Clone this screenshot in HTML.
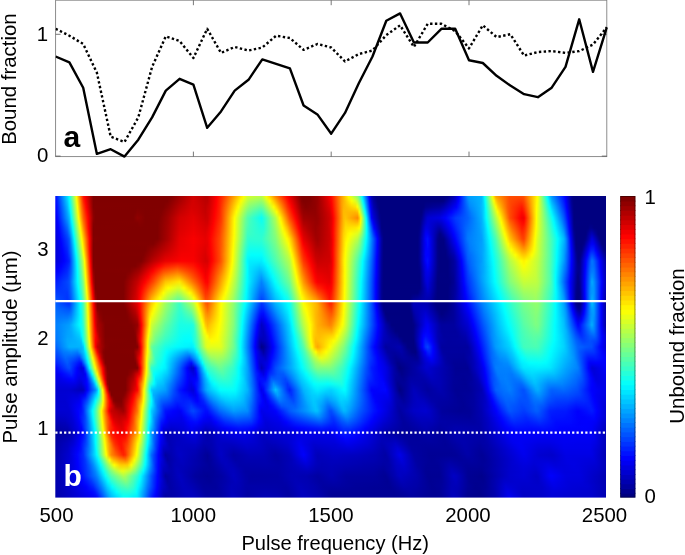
<!DOCTYPE html>
<html><head><meta charset="utf-8"><title>Figure</title>
<style>
html,body{margin:0;padding:0;background:#fff;}
svg{display:block;}
text{font-family:"Liberation Sans",sans-serif;font-size:20.4px;fill:#000;}
.b{font-weight:bold;font-size:30px;}
</style></head><body>
<svg width="685" height="555" viewBox="0 0 685 555">
<rect width="685" height="555" fill="#fff"/>
<defs>
<linearGradient id="g0" gradientUnits="userSpaceOnUse" x1="55.3" x2="606" y1="0" y2="0"><stop offset="0" stop-color="#0005ff"/><stop offset="0.02182" stop-color="#00dbff"/><stop offset="0.02511" stop-color="#00ffff"/><stop offset="0.03828" stop-color="#ffff00"/><stop offset="0.04727" stop-color="#ff4f00"/><stop offset="0.05091" stop-color="#ff1200"/><stop offset="0.05313" stop-color="#ff0000"/><stop offset="0.06909" stop-color="#800000"/><stop offset="0.2109" stop-color="#810000"/><stop offset="0.2509" stop-color="#d00000"/><stop offset="0.2727" stop-color="#b50000"/><stop offset="0.2764" stop-color="#b80000"/><stop offset="0.2938" stop-color="#ff0000"/><stop offset="0.3055" stop-color="#ff3600"/><stop offset="0.3382" stop-color="#ffe900"/><stop offset="0.342" stop-color="#ffff00"/><stop offset="0.3491" stop-color="#d6ff29"/><stop offset="0.36" stop-color="#c9ff36"/><stop offset="0.3745" stop-color="#bdff42"/><stop offset="0.3836" stop-color="#ffff00"/><stop offset="0.4" stop-color="#ff8000"/><stop offset="0.4208" stop-color="#ff0000"/><stop offset="0.4291" stop-color="#d10000"/><stop offset="0.4436" stop-color="#8a0000"/><stop offset="0.4473" stop-color="#800000"/><stop offset="0.4618" stop-color="#800000"/><stop offset="0.4764" stop-color="#990000"/><stop offset="0.4982" stop-color="#f20000"/><stop offset="0.5002" stop-color="#ff0000"/><stop offset="0.52" stop-color="#ff9e00"/><stop offset="0.5326" stop-color="#ffff00"/><stop offset="0.5491" stop-color="#86ff79"/><stop offset="0.5527" stop-color="#4bffb4"/><stop offset="0.5566" stop-color="#00ffff"/><stop offset="0.5699" stop-color="#0000ff"/><stop offset="0.5745" stop-color="#0000a7"/><stop offset="0.5782" stop-color="#000092"/><stop offset="0.5818" stop-color="#000085"/><stop offset="0.5891" stop-color="#000080"/><stop offset="0.7127" stop-color="#000080"/><stop offset="0.7236" stop-color="#0000ad"/><stop offset="0.7273" stop-color="#0000c8"/><stop offset="0.7332" stop-color="#0000ff"/><stop offset="0.7491" stop-color="#0096ff"/><stop offset="0.7527" stop-color="#00a0ff"/><stop offset="0.7745" stop-color="#00b2ff"/><stop offset="0.7795" stop-color="#00ffff"/><stop offset="0.7943" stop-color="#ffff00"/><stop offset="0.8" stop-color="#ff9e00"/><stop offset="0.8255" stop-color="#ff4c00"/><stop offset="0.8473" stop-color="#ff4c00"/><stop offset="0.8509" stop-color="#ff5300"/><stop offset="0.8727" stop-color="#ffea00"/><stop offset="0.8749" stop-color="#ffff00"/><stop offset="0.8764" stop-color="#f1ff0e"/><stop offset="0.8932" stop-color="#00ffff"/><stop offset="0.8982" stop-color="#00b8ff"/><stop offset="0.9018" stop-color="#0093ff"/><stop offset="0.9236" stop-color="#000dff"/><stop offset="0.9253" stop-color="#0000ff"/><stop offset="0.9382" stop-color="#000088"/><stop offset="0.9418" stop-color="#000080"/><stop offset="1" stop-color="#000080"/></linearGradient>
<linearGradient id="g1" gradientUnits="userSpaceOnUse" x1="55.3" x2="606" y1="0" y2="0"><stop offset="0" stop-color="#0006ff"/><stop offset="0.003636" stop-color="#001fff"/><stop offset="0.02182" stop-color="#00ccff"/><stop offset="0.02585" stop-color="#00ffff"/><stop offset="0.03273" stop-color="#81ff7e"/><stop offset="0.03922" stop-color="#ffff00"/><stop offset="0.04727" stop-color="#ff6500"/><stop offset="0.05091" stop-color="#ff2400"/><stop offset="0.05463" stop-color="#ff0000"/><stop offset="0.06909" stop-color="#800000"/><stop offset="0.2036" stop-color="#800000"/><stop offset="0.2473" stop-color="#cf0000"/><stop offset="0.2509" stop-color="#d40000"/><stop offset="0.2727" stop-color="#bc0000"/><stop offset="0.2764" stop-color="#bd0000"/><stop offset="0.2926" stop-color="#ff0000"/><stop offset="0.3018" stop-color="#ff2c00"/><stop offset="0.3371" stop-color="#ffff00"/><stop offset="0.3491" stop-color="#baff45"/><stop offset="0.3527" stop-color="#adff52"/><stop offset="0.3709" stop-color="#96ff69"/><stop offset="0.3745" stop-color="#99ff66"/><stop offset="0.3782" stop-color="#a9ff56"/><stop offset="0.3895" stop-color="#ffff00"/><stop offset="0.4073" stop-color="#ff7700"/><stop offset="0.4246" stop-color="#ff0000"/><stop offset="0.4473" stop-color="#860000"/><stop offset="0.4509" stop-color="#800000"/><stop offset="0.4618" stop-color="#830000"/><stop offset="0.4764" stop-color="#970000"/><stop offset="0.4945" stop-color="#db0000"/><stop offset="0.5018" stop-color="#ff0300"/><stop offset="0.52" stop-color="#ff9e00"/><stop offset="0.5309" stop-color="#ffda00"/><stop offset="0.5383" stop-color="#ffff00"/><stop offset="0.5455" stop-color="#dbff24"/><stop offset="0.5491" stop-color="#b3ff4c"/><stop offset="0.5527" stop-color="#7bff84"/><stop offset="0.5586" stop-color="#00ffff"/><stop offset="0.5709" stop-color="#0000fd"/><stop offset="0.5745" stop-color="#0000c2"/><stop offset="0.5782" stop-color="#00009e"/><stop offset="0.5855" stop-color="#000080"/><stop offset="0.7018" stop-color="#000080"/><stop offset="0.7055" stop-color="#000084"/><stop offset="0.7273" stop-color="#0000db"/><stop offset="0.732" stop-color="#0000ff"/><stop offset="0.7491" stop-color="#0083ff"/><stop offset="0.7527" stop-color="#0096ff"/><stop offset="0.7709" stop-color="#00afff"/><stop offset="0.7745" stop-color="#00baff"/><stop offset="0.7782" stop-color="#00ddff"/><stop offset="0.7804" stop-color="#00ffff"/><stop offset="0.7968" stop-color="#ffff00"/><stop offset="0.8" stop-color="#ffcd00"/><stop offset="0.8036" stop-color="#ffae00"/><stop offset="0.8218" stop-color="#ff5700"/><stop offset="0.8255" stop-color="#ff4a00"/><stop offset="0.8436" stop-color="#ff3700"/><stop offset="0.8473" stop-color="#ff3900"/><stop offset="0.8509" stop-color="#ff4300"/><stop offset="0.8748" stop-color="#ffff00"/><stop offset="0.8764" stop-color="#f3ff0c"/><stop offset="0.8951" stop-color="#00ffff"/><stop offset="0.9018" stop-color="#00adff"/><stop offset="0.9236" stop-color="#001aff"/><stop offset="0.9268" stop-color="#0000ff"/><stop offset="0.9382" stop-color="#00008d"/><stop offset="0.9418" stop-color="#000080"/><stop offset="1" stop-color="#000080"/></linearGradient>
<linearGradient id="g2" gradientUnits="userSpaceOnUse" x1="55.3" x2="606" y1="0" y2="0"><stop offset="0" stop-color="#0001ff"/><stop offset="0.003636" stop-color="#0014ff"/><stop offset="0.02182" stop-color="#00b7ff"/><stop offset="0.02681" stop-color="#00ffff"/><stop offset="0.02909" stop-color="#25ffda"/><stop offset="0.04033" stop-color="#ffff00"/><stop offset="0.04727" stop-color="#ff7900"/><stop offset="0.05091" stop-color="#ff4000"/><stop offset="0.05455" stop-color="#ff1200"/><stop offset="0.05638" stop-color="#ff0000"/><stop offset="0.06909" stop-color="#820000"/><stop offset="0.1964" stop-color="#800000"/><stop offset="0.2073" stop-color="#910000"/><stop offset="0.2255" stop-color="#b70000"/><stop offset="0.2473" stop-color="#d60000"/><stop offset="0.2582" stop-color="#d20000"/><stop offset="0.2727" stop-color="#c10000"/><stop offset="0.28" stop-color="#d10000"/><stop offset="0.2912" stop-color="#ff0000"/><stop offset="0.2982" stop-color="#ff1e00"/><stop offset="0.3323" stop-color="#ffff00"/><stop offset="0.3455" stop-color="#a9ff56"/><stop offset="0.3527" stop-color="#86ff79"/><stop offset="0.3709" stop-color="#64ff9b"/><stop offset="0.3745" stop-color="#68ff97"/><stop offset="0.3782" stop-color="#75ff8a"/><stop offset="0.3969" stop-color="#ffff00"/><stop offset="0.4218" stop-color="#ff2f00"/><stop offset="0.4291" stop-color="#ff0000"/><stop offset="0.4473" stop-color="#930000"/><stop offset="0.4545" stop-color="#850000"/><stop offset="0.4727" stop-color="#900000"/><stop offset="0.4836" stop-color="#ae0000"/><stop offset="0.4982" stop-color="#e00000"/><stop offset="0.5025" stop-color="#ff0000"/><stop offset="0.52" stop-color="#ff9c00"/><stop offset="0.5236" stop-color="#ffb400"/><stop offset="0.5455" stop-color="#ffe500"/><stop offset="0.5482" stop-color="#ffff00"/><stop offset="0.5491" stop-color="#f7ff08"/><stop offset="0.5527" stop-color="#b9ff46"/><stop offset="0.5608" stop-color="#00ffff"/><stop offset="0.5709" stop-color="#0017ff"/><stop offset="0.5723" stop-color="#0000ff"/><stop offset="0.5745" stop-color="#0000da"/><stop offset="0.5782" stop-color="#0000ae"/><stop offset="0.5855" stop-color="#000089"/><stop offset="0.5891" stop-color="#000080"/><stop offset="0.6691" stop-color="#000080"/><stop offset="0.6727" stop-color="#00008b"/><stop offset="0.6873" stop-color="#000096"/><stop offset="0.6982" stop-color="#00009c"/><stop offset="0.7055" stop-color="#0000ad"/><stop offset="0.7284" stop-color="#0000ff"/><stop offset="0.7491" stop-color="#0071ff"/><stop offset="0.7527" stop-color="#0088ff"/><stop offset="0.7709" stop-color="#00adff"/><stop offset="0.7745" stop-color="#00bdff"/><stop offset="0.7782" stop-color="#00d4ff"/><stop offset="0.7813" stop-color="#00ffff"/><stop offset="0.8001" stop-color="#ffff00"/><stop offset="0.8036" stop-color="#ffd400"/><stop offset="0.8218" stop-color="#ff5900"/><stop offset="0.8291" stop-color="#ff3e00"/><stop offset="0.8473" stop-color="#ff1900"/><stop offset="0.8509" stop-color="#ff2e00"/><stop offset="0.8545" stop-color="#ff4a00"/><stop offset="0.874" stop-color="#ffff00"/><stop offset="0.8764" stop-color="#edff12"/><stop offset="0.8836" stop-color="#9fff60"/><stop offset="0.8977" stop-color="#00ffff"/><stop offset="0.9018" stop-color="#00d1ff"/><stop offset="0.9164" stop-color="#0065ff"/><stop offset="0.9236" stop-color="#002eff"/><stop offset="0.9284" stop-color="#0000ff"/><stop offset="0.9382" stop-color="#000096"/><stop offset="0.9418" stop-color="#000080"/><stop offset="1" stop-color="#000080"/></linearGradient>
<linearGradient id="g3" gradientUnits="userSpaceOnUse" x1="55.3" x2="606" y1="0" y2="0"><stop offset="0" stop-color="#0000f6"/><stop offset="0.001499" stop-color="#0000ff"/><stop offset="0.007273" stop-color="#002bff"/><stop offset="0.02182" stop-color="#00a8ff"/><stop offset="0.02545" stop-color="#00d6ff"/><stop offset="0.02788" stop-color="#00ffff"/><stop offset="0.04126" stop-color="#ffff00"/><stop offset="0.04727" stop-color="#ff8b00"/><stop offset="0.05091" stop-color="#ff5200"/><stop offset="0.05455" stop-color="#ff2300"/><stop offset="0.05781" stop-color="#ff0000"/><stop offset="0.06909" stop-color="#880000"/><stop offset="0.07273" stop-color="#800000"/><stop offset="0.1455" stop-color="#800000"/><stop offset="0.1491" stop-color="#850000"/><stop offset="0.1636" stop-color="#800000"/><stop offset="0.1927" stop-color="#820000"/><stop offset="0.2073" stop-color="#9b0000"/><stop offset="0.2255" stop-color="#c30000"/><stop offset="0.2473" stop-color="#dc0000"/><stop offset="0.2582" stop-color="#d60000"/><stop offset="0.2727" stop-color="#c40000"/><stop offset="0.28" stop-color="#d60000"/><stop offset="0.29" stop-color="#ff0000"/><stop offset="0.2982" stop-color="#ff2100"/><stop offset="0.3289" stop-color="#ffff00"/><stop offset="0.3491" stop-color="#75ff8a"/><stop offset="0.36" stop-color="#55ffaa"/><stop offset="0.3709" stop-color="#3cffc3"/><stop offset="0.3745" stop-color="#3affc5"/><stop offset="0.3782" stop-color="#4cffb3"/><stop offset="0.3964" stop-color="#ccff33"/><stop offset="0.4022" stop-color="#ffff00"/><stop offset="0.4218" stop-color="#ff4b00"/><stop offset="0.4291" stop-color="#ff1600"/><stop offset="0.4327" stop-color="#fe0000"/><stop offset="0.4473" stop-color="#a00000"/><stop offset="0.4509" stop-color="#940000"/><stop offset="0.4582" stop-color="#900000"/><stop offset="0.4727" stop-color="#910000"/><stop offset="0.4873" stop-color="#b50000"/><stop offset="0.4982" stop-color="#d50000"/><stop offset="0.5035" stop-color="#ff0000"/><stop offset="0.5236" stop-color="#ffbb00"/><stop offset="0.5455" stop-color="#ffb700"/><stop offset="0.5491" stop-color="#ffc200"/><stop offset="0.5519" stop-color="#ffff00"/><stop offset="0.56" stop-color="#3fffc0"/><stop offset="0.5626" stop-color="#00ffff"/><stop offset="0.5709" stop-color="#0031ff"/><stop offset="0.5733" stop-color="#0000ff"/><stop offset="0.5745" stop-color="#0000e5"/><stop offset="0.5782" stop-color="#0000c1"/><stop offset="0.5891" stop-color="#000080"/><stop offset="0.6655" stop-color="#000080"/><stop offset="0.6727" stop-color="#0000a7"/><stop offset="0.68" stop-color="#0000b3"/><stop offset="0.6982" stop-color="#0000be"/><stop offset="0.7091" stop-color="#0000dd"/><stop offset="0.7189" stop-color="#0000ff"/><stop offset="0.7345" stop-color="#0030ff"/><stop offset="0.7491" stop-color="#0066ff"/><stop offset="0.7564" stop-color="#0084ff"/><stop offset="0.7709" stop-color="#00aaff"/><stop offset="0.7745" stop-color="#00b9ff"/><stop offset="0.7782" stop-color="#00d5ff"/><stop offset="0.782" stop-color="#00ffff"/><stop offset="0.8033" stop-color="#ffff00"/><stop offset="0.8218" stop-color="#ff6000"/><stop offset="0.8255" stop-color="#ff4a00"/><stop offset="0.8473" stop-color="#ff0500"/><stop offset="0.8509" stop-color="#ff1500"/><stop offset="0.8582" stop-color="#ff5c00"/><stop offset="0.8737" stop-color="#ffff00"/><stop offset="0.88" stop-color="#c9ff36"/><stop offset="0.9" stop-color="#00ffff"/><stop offset="0.9055" stop-color="#00cdff"/><stop offset="0.9236" stop-color="#0042ff"/><stop offset="0.9298" stop-color="#0000ff"/><stop offset="0.9382" stop-color="#00009e"/><stop offset="0.9418" stop-color="#000080"/><stop offset="1" stop-color="#000080"/></linearGradient>
<linearGradient id="g4" gradientUnits="userSpaceOnUse" x1="55.3" x2="606" y1="0" y2="0"><stop offset="0" stop-color="#0000e6"/><stop offset="0.003636" stop-color="#0003ff"/><stop offset="0.02182" stop-color="#0097ff"/><stop offset="0.02545" stop-color="#00b9ff"/><stop offset="0.02911" stop-color="#00ffff"/><stop offset="0.04241" stop-color="#ffff00"/><stop offset="0.04727" stop-color="#ffa200"/><stop offset="0.05091" stop-color="#ff6200"/><stop offset="0.0594" stop-color="#ff0000"/><stop offset="0.06909" stop-color="#8f0000"/><stop offset="0.07273" stop-color="#800000"/><stop offset="0.1418" stop-color="#800000"/><stop offset="0.1491" stop-color="#900000"/><stop offset="0.1564" stop-color="#890000"/><stop offset="0.1636" stop-color="#800000"/><stop offset="0.1891" stop-color="#820000"/><stop offset="0.2036" stop-color="#9d0000"/><stop offset="0.2255" stop-color="#d20000"/><stop offset="0.2509" stop-color="#e50000"/><stop offset="0.2727" stop-color="#cb0000"/><stop offset="0.2764" stop-color="#cd0000"/><stop offset="0.2886" stop-color="#ff0000"/><stop offset="0.2982" stop-color="#ff2700"/><stop offset="0.3018" stop-color="#ff3d00"/><stop offset="0.3257" stop-color="#ffff00"/><stop offset="0.3491" stop-color="#53ffac"/><stop offset="0.3564" stop-color="#3affc5"/><stop offset="0.3745" stop-color="#08fff7"/><stop offset="0.3818" stop-color="#34ffcb"/><stop offset="0.4" stop-color="#b1ff4e"/><stop offset="0.4077" stop-color="#ffff00"/><stop offset="0.4255" stop-color="#ff4c00"/><stop offset="0.4364" stop-color="#ff0000"/><stop offset="0.4473" stop-color="#b30000"/><stop offset="0.4509" stop-color="#9f0000"/><stop offset="0.4727" stop-color="#950000"/><stop offset="0.4764" stop-color="#970000"/><stop offset="0.4982" stop-color="#cd0000"/><stop offset="0.5018" stop-color="#e30000"/><stop offset="0.5047" stop-color="#ff0000"/><stop offset="0.5236" stop-color="#ffba00"/><stop offset="0.5273" stop-color="#ffc200"/><stop offset="0.5491" stop-color="#ff8800"/><stop offset="0.5527" stop-color="#ffca00"/><stop offset="0.5548" stop-color="#ffff00"/><stop offset="0.5645" stop-color="#00ffff"/><stop offset="0.5742" stop-color="#0000ff"/><stop offset="0.5745" stop-color="#0000f6"/><stop offset="0.5782" stop-color="#0000d3"/><stop offset="0.5891" stop-color="#00008a"/><stop offset="0.5927" stop-color="#000080"/><stop offset="0.6618" stop-color="#000080"/><stop offset="0.6655" stop-color="#00008c"/><stop offset="0.6727" stop-color="#0000c1"/><stop offset="0.6764" stop-color="#0000d3"/><stop offset="0.6982" stop-color="#0000e2"/><stop offset="0.7091" stop-color="#0002ff"/><stop offset="0.7273" stop-color="#003bff"/><stop offset="0.7491" stop-color="#0060ff"/><stop offset="0.7745" stop-color="#00b1ff"/><stop offset="0.7826" stop-color="#00ffff"/><stop offset="0.8077" stop-color="#ffff00"/><stop offset="0.8255" stop-color="#ff4d00"/><stop offset="0.8442" stop-color="#ff0000"/><stop offset="0.8473" stop-color="#f30000"/><stop offset="0.8509" stop-color="#f20000"/><stop offset="0.852" stop-color="#ff0000"/><stop offset="0.8738" stop-color="#ffff00"/><stop offset="0.8764" stop-color="#e4ff1b"/><stop offset="0.9033" stop-color="#00ffff"/><stop offset="0.9236" stop-color="#0059ff"/><stop offset="0.9309" stop-color="#0005ff"/><stop offset="0.9313" stop-color="#0000ff"/><stop offset="0.9418" stop-color="#000080"/><stop offset="1" stop-color="#000080"/></linearGradient>
<linearGradient id="g5" gradientUnits="userSpaceOnUse" x1="55.3" x2="606" y1="0" y2="0"><stop offset="0" stop-color="#0000e5"/><stop offset="0.004643" stop-color="#0000ff"/><stop offset="0.02182" stop-color="#0081ff"/><stop offset="0.02545" stop-color="#00a9ff"/><stop offset="0.03039" stop-color="#00ffff"/><stop offset="0.04376" stop-color="#ffff00"/><stop offset="0.05091" stop-color="#ff7800"/><stop offset="0.05985" stop-color="#ff0000"/><stop offset="0.06909" stop-color="#860000"/><stop offset="0.07273" stop-color="#800000"/><stop offset="0.1491" stop-color="#820000"/><stop offset="0.1527" stop-color="#860000"/><stop offset="0.1636" stop-color="#800000"/><stop offset="0.1855" stop-color="#800000"/><stop offset="0.2036" stop-color="#a00000"/><stop offset="0.2255" stop-color="#d60000"/><stop offset="0.2509" stop-color="#e90000"/><stop offset="0.2727" stop-color="#d40000"/><stop offset="0.2764" stop-color="#d40000"/><stop offset="0.2873" stop-color="#ff0200"/><stop offset="0.2982" stop-color="#ff3000"/><stop offset="0.3018" stop-color="#ff4300"/><stop offset="0.3253" stop-color="#ffff00"/><stop offset="0.3455" stop-color="#66ff99"/><stop offset="0.3527" stop-color="#42ffbd"/><stop offset="0.3745" stop-color="#16ffe9"/><stop offset="0.3782" stop-color="#1fffe0"/><stop offset="0.4" stop-color="#a5ff5a"/><stop offset="0.4102" stop-color="#ffff00"/><stop offset="0.4255" stop-color="#ff6f00"/><stop offset="0.4394" stop-color="#ff0000"/><stop offset="0.4473" stop-color="#c50000"/><stop offset="0.4509" stop-color="#af0000"/><stop offset="0.4727" stop-color="#990000"/><stop offset="0.4764" stop-color="#990000"/><stop offset="0.4945" stop-color="#c40000"/><stop offset="0.5018" stop-color="#e50000"/><stop offset="0.5044" stop-color="#ff0000"/><stop offset="0.52" stop-color="#ff9d00"/><stop offset="0.5236" stop-color="#ffbd00"/><stop offset="0.5273" stop-color="#ffd300"/><stop offset="0.5455" stop-color="#ffbf00"/><stop offset="0.5491" stop-color="#ffc200"/><stop offset="0.5527" stop-color="#ffe300"/><stop offset="0.554" stop-color="#ffff00"/><stop offset="0.5651" stop-color="#00ffff"/><stop offset="0.5745" stop-color="#0026ff"/><stop offset="0.577" stop-color="#0000ff"/><stop offset="0.5782" stop-color="#0000ec"/><stop offset="0.5891" stop-color="#000094"/><stop offset="0.5927" stop-color="#000080"/><stop offset="0.6618" stop-color="#000080"/><stop offset="0.6691" stop-color="#0000b6"/><stop offset="0.6727" stop-color="#0000cc"/><stop offset="0.6764" stop-color="#0000d9"/><stop offset="0.6945" stop-color="#0000c2"/><stop offset="0.7018" stop-color="#0000ce"/><stop offset="0.7141" stop-color="#0000ff"/><stop offset="0.7273" stop-color="#0032ff"/><stop offset="0.7491" stop-color="#0067ff"/><stop offset="0.7709" stop-color="#00a0ff"/><stop offset="0.7745" stop-color="#00afff"/><stop offset="0.7782" stop-color="#00c8ff"/><stop offset="0.7841" stop-color="#00ffff"/><stop offset="0.8036" stop-color="#bcff43"/><stop offset="0.8103" stop-color="#ffff00"/><stop offset="0.8255" stop-color="#ff6c00"/><stop offset="0.8364" stop-color="#ff3700"/><stop offset="0.8436" stop-color="#ff1600"/><stop offset="0.8473" stop-color="#ff0b00"/><stop offset="0.8509" stop-color="#ff0900"/><stop offset="0.8582" stop-color="#ff5400"/><stop offset="0.8736" stop-color="#ffff00"/><stop offset="0.8764" stop-color="#e3ff1c"/><stop offset="0.9055" stop-color="#00feff"/><stop offset="0.92" stop-color="#008fff"/><stop offset="0.9273" stop-color="#0044ff"/><stop offset="0.9324" stop-color="#0000ff"/><stop offset="0.9418" stop-color="#000082"/><stop offset="1" stop-color="#000080"/></linearGradient>
<linearGradient id="g6" gradientUnits="userSpaceOnUse" x1="55.3" x2="606" y1="0" y2="0"><stop offset="0" stop-color="#0000e2"/><stop offset="0.003636" stop-color="#0000ef"/><stop offset="0.006063" stop-color="#0000ff"/><stop offset="0.02182" stop-color="#0068ff"/><stop offset="0.02545" stop-color="#0096ff"/><stop offset="0.02909" stop-color="#00ceff"/><stop offset="0.03167" stop-color="#00ffff"/><stop offset="0.04511" stop-color="#ffff00"/><stop offset="0.05091" stop-color="#ff9200"/><stop offset="0.05455" stop-color="#ff5600"/><stop offset="0.06046" stop-color="#ff0000"/><stop offset="0.06909" stop-color="#810000"/><stop offset="0.1855" stop-color="#800000"/><stop offset="0.2036" stop-color="#a30000"/><stop offset="0.2255" stop-color="#da0000"/><stop offset="0.2509" stop-color="#ed0000"/><stop offset="0.2727" stop-color="#da0000"/><stop offset="0.2764" stop-color="#df0000"/><stop offset="0.2851" stop-color="#ff0000"/><stop offset="0.2982" stop-color="#ff3700"/><stop offset="0.3055" stop-color="#ff6600"/><stop offset="0.325" stop-color="#ffff00"/><stop offset="0.3455" stop-color="#60ff9f"/><stop offset="0.3491" stop-color="#4bffb4"/><stop offset="0.3527" stop-color="#3effc1"/><stop offset="0.3709" stop-color="#23ffdc"/><stop offset="0.3782" stop-color="#24ffdb"/><stop offset="0.3964" stop-color="#82ff7d"/><stop offset="0.4036" stop-color="#b2ff4d"/><stop offset="0.413" stop-color="#ffff00"/><stop offset="0.4218" stop-color="#ffb700"/><stop offset="0.4291" stop-color="#ff6f00"/><stop offset="0.4422" stop-color="#ff0000"/><stop offset="0.4473" stop-color="#d40000"/><stop offset="0.4509" stop-color="#c20000"/><stop offset="0.4582" stop-color="#b00000"/><stop offset="0.4727" stop-color="#9a0000"/><stop offset="0.4836" stop-color="#ac0000"/><stop offset="0.4945" stop-color="#c40000"/><stop offset="0.4982" stop-color="#d10000"/><stop offset="0.5018" stop-color="#e90000"/><stop offset="0.5041" stop-color="#ff0000"/><stop offset="0.52" stop-color="#ffa300"/><stop offset="0.5236" stop-color="#ffc400"/><stop offset="0.5273" stop-color="#ffde00"/><stop offset="0.5455" stop-color="#ffea00"/><stop offset="0.5491" stop-color="#fff300"/><stop offset="0.5516" stop-color="#ffff00"/><stop offset="0.5527" stop-color="#faff05"/><stop offset="0.5655" stop-color="#00ffff"/><stop offset="0.5745" stop-color="#004dff"/><stop offset="0.5782" stop-color="#000aff"/><stop offset="0.5793" stop-color="#0000ff"/><stop offset="0.5927" stop-color="#000080"/><stop offset="0.6582" stop-color="#000080"/><stop offset="0.6618" stop-color="#000085"/><stop offset="0.6691" stop-color="#0000c4"/><stop offset="0.6727" stop-color="#0000df"/><stop offset="0.6764" stop-color="#0000e0"/><stop offset="0.6873" stop-color="#0000c2"/><stop offset="0.6945" stop-color="#0000ab"/><stop offset="0.6982" stop-color="#0000a6"/><stop offset="0.7091" stop-color="#0000d3"/><stop offset="0.7185" stop-color="#0000ff"/><stop offset="0.7309" stop-color="#0034ff"/><stop offset="0.7455" stop-color="#0065ff"/><stop offset="0.7709" stop-color="#009dff"/><stop offset="0.7782" stop-color="#00c0ff"/><stop offset="0.7855" stop-color="#00ffff"/><stop offset="0.8" stop-color="#80ff7f"/><stop offset="0.813" stop-color="#ffff00"/><stop offset="0.8218" stop-color="#ffa800"/><stop offset="0.8291" stop-color="#ff7200"/><stop offset="0.8473" stop-color="#ff1a00"/><stop offset="0.8509" stop-color="#ff2300"/><stop offset="0.8545" stop-color="#ff3b00"/><stop offset="0.8731" stop-color="#ffff00"/><stop offset="0.88" stop-color="#c6ff39"/><stop offset="0.9074" stop-color="#00ffff"/><stop offset="0.92" stop-color="#00a5ff"/><stop offset="0.9236" stop-color="#0083ff"/><stop offset="0.9273" stop-color="#0057ff"/><stop offset="0.9335" stop-color="#0000ff"/><stop offset="0.9418" stop-color="#000088"/><stop offset="0.9455" stop-color="#000080"/><stop offset="0.9673" stop-color="#000080"/><stop offset="0.9709" stop-color="#00008b"/><stop offset="0.9745" stop-color="#00008b"/><stop offset="0.9782" stop-color="#000081"/><stop offset="1" stop-color="#000080"/></linearGradient>
<linearGradient id="g7" gradientUnits="userSpaceOnUse" x1="55.3" x2="606" y1="0" y2="0"><stop offset="0" stop-color="#0000db"/><stop offset="0.007273" stop-color="#0000fc"/><stop offset="0.02182" stop-color="#004fff"/><stop offset="0.02545" stop-color="#0076ff"/><stop offset="0.02909" stop-color="#00b2ff"/><stop offset="0.03321" stop-color="#00ffff"/><stop offset="0.04672" stop-color="#ffff00"/><stop offset="0.05455" stop-color="#ff7000"/><stop offset="0.06136" stop-color="#ff0000"/><stop offset="0.06909" stop-color="#800000"/><stop offset="0.1855" stop-color="#800000"/><stop offset="0.2036" stop-color="#a60000"/><stop offset="0.2255" stop-color="#e00000"/><stop offset="0.2509" stop-color="#f30000"/><stop offset="0.2727" stop-color="#e10000"/><stop offset="0.28" stop-color="#f30000"/><stop offset="0.2836" stop-color="#ff0300"/><stop offset="0.2982" stop-color="#ff3e00"/><stop offset="0.3091" stop-color="#ff8900"/><stop offset="0.3247" stop-color="#ffff00"/><stop offset="0.3491" stop-color="#3effc1"/><stop offset="0.3636" stop-color="#2fffd0"/><stop offset="0.3745" stop-color="#29ffd6"/><stop offset="0.3782" stop-color="#30ffcf"/><stop offset="0.4" stop-color="#8bff74"/><stop offset="0.4169" stop-color="#ffff00"/><stop offset="0.4218" stop-color="#ffdc00"/><stop offset="0.4291" stop-color="#ff9800"/><stop offset="0.4452" stop-color="#ff0000"/><stop offset="0.4473" stop-color="#eb0000"/><stop offset="0.4509" stop-color="#d50000"/><stop offset="0.4582" stop-color="#c00000"/><stop offset="0.4727" stop-color="#9e0000"/><stop offset="0.48" stop-color="#a60000"/><stop offset="0.4982" stop-color="#cd0000"/><stop offset="0.504" stop-color="#ff0000"/><stop offset="0.5236" stop-color="#ffd100"/><stop offset="0.5309" stop-color="#fff400"/><stop offset="0.5356" stop-color="#ffff00"/><stop offset="0.5491" stop-color="#dcff23"/><stop offset="0.5527" stop-color="#bcff43"/><stop offset="0.5564" stop-color="#8dff72"/><stop offset="0.5654" stop-color="#00ffff"/><stop offset="0.5782" stop-color="#0036ff"/><stop offset="0.5826" stop-color="#0000ff"/><stop offset="0.5927" stop-color="#00008e"/><stop offset="0.5964" stop-color="#000080"/><stop offset="0.6582" stop-color="#000080"/><stop offset="0.6618" stop-color="#00008d"/><stop offset="0.6727" stop-color="#0000f5"/><stop offset="0.6764" stop-color="#0000f4"/><stop offset="0.6873" stop-color="#0000bd"/><stop offset="0.6982" stop-color="#000082"/><stop offset="0.7018" stop-color="#00008e"/><stop offset="0.7228" stop-color="#0000ff"/><stop offset="0.7491" stop-color="#0077ff"/><stop offset="0.7709" stop-color="#009aff"/><stop offset="0.7745" stop-color="#00a4ff"/><stop offset="0.7818" stop-color="#00d4ff"/><stop offset="0.7874" stop-color="#00ffff"/><stop offset="0.8" stop-color="#64ff9b"/><stop offset="0.8162" stop-color="#ffff00"/><stop offset="0.8255" stop-color="#ffab00"/><stop offset="0.8327" stop-color="#ff7f00"/><stop offset="0.8473" stop-color="#ff3200"/><stop offset="0.8509" stop-color="#ff3800"/><stop offset="0.8545" stop-color="#ff5000"/><stop offset="0.8721" stop-color="#ffff00"/><stop offset="0.88" stop-color="#c3ff3c"/><stop offset="0.9101" stop-color="#00ffff"/><stop offset="0.9236" stop-color="#00a5ff"/><stop offset="0.9348" stop-color="#0000ff"/><stop offset="0.9418" stop-color="#000093"/><stop offset="0.9455" stop-color="#000080"/><stop offset="0.9636" stop-color="#000080"/><stop offset="0.9709" stop-color="#0000ac"/><stop offset="0.9745" stop-color="#0000ba"/><stop offset="0.9855" stop-color="#000080"/><stop offset="1" stop-color="#000080"/></linearGradient>
<linearGradient id="g8" gradientUnits="userSpaceOnUse" x1="55.3" x2="606" y1="0" y2="0"><stop offset="0" stop-color="#0000d1"/><stop offset="0.009348" stop-color="#0000ff"/><stop offset="0.02182" stop-color="#003dff"/><stop offset="0.02545" stop-color="#0056ff"/><stop offset="0.03449" stop-color="#00ffff"/><stop offset="0.04808" stop-color="#ffff00"/><stop offset="0.0622" stop-color="#ff0000"/><stop offset="0.06909" stop-color="#830000"/><stop offset="0.08364" stop-color="#800000"/><stop offset="0.1855" stop-color="#800000"/><stop offset="0.2036" stop-color="#a80000"/><stop offset="0.2255" stop-color="#e60000"/><stop offset="0.2509" stop-color="#f90000"/><stop offset="0.2727" stop-color="#e70000"/><stop offset="0.2764" stop-color="#eb0000"/><stop offset="0.2813" stop-color="#ff0000"/><stop offset="0.2982" stop-color="#ff4500"/><stop offset="0.3055" stop-color="#ff7400"/><stop offset="0.3243" stop-color="#ffff00"/><stop offset="0.3491" stop-color="#35ffca"/><stop offset="0.3527" stop-color="#2effd1"/><stop offset="0.3745" stop-color="#2effd1"/><stop offset="0.4" stop-color="#80ff7f"/><stop offset="0.4208" stop-color="#ffff00"/><stop offset="0.4255" stop-color="#ffe000"/><stop offset="0.4475" stop-color="#ff0000"/><stop offset="0.4509" stop-color="#e30000"/><stop offset="0.4727" stop-color="#a40000"/><stop offset="0.4764" stop-color="#a10000"/><stop offset="0.4982" stop-color="#cd0000"/><stop offset="0.5018" stop-color="#e50000"/><stop offset="0.5042" stop-color="#ff0000"/><stop offset="0.5236" stop-color="#ffd600"/><stop offset="0.5273" stop-color="#ffef00"/><stop offset="0.5313" stop-color="#ffff00"/><stop offset="0.5491" stop-color="#b7ff48"/><stop offset="0.5527" stop-color="#92ff6d"/><stop offset="0.5646" stop-color="#00ffff"/><stop offset="0.585" stop-color="#0000ff"/><stop offset="0.5927" stop-color="#00009e"/><stop offset="0.5964" stop-color="#000080"/><stop offset="0.6582" stop-color="#000080"/><stop offset="0.6618" stop-color="#000092"/><stop offset="0.6727" stop-color="#0002ff"/><stop offset="0.6764" stop-color="#000fff"/><stop offset="0.6784" stop-color="#0000ff"/><stop offset="0.6945" stop-color="#000089"/><stop offset="0.6982" stop-color="#000080"/><stop offset="0.7055" stop-color="#000083"/><stop offset="0.726" stop-color="#0000ff"/><stop offset="0.7491" stop-color="#007bff"/><stop offset="0.7709" stop-color="#0099ff"/><stop offset="0.7745" stop-color="#009eff"/><stop offset="0.7891" stop-color="#01fffe"/><stop offset="0.8" stop-color="#4dffb2"/><stop offset="0.819" stop-color="#ffff00"/><stop offset="0.8255" stop-color="#ffc400"/><stop offset="0.8473" stop-color="#ff4700"/><stop offset="0.8509" stop-color="#ff4100"/><stop offset="0.8712" stop-color="#ffff00"/><stop offset="0.8764" stop-color="#d4ff2b"/><stop offset="0.9091" stop-color="#15ffea"/><stop offset="0.9127" stop-color="#00fdff"/><stop offset="0.9236" stop-color="#00baff"/><stop offset="0.9273" stop-color="#008dff"/><stop offset="0.9359" stop-color="#0000ff"/><stop offset="0.9418" stop-color="#00009f"/><stop offset="0.9455" stop-color="#000080"/><stop offset="0.96" stop-color="#000080"/><stop offset="0.9636" stop-color="#000089"/><stop offset="0.9745" stop-color="#0000e1"/><stop offset="0.9782" stop-color="#0000cd"/><stop offset="0.9891" stop-color="#000080"/><stop offset="1" stop-color="#000080"/></linearGradient>
<linearGradient id="g9" gradientUnits="userSpaceOnUse" x1="55.3" x2="606" y1="0" y2="0"><stop offset="0" stop-color="#0000d4"/><stop offset="0.007273" stop-color="#0000ef"/><stop offset="0.01091" stop-color="#0000ff"/><stop offset="0.02182" stop-color="#0034ff"/><stop offset="0.02545" stop-color="#004fff"/><stop offset="0.02909" stop-color="#0089ff"/><stop offset="0.03557" stop-color="#00ffff"/><stop offset="0.04727" stop-color="#d8ff27"/><stop offset="0.04922" stop-color="#ffff00"/><stop offset="0.06227" stop-color="#ff0000"/><stop offset="0.06909" stop-color="#800000"/><stop offset="0.1782" stop-color="#820000"/><stop offset="0.2109" stop-color="#c70000"/><stop offset="0.2255" stop-color="#e80000"/><stop offset="0.2509" stop-color="#f80000"/><stop offset="0.2727" stop-color="#e50000"/><stop offset="0.2764" stop-color="#e70000"/><stop offset="0.2819" stop-color="#ff0000"/><stop offset="0.2982" stop-color="#ff4700"/><stop offset="0.3018" stop-color="#ff5b00"/><stop offset="0.3236" stop-color="#feff01"/><stop offset="0.3455" stop-color="#45ffba"/><stop offset="0.3491" stop-color="#2effd1"/><stop offset="0.3527" stop-color="#20ffdf"/><stop offset="0.3745" stop-color="#23ffdc"/><stop offset="0.3855" stop-color="#43ffbc"/><stop offset="0.4" stop-color="#75ff8a"/><stop offset="0.4218" stop-color="#efff10"/><stop offset="0.424" stop-color="#ffff00"/><stop offset="0.4291" stop-color="#ffd100"/><stop offset="0.4473" stop-color="#ff1700"/><stop offset="0.4498" stop-color="#ff0000"/><stop offset="0.4509" stop-color="#f60000"/><stop offset="0.4727" stop-color="#af0000"/><stop offset="0.4764" stop-color="#a80000"/><stop offset="0.4945" stop-color="#c60000"/><stop offset="0.4982" stop-color="#d30000"/><stop offset="0.5018" stop-color="#e60000"/><stop offset="0.504" stop-color="#ff0000"/><stop offset="0.5236" stop-color="#ffd900"/><stop offset="0.5273" stop-color="#fff800"/><stop offset="0.5287" stop-color="#ffff00"/><stop offset="0.5491" stop-color="#9bff64"/><stop offset="0.5527" stop-color="#7eff81"/><stop offset="0.5636" stop-color="#00ffff"/><stop offset="0.5818" stop-color="#0025ff"/><stop offset="0.5848" stop-color="#0000ff"/><stop offset="0.5927" stop-color="#00009d"/><stop offset="0.5964" stop-color="#000080"/><stop offset="0.6582" stop-color="#000080"/><stop offset="0.6618" stop-color="#000092"/><stop offset="0.6691" stop-color="#0000dc"/><stop offset="0.6737" stop-color="#0000ff"/><stop offset="0.6764" stop-color="#000fff"/><stop offset="0.6785" stop-color="#0000ff"/><stop offset="0.6945" stop-color="#000089"/><stop offset="0.6982" stop-color="#000080"/><stop offset="0.7055" stop-color="#000080"/><stop offset="0.7127" stop-color="#0000a1"/><stop offset="0.7236" stop-color="#0000de"/><stop offset="0.729" stop-color="#0000ff"/><stop offset="0.7455" stop-color="#0060ff"/><stop offset="0.7527" stop-color="#007eff"/><stop offset="0.7745" stop-color="#00a1ff"/><stop offset="0.7782" stop-color="#00b1ff"/><stop offset="0.7903" stop-color="#00ffff"/><stop offset="0.8" stop-color="#40ffbf"/><stop offset="0.8225" stop-color="#ffff00"/><stop offset="0.8255" stop-color="#ffe700"/><stop offset="0.8473" stop-color="#ff7400"/><stop offset="0.8509" stop-color="#ff6700"/><stop offset="0.8655" stop-color="#ffd600"/><stop offset="0.8706" stop-color="#ffff00"/><stop offset="0.8764" stop-color="#d0ff2f"/><stop offset="0.9018" stop-color="#40ffbf"/><stop offset="0.9118" stop-color="#00ffff"/><stop offset="0.9236" stop-color="#00b0ff"/><stop offset="0.9273" stop-color="#008dff"/><stop offset="0.9365" stop-color="#0000ff"/><stop offset="0.9418" stop-color="#0000ae"/><stop offset="0.9455" stop-color="#000080"/><stop offset="0.9564" stop-color="#000080"/><stop offset="0.96" stop-color="#000087"/><stop offset="0.9709" stop-color="#0000e6"/><stop offset="0.9745" stop-color="#0000f6"/><stop offset="0.9782" stop-color="#0000ee"/><stop offset="0.9927" stop-color="#000080"/><stop offset="1" stop-color="#000080"/></linearGradient>
<linearGradient id="g10" gradientUnits="userSpaceOnUse" x1="55.3" x2="606" y1="0" y2="0"><stop offset="0" stop-color="#0000d5"/><stop offset="0.003636" stop-color="#0000dc"/><stop offset="0.01261" stop-color="#0000ff"/><stop offset="0.02182" stop-color="#0024ff"/><stop offset="0.02545" stop-color="#0047ff"/><stop offset="0.02909" stop-color="#0077ff"/><stop offset="0.03685" stop-color="#00ffff"/><stop offset="0.04727" stop-color="#b7ff48"/><stop offset="0.05061" stop-color="#ffff00"/><stop offset="0.06257" stop-color="#ff0000"/><stop offset="0.06545" stop-color="#c20000"/><stop offset="0.06909" stop-color="#800000"/><stop offset="0.1636" stop-color="#800000"/><stop offset="0.1855" stop-color="#a50000"/><stop offset="0.2255" stop-color="#ed0000"/><stop offset="0.2509" stop-color="#f60000"/><stop offset="0.2727" stop-color="#de0000"/><stop offset="0.28" stop-color="#f30000"/><stop offset="0.2827" stop-color="#ff0000"/><stop offset="0.2982" stop-color="#ff4700"/><stop offset="0.3055" stop-color="#ff7800"/><stop offset="0.3228" stop-color="#ffff00"/><stop offset="0.3455" stop-color="#36ffc9"/><stop offset="0.3491" stop-color="#1effe1"/><stop offset="0.3527" stop-color="#0ffff0"/><stop offset="0.3709" stop-color="#0ffff0"/><stop offset="0.3782" stop-color="#1affe5"/><stop offset="0.4036" stop-color="#75ff8a"/><stop offset="0.4218" stop-color="#d2ff2d"/><stop offset="0.4271" stop-color="#ffff00"/><stop offset="0.4473" stop-color="#ff2c00"/><stop offset="0.454" stop-color="#ff0000"/><stop offset="0.4727" stop-color="#ba0000"/><stop offset="0.48" stop-color="#b70000"/><stop offset="0.4945" stop-color="#c80000"/><stop offset="0.4982" stop-color="#d20000"/><stop offset="0.5018" stop-color="#eb0000"/><stop offset="0.5037" stop-color="#ff0000"/><stop offset="0.5236" stop-color="#ffde00"/><stop offset="0.5273" stop-color="#feff01"/><stop offset="0.5491" stop-color="#7eff81"/><stop offset="0.5527" stop-color="#65ff9a"/><stop offset="0.5621" stop-color="#00ffff"/><stop offset="0.5745" stop-color="#0076ff"/><stop offset="0.5845" stop-color="#0000ff"/><stop offset="0.5927" stop-color="#00009b"/><stop offset="0.5964" stop-color="#000080"/><stop offset="0.6582" stop-color="#000080"/><stop offset="0.6618" stop-color="#000092"/><stop offset="0.6727" stop-color="#0000fe"/><stop offset="0.6764" stop-color="#0003ff"/><stop offset="0.68" stop-color="#0000f4"/><stop offset="0.6945" stop-color="#000089"/><stop offset="0.6982" stop-color="#000080"/><stop offset="0.7091" stop-color="#000083"/><stop offset="0.7236" stop-color="#0000c4"/><stop offset="0.7324" stop-color="#0000ff"/><stop offset="0.7455" stop-color="#0056ff"/><stop offset="0.7527" stop-color="#0077ff"/><stop offset="0.7745" stop-color="#00a2ff"/><stop offset="0.7782" stop-color="#00aeff"/><stop offset="0.7919" stop-color="#00ffff"/><stop offset="0.8036" stop-color="#4affb5"/><stop offset="0.8218" stop-color="#d7ff28"/><stop offset="0.8282" stop-color="#ffff00"/><stop offset="0.8473" stop-color="#ffa500"/><stop offset="0.8509" stop-color="#ffa000"/><stop offset="0.8545" stop-color="#ffa800"/><stop offset="0.8691" stop-color="#feff01"/><stop offset="0.88" stop-color="#b8ff47"/><stop offset="0.8982" stop-color="#56ffa9"/><stop offset="0.9111" stop-color="#00ffff"/><stop offset="0.9236" stop-color="#00a7ff"/><stop offset="0.9273" stop-color="#0087ff"/><stop offset="0.937" stop-color="#0000ff"/><stop offset="0.9455" stop-color="#000089"/><stop offset="0.9491" stop-color="#000080"/><stop offset="0.9564" stop-color="#000084"/><stop offset="0.9692" stop-color="#0000ff"/><stop offset="0.9709" stop-color="#0011ff"/><stop offset="0.9745" stop-color="#001dff"/><stop offset="0.9782" stop-color="#0018ff"/><stop offset="0.9811" stop-color="#0000ff"/><stop offset="0.9964" stop-color="#000082"/><stop offset="1" stop-color="#000080"/></linearGradient>
<linearGradient id="g11" gradientUnits="userSpaceOnUse" x1="55.3" x2="606" y1="0" y2="0"><stop offset="0" stop-color="#0000d4"/><stop offset="0.01091" stop-color="#0000f4"/><stop offset="0.01455" stop-color="#0001ff"/><stop offset="0.02182" stop-color="#001aff"/><stop offset="0.02545" stop-color="#0039ff"/><stop offset="0.02909" stop-color="#006aff"/><stop offset="0.0379" stop-color="#00ffff"/><stop offset="0.04727" stop-color="#9fff60"/><stop offset="0.05179" stop-color="#ffff00"/><stop offset="0.06297" stop-color="#ff0000"/><stop offset="0.06545" stop-color="#c60000"/><stop offset="0.06909" stop-color="#800000"/><stop offset="0.16" stop-color="#810000"/><stop offset="0.2" stop-color="#d20000"/><stop offset="0.2291" stop-color="#f50000"/><stop offset="0.2509" stop-color="#f60000"/><stop offset="0.2727" stop-color="#d90000"/><stop offset="0.28" stop-color="#ef0000"/><stop offset="0.2836" stop-color="#ff0100"/><stop offset="0.2982" stop-color="#ff4500"/><stop offset="0.3127" stop-color="#ffb300"/><stop offset="0.3223" stop-color="#ffff00"/><stop offset="0.3491" stop-color="#0bfff4"/><stop offset="0.3564" stop-color="#01fffe"/><stop offset="0.3745" stop-color="#03fffc"/><stop offset="0.4" stop-color="#5bffa4"/><stop offset="0.4218" stop-color="#bcff43"/><stop offset="0.4255" stop-color="#d7ff28"/><stop offset="0.4295" stop-color="#ffff00"/><stop offset="0.4473" stop-color="#ff3f00"/><stop offset="0.4509" stop-color="#ff2300"/><stop offset="0.4581" stop-color="#ff0000"/><stop offset="0.4727" stop-color="#c40000"/><stop offset="0.48" stop-color="#bf0000"/><stop offset="0.4982" stop-color="#ce0000"/><stop offset="0.5037" stop-color="#ff0000"/><stop offset="0.5236" stop-color="#ffe500"/><stop offset="0.5267" stop-color="#ffff00"/><stop offset="0.5382" stop-color="#b0ff4f"/><stop offset="0.5491" stop-color="#69ff96"/><stop offset="0.5564" stop-color="#2affd5"/><stop offset="0.5605" stop-color="#00ffff"/><stop offset="0.5745" stop-color="#006fff"/><stop offset="0.584" stop-color="#0000ff"/><stop offset="0.5927" stop-color="#000099"/><stop offset="0.5964" stop-color="#000080"/><stop offset="0.6582" stop-color="#000080"/><stop offset="0.6618" stop-color="#000092"/><stop offset="0.6727" stop-color="#0002ff"/><stop offset="0.6772" stop-color="#0000ff"/><stop offset="0.68" stop-color="#0000f4"/><stop offset="0.6945" stop-color="#000089"/><stop offset="0.6982" stop-color="#000080"/><stop offset="0.7091" stop-color="#000080"/><stop offset="0.7236" stop-color="#0000ae"/><stop offset="0.7349" stop-color="#0000ff"/><stop offset="0.7491" stop-color="#0063ff"/><stop offset="0.7636" stop-color="#0087ff"/><stop offset="0.7745" stop-color="#00a0ff"/><stop offset="0.7818" stop-color="#00c1ff"/><stop offset="0.7932" stop-color="#00ffff"/><stop offset="0.8036" stop-color="#3dffc2"/><stop offset="0.8255" stop-color="#d1ff2e"/><stop offset="0.8355" stop-color="#ffff00"/><stop offset="0.8473" stop-color="#ffcd00"/><stop offset="0.8509" stop-color="#ffc900"/><stop offset="0.8545" stop-color="#ffce00"/><stop offset="0.8655" stop-color="#ffff00"/><stop offset="0.8764" stop-color="#c9ff36"/><stop offset="0.8982" stop-color="#57ffa8"/><stop offset="0.9107" stop-color="#00ffff"/><stop offset="0.9236" stop-color="#00a4ff"/><stop offset="0.9309" stop-color="#0054ff"/><stop offset="0.9374" stop-color="#0000ff"/><stop offset="0.9455" stop-color="#000096"/><stop offset="0.9491" stop-color="#000080"/><stop offset="0.9527" stop-color="#000080"/><stop offset="0.9564" stop-color="#00009a"/><stop offset="0.9662" stop-color="#0000ff"/><stop offset="0.9709" stop-color="#0031ff"/><stop offset="0.9745" stop-color="#0047ff"/><stop offset="0.9782" stop-color="#0037ff"/><stop offset="0.985" stop-color="#0000ff"/><stop offset="0.9964" stop-color="#00009e"/><stop offset="1" stop-color="#000089"/></linearGradient>
<linearGradient id="g12" gradientUnits="userSpaceOnUse" x1="55.3" x2="606" y1="0" y2="0"><stop offset="0" stop-color="#0000d3"/><stop offset="0.01574" stop-color="#0000ff"/><stop offset="0.02182" stop-color="#0012ff"/><stop offset="0.02545" stop-color="#0021ff"/><stop offset="0.03911" stop-color="#00ffff"/><stop offset="0.04727" stop-color="#85ff7a"/><stop offset="0.05091" stop-color="#c8ff37"/><stop offset="0.05317" stop-color="#ffff00"/><stop offset="0.06358" stop-color="#ff0000"/><stop offset="0.06909" stop-color="#800000"/><stop offset="0.1564" stop-color="#800000"/><stop offset="0.1782" stop-color="#bc0000"/><stop offset="0.2" stop-color="#e90000"/><stop offset="0.2291" stop-color="#fd0000"/><stop offset="0.2509" stop-color="#fa0000"/><stop offset="0.2727" stop-color="#d60000"/><stop offset="0.2764" stop-color="#d90000"/><stop offset="0.2841" stop-color="#ff0000"/><stop offset="0.2982" stop-color="#ff4500"/><stop offset="0.3018" stop-color="#ff5d00"/><stop offset="0.3218" stop-color="#ffff00"/><stop offset="0.3309" stop-color="#abff54"/><stop offset="0.3485" stop-color="#00ffff"/><stop offset="0.3491" stop-color="#00f9ff"/><stop offset="0.3527" stop-color="#00efff"/><stop offset="0.3745" stop-color="#00eeff"/><stop offset="0.3796" stop-color="#00ffff"/><stop offset="0.4109" stop-color="#78ff87"/><stop offset="0.4255" stop-color="#b6ff49"/><stop offset="0.4321" stop-color="#ffff00"/><stop offset="0.4473" stop-color="#ff5800"/><stop offset="0.4509" stop-color="#ff3600"/><stop offset="0.4627" stop-color="#ff0000"/><stop offset="0.4727" stop-color="#d20000"/><stop offset="0.4764" stop-color="#c80000"/><stop offset="0.4982" stop-color="#d10000"/><stop offset="0.5018" stop-color="#e70000"/><stop offset="0.5039" stop-color="#ff0000"/><stop offset="0.5236" stop-color="#ffea00"/><stop offset="0.526" stop-color="#ffff00"/><stop offset="0.5491" stop-color="#53ffac"/><stop offset="0.5581" stop-color="#00ffff"/><stop offset="0.5745" stop-color="#0065ff"/><stop offset="0.5835" stop-color="#0000ff"/><stop offset="0.5927" stop-color="#000095"/><stop offset="0.5964" stop-color="#000080"/><stop offset="0.6582" stop-color="#000080"/><stop offset="0.6618" stop-color="#000091"/><stop offset="0.6727" stop-color="#0001ff"/><stop offset="0.6764" stop-color="#000fff"/><stop offset="0.6784" stop-color="#0000ff"/><stop offset="0.6945" stop-color="#000089"/><stop offset="0.6982" stop-color="#000080"/><stop offset="0.7127" stop-color="#000080"/><stop offset="0.7236" stop-color="#00009b"/><stop offset="0.7273" stop-color="#0000af"/><stop offset="0.7376" stop-color="#0000ff"/><stop offset="0.7491" stop-color="#0059ff"/><stop offset="0.7564" stop-color="#0070ff"/><stop offset="0.7745" stop-color="#009dff"/><stop offset="0.7949" stop-color="#00ffff"/><stop offset="0.8036" stop-color="#2fffd0"/><stop offset="0.8255" stop-color="#b3ff4c"/><stop offset="0.8462" stop-color="#ffff00"/><stop offset="0.8509" stop-color="#fff300"/><stop offset="0.8551" stop-color="#ffff00"/><stop offset="0.8764" stop-color="#c0ff3f"/><stop offset="0.8982" stop-color="#55ffaa"/><stop offset="0.9055" stop-color="#24ffdb"/><stop offset="0.9103" stop-color="#00ffff"/><stop offset="0.9236" stop-color="#009dff"/><stop offset="0.9273" stop-color="#0078ff"/><stop offset="0.9375" stop-color="#0000ff"/><stop offset="0.9455" stop-color="#0000a1"/><stop offset="0.9491" stop-color="#000080"/><stop offset="0.9527" stop-color="#000089"/><stop offset="0.9636" stop-color="#0003ff"/><stop offset="0.9745" stop-color="#007aff"/><stop offset="0.9782" stop-color="#0064ff"/><stop offset="0.9893" stop-color="#0000ff"/><stop offset="1" stop-color="#00009f"/></linearGradient>
<linearGradient id="g13" gradientUnits="userSpaceOnUse" x1="55.3" x2="606" y1="0" y2="0"><stop offset="0" stop-color="#0000e5"/><stop offset="0.01091" stop-color="#0000ff"/><stop offset="0.02182" stop-color="#001fff"/><stop offset="0.02545" stop-color="#0031ff"/><stop offset="0.02909" stop-color="#005fff"/><stop offset="0.03969" stop-color="#00ffff"/><stop offset="0.04727" stop-color="#77ff88"/><stop offset="0.05091" stop-color="#bbff44"/><stop offset="0.05376" stop-color="#ffff00"/><stop offset="0.06412" stop-color="#ff0000"/><stop offset="0.06909" stop-color="#840000"/><stop offset="0.07636" stop-color="#800000"/><stop offset="0.1455" stop-color="#800000"/><stop offset="0.1527" stop-color="#8d0000"/><stop offset="0.1884" stop-color="#ff0000"/><stop offset="0.2" stop-color="#ff1e00"/><stop offset="0.2218" stop-color="#ff3400"/><stop offset="0.2509" stop-color="#ff1300"/><stop offset="0.259" stop-color="#ff0000"/><stop offset="0.2691" stop-color="#e60000"/><stop offset="0.2764" stop-color="#e40000"/><stop offset="0.2814" stop-color="#ff0000"/><stop offset="0.3018" stop-color="#ff6d00"/><stop offset="0.3206" stop-color="#ffff00"/><stop offset="0.3309" stop-color="#a6ff59"/><stop offset="0.3488" stop-color="#00ffff"/><stop offset="0.3527" stop-color="#00e8ff"/><stop offset="0.3709" stop-color="#00d4ff"/><stop offset="0.3782" stop-color="#00e2ff"/><stop offset="0.3855" stop-color="#01fffe"/><stop offset="0.4218" stop-color="#95ff6a"/><stop offset="0.4255" stop-color="#a9ff56"/><stop offset="0.4339" stop-color="#ffff00"/><stop offset="0.4509" stop-color="#ff4d00"/><stop offset="0.4659" stop-color="#ff0000"/><stop offset="0.4764" stop-color="#d30000"/><stop offset="0.4945" stop-color="#d40000"/><stop offset="0.4982" stop-color="#dc0000"/><stop offset="0.5018" stop-color="#ea0000"/><stop offset="0.5036" stop-color="#ff0000"/><stop offset="0.5236" stop-color="#ffe800"/><stop offset="0.5259" stop-color="#ffff00"/><stop offset="0.5382" stop-color="#9eff61"/><stop offset="0.5527" stop-color="#2cffd3"/><stop offset="0.5575" stop-color="#00ffff"/><stop offset="0.5745" stop-color="#005fff"/><stop offset="0.5833" stop-color="#0000ff"/><stop offset="0.5927" stop-color="#000095"/><stop offset="0.5964" stop-color="#000080"/><stop offset="0.6582" stop-color="#000080"/><stop offset="0.6618" stop-color="#00008a"/><stop offset="0.6691" stop-color="#0000d0"/><stop offset="0.6755" stop-color="#0000ff"/><stop offset="0.6764" stop-color="#0006ff"/><stop offset="0.6772" stop-color="#0000ff"/><stop offset="0.6945" stop-color="#000088"/><stop offset="0.6982" stop-color="#000080"/><stop offset="0.7127" stop-color="#000080"/><stop offset="0.7236" stop-color="#00009b"/><stop offset="0.7273" stop-color="#0000ab"/><stop offset="0.7385" stop-color="#0000ff"/><stop offset="0.7491" stop-color="#004dff"/><stop offset="0.7527" stop-color="#0060ff"/><stop offset="0.7782" stop-color="#00acff"/><stop offset="0.7964" stop-color="#03fffc"/><stop offset="0.8145" stop-color="#68ff97"/><stop offset="0.8255" stop-color="#a5ff5a"/><stop offset="0.8473" stop-color="#f1ff0e"/><stop offset="0.8509" stop-color="#fbff04"/><stop offset="0.8727" stop-color="#caff35"/><stop offset="0.88" stop-color="#adff52"/><stop offset="0.8982" stop-color="#53ffac"/><stop offset="0.9055" stop-color="#20ffdf"/><stop offset="0.9095" stop-color="#00ffff"/><stop offset="0.9273" stop-color="#0070ff"/><stop offset="0.9371" stop-color="#0000ff"/><stop offset="0.9455" stop-color="#0000a1"/><stop offset="0.9491" stop-color="#00008a"/><stop offset="0.9527" stop-color="#00008d"/><stop offset="0.9627" stop-color="#0000ff"/><stop offset="0.9709" stop-color="#005fff"/><stop offset="0.9745" stop-color="#0074ff"/><stop offset="0.9782" stop-color="#006dff"/><stop offset="0.99" stop-color="#0000ff"/><stop offset="0.9964" stop-color="#0000c5"/><stop offset="1" stop-color="#0000ac"/></linearGradient>
<linearGradient id="g14" gradientUnits="userSpaceOnUse" x1="55.3" x2="606" y1="0" y2="0"><stop offset="0" stop-color="#0000f6"/><stop offset="0.005132" stop-color="#0000ff"/><stop offset="0.02182" stop-color="#0029ff"/><stop offset="0.02545" stop-color="#0041ff"/><stop offset="0.02909" stop-color="#0064ff"/><stop offset="0.04016" stop-color="#00ffff"/><stop offset="0.04727" stop-color="#64ff9b"/><stop offset="0.05091" stop-color="#afff50"/><stop offset="0.0544" stop-color="#ffff00"/><stop offset="0.06466" stop-color="#ff0000"/><stop offset="0.06909" stop-color="#910000"/><stop offset="0.07273" stop-color="#800000"/><stop offset="0.1345" stop-color="#820000"/><stop offset="0.1527" stop-color="#a30000"/><stop offset="0.1771" stop-color="#ff0000"/><stop offset="0.1964" stop-color="#ff4a00"/><stop offset="0.2109" stop-color="#ff6100"/><stop offset="0.2218" stop-color="#ff6e00"/><stop offset="0.2509" stop-color="#ff2d00"/><stop offset="0.2655" stop-color="#ff0000"/><stop offset="0.2727" stop-color="#eb0000"/><stop offset="0.2764" stop-color="#f30000"/><stop offset="0.279" stop-color="#ff0000"/><stop offset="0.3018" stop-color="#ff8000"/><stop offset="0.3192" stop-color="#ffff00"/><stop offset="0.3309" stop-color="#9fff60"/><stop offset="0.3489" stop-color="#00ffff"/><stop offset="0.3527" stop-color="#00e4ff"/><stop offset="0.3709" stop-color="#00bcff"/><stop offset="0.3745" stop-color="#00c0ff"/><stop offset="0.3818" stop-color="#00daff"/><stop offset="0.39" stop-color="#00ffff"/><stop offset="0.4218" stop-color="#83ff7c"/><stop offset="0.4255" stop-color="#9bff64"/><stop offset="0.4291" stop-color="#b9ff46"/><stop offset="0.4358" stop-color="#ffff00"/><stop offset="0.4473" stop-color="#ff8700"/><stop offset="0.4509" stop-color="#ff6700"/><stop offset="0.4582" stop-color="#ff3a00"/><stop offset="0.4691" stop-color="#fd0000"/><stop offset="0.4727" stop-color="#eb0000"/><stop offset="0.4764" stop-color="#e10000"/><stop offset="0.4945" stop-color="#da0000"/><stop offset="0.4982" stop-color="#df0000"/><stop offset="0.5018" stop-color="#f30000"/><stop offset="0.503" stop-color="#ff0000"/><stop offset="0.5259" stop-color="#ffff00"/><stop offset="0.5455" stop-color="#60ff9f"/><stop offset="0.5568" stop-color="#00ffff"/><stop offset="0.5745" stop-color="#005aff"/><stop offset="0.583" stop-color="#0000ff"/><stop offset="0.5927" stop-color="#000094"/><stop offset="0.5964" stop-color="#000080"/><stop offset="0.6582" stop-color="#000080"/><stop offset="0.6618" stop-color="#000084"/><stop offset="0.6727" stop-color="#0000e5"/><stop offset="0.6764" stop-color="#0000ee"/><stop offset="0.68" stop-color="#0000e3"/><stop offset="0.6945" stop-color="#000086"/><stop offset="0.6982" stop-color="#000080"/><stop offset="0.7127" stop-color="#000080"/><stop offset="0.7236" stop-color="#000099"/><stop offset="0.7273" stop-color="#0000a9"/><stop offset="0.7394" stop-color="#0000ff"/><stop offset="0.7491" stop-color="#0043ff"/><stop offset="0.7527" stop-color="#0058ff"/><stop offset="0.7782" stop-color="#00abff"/><stop offset="0.7967" stop-color="#00ffff"/><stop offset="0.8255" stop-color="#98ff67"/><stop offset="0.8473" stop-color="#e2ff1d"/><stop offset="0.8509" stop-color="#e8ff17"/><stop offset="0.8582" stop-color="#e2ff1d"/><stop offset="0.8727" stop-color="#c8ff37"/><stop offset="0.8873" stop-color="#89ff76"/><stop offset="0.8982" stop-color="#53ffac"/><stop offset="0.9091" stop-color="#00fdff"/><stop offset="0.9273" stop-color="#0065ff"/><stop offset="0.9366" stop-color="#0000ff"/><stop offset="0.9455" stop-color="#00009f"/><stop offset="0.9491" stop-color="#00008d"/><stop offset="0.9527" stop-color="#00008f"/><stop offset="0.9621" stop-color="#0000ff"/><stop offset="0.9709" stop-color="#006aff"/><stop offset="0.9745" stop-color="#007bff"/><stop offset="0.9782" stop-color="#0078ff"/><stop offset="0.9907" stop-color="#0000ff"/><stop offset="0.9964" stop-color="#0000c9"/><stop offset="1" stop-color="#0000b4"/></linearGradient>
<linearGradient id="g15" gradientUnits="userSpaceOnUse" x1="55.3" x2="606" y1="0" y2="0"><stop offset="0" stop-color="#000aff"/><stop offset="0.02182" stop-color="#0038ff"/><stop offset="0.02545" stop-color="#004dff"/><stop offset="0.02909" stop-color="#006fff"/><stop offset="0.04053" stop-color="#00ffff"/><stop offset="0.04727" stop-color="#55ffaa"/><stop offset="0.05091" stop-color="#9aff65"/><stop offset="0.05518" stop-color="#ffff00"/><stop offset="0.06545" stop-color="#fc0000"/><stop offset="0.06909" stop-color="#a10000"/><stop offset="0.07273" stop-color="#800000"/><stop offset="0.1273" stop-color="#800000"/><stop offset="0.1491" stop-color="#b20000"/><stop offset="0.1687" stop-color="#ff0000"/><stop offset="0.1964" stop-color="#ff8300"/><stop offset="0.2" stop-color="#ff9100"/><stop offset="0.2218" stop-color="#ffb100"/><stop offset="0.2255" stop-color="#ffae00"/><stop offset="0.2618" stop-color="#ff2400"/><stop offset="0.2706" stop-color="#ff0000"/><stop offset="0.2727" stop-color="#f60000"/><stop offset="0.2765" stop-color="#ff0000"/><stop offset="0.2873" stop-color="#ff3e00"/><stop offset="0.3091" stop-color="#ffc800"/><stop offset="0.3171" stop-color="#ffff00"/><stop offset="0.3273" stop-color="#b4ff4b"/><stop offset="0.3485" stop-color="#00ffff"/><stop offset="0.3527" stop-color="#00e5ff"/><stop offset="0.3709" stop-color="#00a4ff"/><stop offset="0.3745" stop-color="#009eff"/><stop offset="0.3951" stop-color="#00ffff"/><stop offset="0.4218" stop-color="#6fff90"/><stop offset="0.4255" stop-color="#86ff79"/><stop offset="0.4327" stop-color="#c9ff36"/><stop offset="0.4381" stop-color="#ffff00"/><stop offset="0.4473" stop-color="#ffa200"/><stop offset="0.4545" stop-color="#ff6800"/><stop offset="0.4718" stop-color="#ff0000"/><stop offset="0.4764" stop-color="#ef0000"/><stop offset="0.4982" stop-color="#e00000"/><stop offset="0.5023" stop-color="#ff0000"/><stop offset="0.5091" stop-color="#ff4700"/><stop offset="0.5236" stop-color="#ffea00"/><stop offset="0.5259" stop-color="#ffff00"/><stop offset="0.5559" stop-color="#00ffff"/><stop offset="0.5745" stop-color="#0055ff"/><stop offset="0.5826" stop-color="#0000ff"/><stop offset="0.5927" stop-color="#000092"/><stop offset="0.5964" stop-color="#000080"/><stop offset="0.6618" stop-color="#000080"/><stop offset="0.6727" stop-color="#0000dc"/><stop offset="0.6764" stop-color="#0000e0"/><stop offset="0.68" stop-color="#0000d7"/><stop offset="0.6945" stop-color="#000083"/><stop offset="0.7127" stop-color="#000080"/><stop offset="0.7236" stop-color="#000093"/><stop offset="0.7345" stop-color="#0000d6"/><stop offset="0.7405" stop-color="#0000ff"/><stop offset="0.7491" stop-color="#003aff"/><stop offset="0.76" stop-color="#0068ff"/><stop offset="0.7855" stop-color="#00caff"/><stop offset="0.7978" stop-color="#00ffff"/><stop offset="0.8255" stop-color="#8aff75"/><stop offset="0.8473" stop-color="#cfff30"/><stop offset="0.8545" stop-color="#d6ff29"/><stop offset="0.8727" stop-color="#c4ff3b"/><stop offset="0.8836" stop-color="#98ff67"/><stop offset="0.8982" stop-color="#55ffaa"/><stop offset="0.9084" stop-color="#00ffff"/><stop offset="0.9309" stop-color="#0032ff"/><stop offset="0.9358" stop-color="#0000ff"/><stop offset="0.9455" stop-color="#00009c"/><stop offset="0.9491" stop-color="#000080"/><stop offset="0.9527" stop-color="#000097"/><stop offset="0.9564" stop-color="#0000bd"/><stop offset="0.9616" stop-color="#0000ff"/><stop offset="0.9709" stop-color="#0075ff"/><stop offset="0.9745" stop-color="#0093ff"/><stop offset="0.9782" stop-color="#0081ff"/><stop offset="0.9855" stop-color="#003dff"/><stop offset="0.9917" stop-color="#0000ff"/><stop offset="0.9964" stop-color="#0000d0"/><stop offset="1" stop-color="#0000b7"/></linearGradient>
<linearGradient id="g16" gradientUnits="userSpaceOnUse" x1="55.3" x2="606" y1="0" y2="0"><stop offset="0" stop-color="#0019ff"/><stop offset="0.02182" stop-color="#0046ff"/><stop offset="0.02545" stop-color="#0052ff"/><stop offset="0.04063" stop-color="#00ffff"/><stop offset="0.04727" stop-color="#4cffb3"/><stop offset="0.05091" stop-color="#83ff7c"/><stop offset="0.05582" stop-color="#ffff00"/><stop offset="0.06591" stop-color="#ff0000"/><stop offset="0.06909" stop-color="#ae0000"/><stop offset="0.07273" stop-color="#800000"/><stop offset="0.1236" stop-color="#800000"/><stop offset="0.1382" stop-color="#a50000"/><stop offset="0.1491" stop-color="#c40000"/><stop offset="0.1627" stop-color="#ff0000"/><stop offset="0.1782" stop-color="#ff4900"/><stop offset="0.2" stop-color="#ffc500"/><stop offset="0.2255" stop-color="#ffeb00"/><stop offset="0.2727" stop-color="#ff0600"/><stop offset="0.2764" stop-color="#ff0400"/><stop offset="0.3149" stop-color="#ffff00"/><stop offset="0.3273" stop-color="#aaff55"/><stop offset="0.3481" stop-color="#00ffff"/><stop offset="0.3564" stop-color="#00d3ff"/><stop offset="0.3745" stop-color="#0082ff"/><stop offset="0.3855" stop-color="#00b8ff"/><stop offset="0.3989" stop-color="#00ffff"/><stop offset="0.4255" stop-color="#70ff8f"/><stop offset="0.44" stop-color="#ffff00"/><stop offset="0.4509" stop-color="#ff9800"/><stop offset="0.4727" stop-color="#ff0900"/><stop offset="0.4749" stop-color="#ff0000"/><stop offset="0.4764" stop-color="#f90000"/><stop offset="0.4982" stop-color="#e70000"/><stop offset="0.5023" stop-color="#ff0000"/><stop offset="0.5258" stop-color="#ffff00"/><stop offset="0.5551" stop-color="#00ffff"/><stop offset="0.5745" stop-color="#0051ff"/><stop offset="0.5822" stop-color="#0000ff"/><stop offset="0.5927" stop-color="#000090"/><stop offset="0.5964" stop-color="#000080"/><stop offset="0.6618" stop-color="#000080"/><stop offset="0.6691" stop-color="#0000b6"/><stop offset="0.6727" stop-color="#0000d3"/><stop offset="0.6764" stop-color="#0000de"/><stop offset="0.6945" stop-color="#000080"/><stop offset="0.7164" stop-color="#000082"/><stop offset="0.7236" stop-color="#000091"/><stop offset="0.7309" stop-color="#0000bb"/><stop offset="0.7418" stop-color="#0003ff"/><stop offset="0.7491" stop-color="#0032ff"/><stop offset="0.7987" stop-color="#00ffff"/><stop offset="0.8255" stop-color="#81ff7e"/><stop offset="0.8509" stop-color="#c7ff38"/><stop offset="0.8727" stop-color="#beff41"/><stop offset="0.8764" stop-color="#b7ff48"/><stop offset="0.8982" stop-color="#55ffaa"/><stop offset="0.9018" stop-color="#3bffc4"/><stop offset="0.9082" stop-color="#00ffff"/><stop offset="0.9349" stop-color="#0000ff"/><stop offset="0.9455" stop-color="#000098"/><stop offset="0.9491" stop-color="#000080"/><stop offset="0.9527" stop-color="#00008f"/><stop offset="0.9613" stop-color="#0000ff"/><stop offset="0.9745" stop-color="#00acff"/><stop offset="0.9782" stop-color="#0091ff"/><stop offset="0.9927" stop-color="#0000fc"/><stop offset="1" stop-color="#0000b3"/></linearGradient>
<linearGradient id="g17" gradientUnits="userSpaceOnUse" x1="55.3" x2="606" y1="0" y2="0"><stop offset="0" stop-color="#002bff"/><stop offset="0.02182" stop-color="#0040ff"/><stop offset="0.02545" stop-color="#004fff"/><stop offset="0.02909" stop-color="#0070ff"/><stop offset="0.04196" stop-color="#00ffff"/><stop offset="0.04727" stop-color="#40ffbf"/><stop offset="0.05091" stop-color="#75ff8a"/><stop offset="0.05669" stop-color="#ffff00"/><stop offset="0.06695" stop-color="#ff0000"/><stop offset="0.06909" stop-color="#ca0000"/><stop offset="0.07273" stop-color="#800000"/><stop offset="0.1236" stop-color="#800000"/><stop offset="0.1455" stop-color="#c20000"/><stop offset="0.1564" stop-color="#f90000"/><stop offset="0.1573" stop-color="#ff0000"/><stop offset="0.1745" stop-color="#ff6100"/><stop offset="0.2" stop-color="#ffef00"/><stop offset="0.2053" stop-color="#ffff00"/><stop offset="0.2218" stop-color="#dbff24"/><stop offset="0.2255" stop-color="#dbff24"/><stop offset="0.2337" stop-color="#ffff00"/><stop offset="0.2473" stop-color="#ffbb00"/><stop offset="0.2691" stop-color="#ff3100"/><stop offset="0.2727" stop-color="#ff2200"/><stop offset="0.2764" stop-color="#ff1b00"/><stop offset="0.3055" stop-color="#ffd600"/><stop offset="0.3121" stop-color="#ffff00"/><stop offset="0.3273" stop-color="#9eff61"/><stop offset="0.3475" stop-color="#00ffff"/><stop offset="0.3527" stop-color="#00d9ff"/><stop offset="0.3709" stop-color="#007cff"/><stop offset="0.3745" stop-color="#0075ff"/><stop offset="0.3782" stop-color="#007aff"/><stop offset="0.4" stop-color="#00ecff"/><stop offset="0.4046" stop-color="#00ffff"/><stop offset="0.4218" stop-color="#44ffbb"/><stop offset="0.4255" stop-color="#58ffa7"/><stop offset="0.4364" stop-color="#bfff40"/><stop offset="0.4429" stop-color="#ffff00"/><stop offset="0.4509" stop-color="#ffb900"/><stop offset="0.4764" stop-color="#ff2400"/><stop offset="0.4923" stop-color="#ff0000"/><stop offset="0.4945" stop-color="#fa0000"/><stop offset="0.4997" stop-color="#ff0000"/><stop offset="0.5018" stop-color="#ff0600"/><stop offset="0.5255" stop-color="#ffff00"/><stop offset="0.5547" stop-color="#00ffff"/><stop offset="0.5745" stop-color="#004fff"/><stop offset="0.5822" stop-color="#0000ff"/><stop offset="0.5927" stop-color="#00008f"/><stop offset="0.5964" stop-color="#000080"/><stop offset="0.6618" stop-color="#000081"/><stop offset="0.6764" stop-color="#0000d2"/><stop offset="0.6945" stop-color="#000080"/><stop offset="0.7127" stop-color="#000080"/><stop offset="0.7236" stop-color="#000096"/><stop offset="0.7273" stop-color="#0000a2"/><stop offset="0.7428" stop-color="#0000ff"/><stop offset="0.7527" stop-color="#0039ff"/><stop offset="0.7891" stop-color="#00cbff"/><stop offset="0.8021" stop-color="#00ffff"/><stop offset="0.8255" stop-color="#69ff96"/><stop offset="0.8509" stop-color="#b1ff4e"/><stop offset="0.8727" stop-color="#b1ff4e"/><stop offset="0.8764" stop-color="#acff53"/><stop offset="0.9018" stop-color="#39ffc6"/><stop offset="0.9086" stop-color="#00ffff"/><stop offset="0.92" stop-color="#009fff"/><stop offset="0.9352" stop-color="#0000ff"/><stop offset="0.9455" stop-color="#000090"/><stop offset="0.9491" stop-color="#000081"/><stop offset="0.9527" stop-color="#00008a"/><stop offset="0.9613" stop-color="#0000ff"/><stop offset="0.9709" stop-color="#0083ff"/><stop offset="0.9745" stop-color="#009aff"/><stop offset="0.9782" stop-color="#0094ff"/><stop offset="0.9919" stop-color="#0000ff"/><stop offset="0.9964" stop-color="#0000d0"/><stop offset="1" stop-color="#0000b5"/></linearGradient>
<linearGradient id="g18" gradientUnits="userSpaceOnUse" x1="55.3" x2="606" y1="0" y2="0"><stop offset="0" stop-color="#003bff"/><stop offset="0.02182" stop-color="#0038ff"/><stop offset="0.02545" stop-color="#004bff"/><stop offset="0.02909" stop-color="#0068ff"/><stop offset="0.04309" stop-color="#00ffff"/><stop offset="0.04727" stop-color="#2dffd2"/><stop offset="0.05091" stop-color="#6dff92"/><stop offset="0.05455" stop-color="#b9ff46"/><stop offset="0.05739" stop-color="#ffff00"/><stop offset="0.06781" stop-color="#ff0000"/><stop offset="0.07273" stop-color="#8c0000"/><stop offset="0.07636" stop-color="#800000"/><stop offset="0.1236" stop-color="#800000"/><stop offset="0.1455" stop-color="#c80000"/><stop offset="0.1527" stop-color="#f00000"/><stop offset="0.1549" stop-color="#ff0000"/><stop offset="0.1709" stop-color="#ff6f00"/><stop offset="0.1964" stop-color="#ffff00"/><stop offset="0.2036" stop-color="#dcff23"/><stop offset="0.2218" stop-color="#a8ff57"/><stop offset="0.2255" stop-color="#acff53"/><stop offset="0.2291" stop-color="#b7ff48"/><stop offset="0.2439" stop-color="#ffff00"/><stop offset="0.2473" stop-color="#ffee00"/><stop offset="0.2691" stop-color="#ff4900"/><stop offset="0.2727" stop-color="#ff3200"/><stop offset="0.2764" stop-color="#ff3600"/><stop offset="0.28" stop-color="#ff4600"/><stop offset="0.2982" stop-color="#ffc000"/><stop offset="0.3093" stop-color="#ffff00"/><stop offset="0.3236" stop-color="#acff53"/><stop offset="0.3468" stop-color="#00ffff"/><stop offset="0.3527" stop-color="#00d3ff"/><stop offset="0.3709" stop-color="#006bff"/><stop offset="0.3745" stop-color="#0064ff"/><stop offset="0.3782" stop-color="#0067ff"/><stop offset="0.4" stop-color="#00d8ff"/><stop offset="0.4109" stop-color="#03fffc"/><stop offset="0.4218" stop-color="#2bffd4"/><stop offset="0.4291" stop-color="#60ff9f"/><stop offset="0.4453" stop-color="#ffff00"/><stop offset="0.4473" stop-color="#ffec00"/><stop offset="0.4582" stop-color="#ffae00"/><stop offset="0.4727" stop-color="#ff6600"/><stop offset="0.4764" stop-color="#ff4f00"/><stop offset="0.4909" stop-color="#ff1900"/><stop offset="0.4945" stop-color="#ff0c00"/><stop offset="0.4982" stop-color="#ff0600"/><stop offset="0.5018" stop-color="#ff1600"/><stop offset="0.5091" stop-color="#ff5b00"/><stop offset="0.5253" stop-color="#ffff00"/><stop offset="0.5543" stop-color="#00ffff"/><stop offset="0.5745" stop-color="#004fff"/><stop offset="0.5822" stop-color="#0000ff"/><stop offset="0.5927" stop-color="#00008f"/><stop offset="0.5964" stop-color="#000080"/><stop offset="0.6582" stop-color="#000080"/><stop offset="0.6727" stop-color="#0000b7"/><stop offset="0.6764" stop-color="#0000c0"/><stop offset="0.68" stop-color="#0000b9"/><stop offset="0.6909" stop-color="#00008b"/><stop offset="0.6945" stop-color="#000080"/><stop offset="0.7127" stop-color="#000080"/><stop offset="0.7236" stop-color="#000098"/><stop offset="0.7273" stop-color="#0000a4"/><stop offset="0.744" stop-color="#0000ff"/><stop offset="0.7527" stop-color="#0030ff"/><stop offset="0.7782" stop-color="#0099ff"/><stop offset="0.8052" stop-color="#00ffff"/><stop offset="0.8291" stop-color="#62ff9d"/><stop offset="0.8509" stop-color="#9dff62"/><stop offset="0.8727" stop-color="#a8ff57"/><stop offset="0.88" stop-color="#93ff6c"/><stop offset="0.9018" stop-color="#32ffcd"/><stop offset="0.9091" stop-color="#00fdff"/><stop offset="0.92" stop-color="#00aaff"/><stop offset="0.9236" stop-color="#008aff"/><stop offset="0.9355" stop-color="#0000ff"/><stop offset="0.9455" stop-color="#00008c"/><stop offset="0.9491" stop-color="#000080"/><stop offset="0.9527" stop-color="#000085"/><stop offset="0.9614" stop-color="#0000ff"/><stop offset="0.9709" stop-color="#0086ff"/><stop offset="0.9745" stop-color="#009aff"/><stop offset="0.9782" stop-color="#0096ff"/><stop offset="0.9916" stop-color="#0000ff"/><stop offset="0.9964" stop-color="#0000c9"/><stop offset="1" stop-color="#0000b1"/></linearGradient>
<linearGradient id="g19" gradientUnits="userSpaceOnUse" x1="55.3" x2="606" y1="0" y2="0"><stop offset="0" stop-color="#004cff"/><stop offset="0.02182" stop-color="#0035ff"/><stop offset="0.02545" stop-color="#0042ff"/><stop offset="0.02909" stop-color="#0060ff"/><stop offset="0.04422" stop-color="#00ffff"/><stop offset="0.04727" stop-color="#20ffdf"/><stop offset="0.05091" stop-color="#5effa1"/><stop offset="0.05455" stop-color="#aaff55"/><stop offset="0.05818" stop-color="#fffc00"/><stop offset="0.06866" stop-color="#ff0000"/><stop offset="0.07273" stop-color="#9d0000"/><stop offset="0.07636" stop-color="#800000"/><stop offset="0.1236" stop-color="#800000"/><stop offset="0.1455" stop-color="#ce0000"/><stop offset="0.1491" stop-color="#dd0000"/><stop offset="0.1535" stop-color="#ff0000"/><stop offset="0.1745" stop-color="#ffa700"/><stop offset="0.1901" stop-color="#ffff00"/><stop offset="0.2036" stop-color="#b8ff47"/><stop offset="0.2218" stop-color="#79ff86"/><stop offset="0.2255" stop-color="#79ff86"/><stop offset="0.2291" stop-color="#85ff7a"/><stop offset="0.2473" stop-color="#deff21"/><stop offset="0.2516" stop-color="#ffff00"/><stop offset="0.2727" stop-color="#ff4500"/><stop offset="0.2764" stop-color="#ff4900"/><stop offset="0.28" stop-color="#ff5900"/><stop offset="0.2982" stop-color="#ffd600"/><stop offset="0.3059" stop-color="#ffff00"/><stop offset="0.3236" stop-color="#a0ff5f"/><stop offset="0.346" stop-color="#00ffff"/><stop offset="0.36" stop-color="#009fff"/><stop offset="0.3709" stop-color="#005bff"/><stop offset="0.3745" stop-color="#004dff"/><stop offset="0.3782" stop-color="#0057ff"/><stop offset="0.4" stop-color="#00c6ff"/><stop offset="0.416" stop-color="#00ffff"/><stop offset="0.4218" stop-color="#14ffeb"/><stop offset="0.4255" stop-color="#2affd5"/><stop offset="0.4327" stop-color="#6cff93"/><stop offset="0.448" stop-color="#ffff00"/><stop offset="0.4545" stop-color="#ffda00"/><stop offset="0.4727" stop-color="#ff8f00"/><stop offset="0.4836" stop-color="#ff5300"/><stop offset="0.4982" stop-color="#ff0f00"/><stop offset="0.5018" stop-color="#ff2300"/><stop offset="0.5055" stop-color="#ff4000"/><stop offset="0.525" stop-color="#ffff00"/><stop offset="0.5538" stop-color="#00ffff"/><stop offset="0.5745" stop-color="#004fff"/><stop offset="0.5822" stop-color="#0000ff"/><stop offset="0.5927" stop-color="#00008f"/><stop offset="0.5964" stop-color="#000080"/><stop offset="0.6436" stop-color="#000080"/><stop offset="0.6509" stop-color="#00008f"/><stop offset="0.6582" stop-color="#000098"/><stop offset="0.6727" stop-color="#0000b3"/><stop offset="0.68" stop-color="#0000af"/><stop offset="0.6909" stop-color="#000086"/><stop offset="0.6945" stop-color="#000080"/><stop offset="0.7127" stop-color="#000080"/><stop offset="0.7236" stop-color="#000099"/><stop offset="0.7345" stop-color="#0000c9"/><stop offset="0.7455" stop-color="#0001ff"/><stop offset="0.7673" stop-color="#0066ff"/><stop offset="0.7818" stop-color="#009eff"/><stop offset="0.8084" stop-color="#00ffff"/><stop offset="0.8291" stop-color="#4fffb0"/><stop offset="0.8509" stop-color="#8bff74"/><stop offset="0.8727" stop-color="#9fff60"/><stop offset="0.88" stop-color="#8aff75"/><stop offset="0.8982" stop-color="#3effc1"/><stop offset="0.9091" stop-color="#00fcff"/><stop offset="0.9236" stop-color="#009aff"/><stop offset="0.936" stop-color="#0000ff"/><stop offset="0.9455" stop-color="#000089"/><stop offset="0.9491" stop-color="#000080"/><stop offset="0.9527" stop-color="#000086"/><stop offset="0.9564" stop-color="#0000b3"/><stop offset="0.9616" stop-color="#0000ff"/><stop offset="0.9709" stop-color="#0088ff"/><stop offset="0.9745" stop-color="#00a9ff"/><stop offset="0.9782" stop-color="#0095ff"/><stop offset="0.9855" stop-color="#0045ff"/><stop offset="0.9914" stop-color="#0000ff"/><stop offset="0.9964" stop-color="#0000c4"/><stop offset="1" stop-color="#0000a7"/></linearGradient>
<linearGradient id="g20" gradientUnits="userSpaceOnUse" x1="55.3" x2="606" y1="0" y2="0"><stop offset="0" stop-color="#0061ff"/><stop offset="0.02182" stop-color="#0036ff"/><stop offset="0.02545" stop-color="#0034ff"/><stop offset="0.0455" stop-color="#00ffff"/><stop offset="0.04727" stop-color="#12ffed"/><stop offset="0.05091" stop-color="#43ffbc"/><stop offset="0.05886" stop-color="#ffff00"/><stop offset="0.06965" stop-color="#ff0000"/><stop offset="0.07273" stop-color="#b70000"/><stop offset="0.07636" stop-color="#800000"/><stop offset="0.1236" stop-color="#800000"/><stop offset="0.1309" stop-color="#970000"/><stop offset="0.1491" stop-color="#e10000"/><stop offset="0.1527" stop-color="#ff0000"/><stop offset="0.1745" stop-color="#ffce00"/><stop offset="0.1828" stop-color="#ffff00"/><stop offset="0.2" stop-color="#9dff62"/><stop offset="0.2218" stop-color="#45ffba"/><stop offset="0.2255" stop-color="#3affc5"/><stop offset="0.2473" stop-color="#a3ff5c"/><stop offset="0.2509" stop-color="#baff45"/><stop offset="0.2577" stop-color="#ffff00"/><stop offset="0.2727" stop-color="#ff6600"/><stop offset="0.2764" stop-color="#ff5700"/><stop offset="0.3012" stop-color="#ffff00"/><stop offset="0.3236" stop-color="#90ff6f"/><stop offset="0.3447" stop-color="#00ffff"/><stop offset="0.3745" stop-color="#0030ff"/><stop offset="0.3782" stop-color="#003dff"/><stop offset="0.4" stop-color="#00b1ff"/><stop offset="0.4233" stop-color="#00ffff"/><stop offset="0.4255" stop-color="#09fff6"/><stop offset="0.4473" stop-color="#deff21"/><stop offset="0.4509" stop-color="#fcff03"/><stop offset="0.4727" stop-color="#ffba00"/><stop offset="0.4764" stop-color="#ffab00"/><stop offset="0.4982" stop-color="#ff2700"/><stop offset="0.5018" stop-color="#ff2c00"/><stop offset="0.5244" stop-color="#ffff00"/><stop offset="0.5531" stop-color="#00ffff"/><stop offset="0.5745" stop-color="#0050ff"/><stop offset="0.5823" stop-color="#0000ff"/><stop offset="0.5927" stop-color="#000091"/><stop offset="0.5964" stop-color="#000080"/><stop offset="0.64" stop-color="#000080"/><stop offset="0.6436" stop-color="#000085"/><stop offset="0.6473" stop-color="#0000a4"/><stop offset="0.6509" stop-color="#0000bc"/><stop offset="0.6727" stop-color="#0000b4"/><stop offset="0.6764" stop-color="#0000af"/><stop offset="0.6909" stop-color="#000080"/><stop offset="0.7127" stop-color="#000080"/><stop offset="0.7236" stop-color="#00009b"/><stop offset="0.7468" stop-color="#0000ff"/><stop offset="0.7745" stop-color="#007dff"/><stop offset="0.8109" stop-color="#00f9ff"/><stop offset="0.8126" stop-color="#00ffff"/><stop offset="0.8291" stop-color="#39ffc6"/><stop offset="0.8509" stop-color="#76ff89"/><stop offset="0.8727" stop-color="#91ff6e"/><stop offset="0.8764" stop-color="#8eff71"/><stop offset="0.9018" stop-color="#23ffdc"/><stop offset="0.9081" stop-color="#00ffff"/><stop offset="0.9236" stop-color="#00a6ff"/><stop offset="0.9273" stop-color="#0080ff"/><stop offset="0.9369" stop-color="#0000ff"/><stop offset="0.9455" stop-color="#00008c"/><stop offset="0.9491" stop-color="#000080"/><stop offset="0.9527" stop-color="#000080"/><stop offset="0.9564" stop-color="#0000ae"/><stop offset="0.9618" stop-color="#0000ff"/><stop offset="0.9745" stop-color="#00beff"/><stop offset="0.9782" stop-color="#00a0ff"/><stop offset="0.9913" stop-color="#0000ff"/><stop offset="1" stop-color="#000095"/></linearGradient>
<linearGradient id="g21" gradientUnits="userSpaceOnUse" x1="55.3" x2="606" y1="0" y2="0"><stop offset="0" stop-color="#006aff"/><stop offset="0.02545" stop-color="#0050ff"/><stop offset="0.02909" stop-color="#0068ff"/><stop offset="0.04564" stop-color="#00ffff"/><stop offset="0.05091" stop-color="#41ffbe"/><stop offset="0.05922" stop-color="#ffff00"/><stop offset="0.07025" stop-color="#ff0000"/><stop offset="0.07273" stop-color="#cb0000"/><stop offset="0.07636" stop-color="#880000"/><stop offset="0.08364" stop-color="#800000"/><stop offset="0.1273" stop-color="#800000"/><stop offset="0.1455" stop-color="#bf0000"/><stop offset="0.1491" stop-color="#d80000"/><stop offset="0.1534" stop-color="#ff0000"/><stop offset="0.1709" stop-color="#ffc400"/><stop offset="0.1782" stop-color="#fff900"/><stop offset="0.1792" stop-color="#ffff00"/><stop offset="0.2" stop-color="#92ff6d"/><stop offset="0.2255" stop-color="#33ffcc"/><stop offset="0.2291" stop-color="#3bffc4"/><stop offset="0.2436" stop-color="#70ff8f"/><stop offset="0.2473" stop-color="#82ff7d"/><stop offset="0.2509" stop-color="#9aff65"/><stop offset="0.2605" stop-color="#ffff00"/><stop offset="0.2691" stop-color="#ffa300"/><stop offset="0.2727" stop-color="#ff8300"/><stop offset="0.2764" stop-color="#ff6a00"/><stop offset="0.3008" stop-color="#ffff00"/><stop offset="0.3236" stop-color="#8bff74"/><stop offset="0.3345" stop-color="#3effc1"/><stop offset="0.3429" stop-color="#00ffff"/><stop offset="0.3709" stop-color="#002fff"/><stop offset="0.3745" stop-color="#0021ff"/><stop offset="0.3782" stop-color="#0024ff"/><stop offset="0.4" stop-color="#0099ff"/><stop offset="0.4255" stop-color="#00ffff"/><stop offset="0.4364" stop-color="#65ff9a"/><stop offset="0.4509" stop-color="#edff12"/><stop offset="0.455" stop-color="#ffff00"/><stop offset="0.4727" stop-color="#ffba00"/><stop offset="0.4764" stop-color="#ffb000"/><stop offset="0.4945" stop-color="#ff5300"/><stop offset="0.4982" stop-color="#ff4500"/><stop offset="0.5018" stop-color="#ff3f00"/><stop offset="0.5239" stop-color="#ffff00"/><stop offset="0.5491" stop-color="#1cffe3"/><stop offset="0.5527" stop-color="#00fdff"/><stop offset="0.5782" stop-color="#0032ff"/><stop offset="0.5834" stop-color="#0000ff"/><stop offset="0.5964" stop-color="#000083"/><stop offset="0.6436" stop-color="#000080"/><stop offset="0.6473" stop-color="#000095"/><stop offset="0.6509" stop-color="#0000b1"/><stop offset="0.6691" stop-color="#0000c4"/><stop offset="0.6764" stop-color="#0000bf"/><stop offset="0.6945" stop-color="#000082"/><stop offset="0.7091" stop-color="#000080"/><stop offset="0.7236" stop-color="#00009a"/><stop offset="0.7345" stop-color="#0000c1"/><stop offset="0.7498" stop-color="#0000ff"/><stop offset="0.7782" stop-color="#007fff"/><stop offset="0.8151" stop-color="#00ffff"/><stop offset="0.8327" stop-color="#3bffc4"/><stop offset="0.8509" stop-color="#6fff90"/><stop offset="0.8727" stop-color="#8aff75"/><stop offset="0.8764" stop-color="#89ff76"/><stop offset="0.9018" stop-color="#21ffde"/><stop offset="0.9082" stop-color="#00ffff"/><stop offset="0.9236" stop-color="#00acff"/><stop offset="0.9273" stop-color="#0090ff"/><stop offset="0.9392" stop-color="#0000ff"/><stop offset="0.9455" stop-color="#0000b4"/><stop offset="0.9491" stop-color="#000094"/><stop offset="0.9527" stop-color="#000093"/><stop offset="0.9609" stop-color="#0000ff"/><stop offset="0.9709" stop-color="#0084ff"/><stop offset="0.9745" stop-color="#00a3ff"/><stop offset="0.9782" stop-color="#009dff"/><stop offset="0.9913" stop-color="#0000ff"/><stop offset="0.9964" stop-color="#0000c4"/><stop offset="1" stop-color="#0000a3"/></linearGradient>
<linearGradient id="g22" gradientUnits="userSpaceOnUse" x1="55.3" x2="606" y1="0" y2="0"><stop offset="0" stop-color="#0071ff"/><stop offset="0.02182" stop-color="#0069ff"/><stop offset="0.02545" stop-color="#006eff"/><stop offset="0.02909" stop-color="#007cff"/><stop offset="0.04613" stop-color="#00ffff"/><stop offset="0.04727" stop-color="#09fff6"/><stop offset="0.05091" stop-color="#43ffbc"/><stop offset="0.05455" stop-color="#8bff74"/><stop offset="0.05955" stop-color="#ffff00"/><stop offset="0.07071" stop-color="#ff0000"/><stop offset="0.07273" stop-color="#d30000"/><stop offset="0.07636" stop-color="#a10000"/><stop offset="0.08" stop-color="#8a0000"/><stop offset="0.08727" stop-color="#800000"/><stop offset="0.1273" stop-color="#800000"/><stop offset="0.1309" stop-color="#840000"/><stop offset="0.1455" stop-color="#ae0000"/><stop offset="0.1491" stop-color="#c70000"/><stop offset="0.1542" stop-color="#ff0000"/><stop offset="0.1709" stop-color="#ffd700"/><stop offset="0.1757" stop-color="#ffff00"/><stop offset="0.1855" stop-color="#cbff34"/><stop offset="0.2036" stop-color="#76ff89"/><stop offset="0.2218" stop-color="#36ffc9"/><stop offset="0.2255" stop-color="#2effd1"/><stop offset="0.2291" stop-color="#2dffd2"/><stop offset="0.2473" stop-color="#5dffa2"/><stop offset="0.2545" stop-color="#9fff60"/><stop offset="0.2631" stop-color="#ffff00"/><stop offset="0.2727" stop-color="#ff9800"/><stop offset="0.2764" stop-color="#ff8a00"/><stop offset="0.28" stop-color="#ff9200"/><stop offset="0.3005" stop-color="#ffff00"/><stop offset="0.3236" stop-color="#89ff76"/><stop offset="0.3382" stop-color="#1affe5"/><stop offset="0.3418" stop-color="#00fcff"/><stop offset="0.3709" stop-color="#0016ff"/><stop offset="0.3745" stop-color="#000aff"/><stop offset="0.3782" stop-color="#000aff"/><stop offset="0.4036" stop-color="#0094ff"/><stop offset="0.4218" stop-color="#00e1ff"/><stop offset="0.4266" stop-color="#00ffff"/><stop offset="0.4327" stop-color="#34ffcb"/><stop offset="0.4473" stop-color="#bdff42"/><stop offset="0.4509" stop-color="#daff25"/><stop offset="0.4576" stop-color="#ffff00"/><stop offset="0.4727" stop-color="#ffba00"/><stop offset="0.4836" stop-color="#ff9400"/><stop offset="0.4945" stop-color="#ff6700"/><stop offset="0.4982" stop-color="#ff5b00"/><stop offset="0.5018" stop-color="#ff5a00"/><stop offset="0.5055" stop-color="#ff7000"/><stop offset="0.5236" stop-color="#fdff02"/><stop offset="0.5491" stop-color="#15ffea"/><stop offset="0.5517" stop-color="#00ffff"/><stop offset="0.5782" stop-color="#0037ff"/><stop offset="0.5845" stop-color="#0000ff"/><stop offset="0.5964" stop-color="#000098"/><stop offset="0.6" stop-color="#000080"/><stop offset="0.6436" stop-color="#000080"/><stop offset="0.6473" stop-color="#000088"/><stop offset="0.6509" stop-color="#0000a1"/><stop offset="0.6545" stop-color="#0000b0"/><stop offset="0.6727" stop-color="#0000d5"/><stop offset="0.6836" stop-color="#0000b6"/><stop offset="0.6982" stop-color="#000086"/><stop offset="0.7018" stop-color="#000080"/><stop offset="0.7236" stop-color="#00009a"/><stop offset="0.7382" stop-color="#0000c7"/><stop offset="0.7491" stop-color="#0000ed"/><stop offset="0.7529" stop-color="#0000ff"/><stop offset="0.7782" stop-color="#0074ff"/><stop offset="0.8176" stop-color="#00ffff"/><stop offset="0.8473" stop-color="#5fffa0"/><stop offset="0.8655" stop-color="#7dff82"/><stop offset="0.8727" stop-color="#86ff79"/><stop offset="0.8764" stop-color="#81ff7e"/><stop offset="0.9018" stop-color="#1effe1"/><stop offset="0.9082" stop-color="#00ffff"/><stop offset="0.9236" stop-color="#00b3ff"/><stop offset="0.9273" stop-color="#009bff"/><stop offset="0.9418" stop-color="#0000ff"/><stop offset="0.9455" stop-color="#0000d8"/><stop offset="0.9491" stop-color="#0000bf"/><stop offset="0.9527" stop-color="#0000b4"/><stop offset="0.9593" stop-color="#0000ff"/><stop offset="0.9709" stop-color="#0084ff"/><stop offset="0.9745" stop-color="#0098ff"/><stop offset="0.9782" stop-color="#009aff"/><stop offset="0.9914" stop-color="#0000ff"/><stop offset="0.9964" stop-color="#0000c5"/><stop offset="1" stop-color="#0000a9"/></linearGradient>
<linearGradient id="g23" gradientUnits="userSpaceOnUse" x1="55.3" x2="606" y1="0" y2="0"><stop offset="0" stop-color="#0079ff"/><stop offset="0.02182" stop-color="#0085ff"/><stop offset="0.02909" stop-color="#0097ff"/><stop offset="0.04594" stop-color="#00ffff"/><stop offset="0.04727" stop-color="#08fff7"/><stop offset="0.05091" stop-color="#3dffc2"/><stop offset="0.05455" stop-color="#85ff7a"/><stop offset="0.05993" stop-color="#ffff00"/><stop offset="0.07114" stop-color="#ff0000"/><stop offset="0.07273" stop-color="#db0000"/><stop offset="0.07636" stop-color="#af0000"/><stop offset="0.08" stop-color="#960000"/><stop offset="0.08727" stop-color="#820000"/><stop offset="0.1309" stop-color="#800000"/><stop offset="0.1382" stop-color="#8b0000"/><stop offset="0.1455" stop-color="#9b0000"/><stop offset="0.1491" stop-color="#a80000"/><stop offset="0.1553" stop-color="#ff0000"/><stop offset="0.1709" stop-color="#ffe900"/><stop offset="0.1727" stop-color="#ffff00"/><stop offset="0.1745" stop-color="#e8ff17"/><stop offset="0.1964" stop-color="#82ff7d"/><stop offset="0.2145" stop-color="#43ffbc"/><stop offset="0.2255" stop-color="#25ffda"/><stop offset="0.2291" stop-color="#21ffde"/><stop offset="0.2473" stop-color="#37ffc8"/><stop offset="0.2509" stop-color="#50ffaf"/><stop offset="0.2618" stop-color="#ccff33"/><stop offset="0.2662" stop-color="#ffff00"/><stop offset="0.2727" stop-color="#ffb200"/><stop offset="0.2764" stop-color="#ffa700"/><stop offset="0.28" stop-color="#ffab00"/><stop offset="0.2998" stop-color="#ffff00"/><stop offset="0.3236" stop-color="#89ff76"/><stop offset="0.3401" stop-color="#00ffff"/><stop offset="0.3702" stop-color="#0000ff"/><stop offset="0.3745" stop-color="#0000e4"/><stop offset="0.3782" stop-color="#0000ed"/><stop offset="0.3819" stop-color="#0000ff"/><stop offset="0.4073" stop-color="#008aff"/><stop offset="0.4218" stop-color="#00d0ff"/><stop offset="0.4287" stop-color="#00ffff"/><stop offset="0.4473" stop-color="#aaff55"/><stop offset="0.4545" stop-color="#dfff20"/><stop offset="0.4604" stop-color="#ffff00"/><stop offset="0.4727" stop-color="#ffbc00"/><stop offset="0.4982" stop-color="#ff7000"/><stop offset="0.5018" stop-color="#ff7900"/><stop offset="0.5055" stop-color="#ff8900"/><stop offset="0.5225" stop-color="#ffff00"/><stop offset="0.5506" stop-color="#00ffff"/><stop offset="0.5857" stop-color="#0000ff"/><stop offset="0.6" stop-color="#000096"/><stop offset="0.6036" stop-color="#000083"/><stop offset="0.6327" stop-color="#000080"/><stop offset="0.6473" stop-color="#000080"/><stop offset="0.6545" stop-color="#0000a4"/><stop offset="0.6727" stop-color="#0000e6"/><stop offset="0.6764" stop-color="#0000e1"/><stop offset="0.6982" stop-color="#000095"/><stop offset="0.7055" stop-color="#000090"/><stop offset="0.7236" stop-color="#00009b"/><stop offset="0.7491" stop-color="#0000dc"/><stop offset="0.7564" stop-color="#0000ff"/><stop offset="0.7782" stop-color="#0066ff"/><stop offset="0.8036" stop-color="#00c6ff"/><stop offset="0.8206" stop-color="#00ffff"/><stop offset="0.8509" stop-color="#5fffa0"/><stop offset="0.8727" stop-color="#81ff7e"/><stop offset="0.88" stop-color="#70ff8f"/><stop offset="0.9078" stop-color="#00ffff"/><stop offset="0.9236" stop-color="#00bdff"/><stop offset="0.9309" stop-color="#0085ff"/><stop offset="0.9455" stop-color="#0000ff"/><stop offset="0.9491" stop-color="#0000e3"/><stop offset="0.9527" stop-color="#0000eb"/><stop offset="0.9558" stop-color="#0000ff"/><stop offset="0.9709" stop-color="#008aff"/><stop offset="0.9745" stop-color="#009fff"/><stop offset="0.9782" stop-color="#008eff"/><stop offset="0.9818" stop-color="#006cff"/><stop offset="0.9913" stop-color="#0000ff"/><stop offset="0.9964" stop-color="#0000c6"/><stop offset="1" stop-color="#0000a8"/></linearGradient>
<linearGradient id="g24" gradientUnits="userSpaceOnUse" x1="55.3" x2="606" y1="0" y2="0"><stop offset="0" stop-color="#007fff"/><stop offset="0.02545" stop-color="#009fff"/><stop offset="0.04488" stop-color="#00ffff"/><stop offset="0.04727" stop-color="#0cfff3"/><stop offset="0.05091" stop-color="#2fffd0"/><stop offset="0.06021" stop-color="#ffff00"/><stop offset="0.07157" stop-color="#ff0000"/><stop offset="0.07273" stop-color="#e50000"/><stop offset="0.07636" stop-color="#ae0000"/><stop offset="0.09091" stop-color="#800000"/><stop offset="0.1382" stop-color="#810000"/><stop offset="0.1491" stop-color="#930000"/><stop offset="0.1527" stop-color="#c30000"/><stop offset="0.1564" stop-color="#ff0000"/><stop offset="0.1717" stop-color="#ffff00"/><stop offset="0.1745" stop-color="#cfff30"/><stop offset="0.1818" stop-color="#acff53"/><stop offset="0.2" stop-color="#62ff9d"/><stop offset="0.2255" stop-color="#1affe5"/><stop offset="0.2473" stop-color="#1bffe4"/><stop offset="0.2509" stop-color="#27ffd8"/><stop offset="0.2686" stop-color="#ffff00"/><stop offset="0.2727" stop-color="#ffcd00"/><stop offset="0.2764" stop-color="#ffb600"/><stop offset="0.2985" stop-color="#ffff00"/><stop offset="0.3236" stop-color="#86ff79"/><stop offset="0.3309" stop-color="#4bffb4"/><stop offset="0.3392" stop-color="#00ffff"/><stop offset="0.3677" stop-color="#0000ff"/><stop offset="0.3745" stop-color="#0000c2"/><stop offset="0.3818" stop-color="#0000e5"/><stop offset="0.3864" stop-color="#0000ff"/><stop offset="0.4145" stop-color="#009bff"/><stop offset="0.4255" stop-color="#00d6ff"/><stop offset="0.43" stop-color="#00ffff"/><stop offset="0.4509" stop-color="#b9ff46"/><stop offset="0.4624" stop-color="#ffff00"/><stop offset="0.4727" stop-color="#ffc000"/><stop offset="0.4764" stop-color="#ffb000"/><stop offset="0.4982" stop-color="#ff8200"/><stop offset="0.5018" stop-color="#ff8a00"/><stop offset="0.5209" stop-color="#ffff00"/><stop offset="0.5236" stop-color="#eeff11"/><stop offset="0.5345" stop-color="#8cff73"/><stop offset="0.5496" stop-color="#00ffff"/><stop offset="0.5818" stop-color="#0020ff"/><stop offset="0.5867" stop-color="#0000ff"/><stop offset="0.6" stop-color="#0000a8"/><stop offset="0.6109" stop-color="#000080"/><stop offset="0.6473" stop-color="#000080"/><stop offset="0.6509" stop-color="#000084"/><stop offset="0.6727" stop-color="#0000ee"/><stop offset="0.6764" stop-color="#0000f4"/><stop offset="0.6982" stop-color="#0000a4"/><stop offset="0.7018" stop-color="#00009e"/><stop offset="0.7236" stop-color="#00009e"/><stop offset="0.7491" stop-color="#0000d0"/><stop offset="0.7592" stop-color="#0000ff"/><stop offset="0.7782" stop-color="#005aff"/><stop offset="0.8036" stop-color="#00bfff"/><stop offset="0.8233" stop-color="#00ffff"/><stop offset="0.8509" stop-color="#58ffa7"/><stop offset="0.8727" stop-color="#7cff83"/><stop offset="0.8764" stop-color="#7aff85"/><stop offset="0.907" stop-color="#00ffff"/><stop offset="0.9236" stop-color="#00c2ff"/><stop offset="0.9309" stop-color="#008eff"/><stop offset="0.9491" stop-color="#0000ff"/><stop offset="0.9527" stop-color="#000eff"/><stop offset="0.9745" stop-color="#00afff"/><stop offset="0.9782" stop-color="#008fff"/><stop offset="0.9912" stop-color="#0000ff"/><stop offset="1" stop-color="#00009f"/></linearGradient>
<linearGradient id="g25" gradientUnits="userSpaceOnUse" x1="55.3" x2="606" y1="0" y2="0"><stop offset="0" stop-color="#007cff"/><stop offset="0.02182" stop-color="#009fff"/><stop offset="0.02909" stop-color="#00abff"/><stop offset="0.04364" stop-color="#00dfff"/><stop offset="0.04727" stop-color="#01fffe"/><stop offset="0.05091" stop-color="#27ffd8"/><stop offset="0.05455" stop-color="#6dff92"/><stop offset="0.0608" stop-color="#ffff00"/><stop offset="0.06909" stop-color="#ff3e00"/><stop offset="0.07252" stop-color="#ff0000"/><stop offset="0.07636" stop-color="#bc0000"/><stop offset="0.08" stop-color="#a50000"/><stop offset="0.09091" stop-color="#800000"/><stop offset="0.1418" stop-color="#810000"/><stop offset="0.1455" stop-color="#8d0000"/><stop offset="0.1491" stop-color="#a60000"/><stop offset="0.1527" stop-color="#c70000"/><stop offset="0.1558" stop-color="#ff0000"/><stop offset="0.1673" stop-color="#ffce00"/><stop offset="0.1703" stop-color="#ffff00"/><stop offset="0.1745" stop-color="#c6ff39"/><stop offset="0.1782" stop-color="#a2ff5d"/><stop offset="0.2" stop-color="#52ffad"/><stop offset="0.2255" stop-color="#14ffeb"/><stop offset="0.2436" stop-color="#0ffff0"/><stop offset="0.2509" stop-color="#20ffdf"/><stop offset="0.2545" stop-color="#40ffbf"/><stop offset="0.2691" stop-color="#e8ff17"/><stop offset="0.2716" stop-color="#ffff00"/><stop offset="0.2764" stop-color="#ffd400"/><stop offset="0.28" stop-color="#ffd500"/><stop offset="0.2965" stop-color="#ffff00"/><stop offset="0.3055" stop-color="#daff25"/><stop offset="0.32" stop-color="#92ff6d"/><stop offset="0.3273" stop-color="#65ff9a"/><stop offset="0.3384" stop-color="#00ffff"/><stop offset="0.3659" stop-color="#0000ff"/><stop offset="0.3709" stop-color="#0000d7"/><stop offset="0.3745" stop-color="#0000c5"/><stop offset="0.3782" stop-color="#0000c0"/><stop offset="0.3891" stop-color="#0000ff"/><stop offset="0.4255" stop-color="#00cdff"/><stop offset="0.4321" stop-color="#00ffff"/><stop offset="0.4473" stop-color="#80ff7f"/><stop offset="0.4545" stop-color="#c0ff3f"/><stop offset="0.463" stop-color="#ffff00"/><stop offset="0.4691" stop-color="#ffd200"/><stop offset="0.4764" stop-color="#ffb800"/><stop offset="0.5018" stop-color="#ffad00"/><stop offset="0.5164" stop-color="#feff01"/><stop offset="0.5273" stop-color="#b9ff46"/><stop offset="0.5483" stop-color="#00ffff"/><stop offset="0.5527" stop-color="#00d9ff"/><stop offset="0.5782" stop-color="#002eff"/><stop offset="0.5857" stop-color="#0000ff"/><stop offset="0.5964" stop-color="#0000c1"/><stop offset="0.6036" stop-color="#0000a3"/><stop offset="0.6182" stop-color="#000080"/><stop offset="0.6473" stop-color="#000080"/><stop offset="0.6509" stop-color="#000086"/><stop offset="0.6691" stop-color="#0000f2"/><stop offset="0.6767" stop-color="#0000ff"/><stop offset="0.6909" stop-color="#0000c2"/><stop offset="0.6945" stop-color="#0000b2"/><stop offset="0.7018" stop-color="#00009f"/><stop offset="0.7273" stop-color="#00009e"/><stop offset="0.7455" stop-color="#0000bb"/><stop offset="0.7527" stop-color="#0000d1"/><stop offset="0.7622" stop-color="#0000ff"/><stop offset="0.7855" stop-color="#006fff"/><stop offset="0.8" stop-color="#00aaff"/><stop offset="0.8269" stop-color="#00ffff"/><stop offset="0.8473" stop-color="#46ffb9"/><stop offset="0.8618" stop-color="#5fffa0"/><stop offset="0.8727" stop-color="#6aff95"/><stop offset="0.8764" stop-color="#6cff93"/><stop offset="0.907" stop-color="#00ffff"/><stop offset="0.9236" stop-color="#00c6ff"/><stop offset="0.9273" stop-color="#00b7ff"/><stop offset="0.9455" stop-color="#003bff"/><stop offset="0.9491" stop-color="#0026ff"/><stop offset="0.9527" stop-color="#0018ff"/><stop offset="0.9709" stop-color="#0074ff"/><stop offset="0.9745" stop-color="#0083ff"/><stop offset="0.9782" stop-color="#0083ff"/><stop offset="0.9921" stop-color="#0000ff"/><stop offset="1" stop-color="#0000bc"/></linearGradient>
<linearGradient id="g26" gradientUnits="userSpaceOnUse" x1="55.3" x2="606" y1="0" y2="0"><stop offset="0" stop-color="#0078ff"/><stop offset="0.02182" stop-color="#00a3ff"/><stop offset="0.02909" stop-color="#00a8ff"/><stop offset="0.04364" stop-color="#00caff"/><stop offset="0.04727" stop-color="#00eeff"/><stop offset="0.0484" stop-color="#00ffff"/><stop offset="0.05455" stop-color="#5effa1"/><stop offset="0.06132" stop-color="#ffff00"/><stop offset="0.06909" stop-color="#ff4400"/><stop offset="0.07331" stop-color="#ff0000"/><stop offset="0.08" stop-color="#a80000"/><stop offset="0.09091" stop-color="#800000"/><stop offset="0.1418" stop-color="#800000"/><stop offset="0.1455" stop-color="#850000"/><stop offset="0.1527" stop-color="#d90000"/><stop offset="0.1553" stop-color="#ff0000"/><stop offset="0.1564" stop-color="#ff1000"/><stop offset="0.169" stop-color="#ffff00"/><stop offset="0.1709" stop-color="#ddff22"/><stop offset="0.1782" stop-color="#96ff69"/><stop offset="0.1818" stop-color="#7fff80"/><stop offset="0.2" stop-color="#44ffbb"/><stop offset="0.2255" stop-color="#0ffff0"/><stop offset="0.2327" stop-color="#08fff7"/><stop offset="0.2436" stop-color="#05fffa"/><stop offset="0.2473" stop-color="#0ffff0"/><stop offset="0.2545" stop-color="#33ffcc"/><stop offset="0.2691" stop-color="#d2ff2d"/><stop offset="0.2756" stop-color="#ffff00"/><stop offset="0.28" stop-color="#ffe600"/><stop offset="0.2949" stop-color="#ffff00"/><stop offset="0.3091" stop-color="#c3ff3c"/><stop offset="0.32" stop-color="#8eff71"/><stop offset="0.3309" stop-color="#3effc1"/><stop offset="0.3377" stop-color="#00ffff"/><stop offset="0.3646" stop-color="#0000ff"/><stop offset="0.3709" stop-color="#0000c8"/><stop offset="0.3782" stop-color="#0000be"/><stop offset="0.3818" stop-color="#0000c7"/><stop offset="0.3912" stop-color="#0000ff"/><stop offset="0.4291" stop-color="#00dbff"/><stop offset="0.434" stop-color="#00ffff"/><stop offset="0.4436" stop-color="#49ffb6"/><stop offset="0.4582" stop-color="#d1ff2e"/><stop offset="0.4635" stop-color="#ffff00"/><stop offset="0.4691" stop-color="#ffcf00"/><stop offset="0.4727" stop-color="#ffc300"/><stop offset="0.48" stop-color="#ffbc00"/><stop offset="0.5018" stop-color="#ffd500"/><stop offset="0.5055" stop-color="#ffdd00"/><stop offset="0.5117" stop-color="#ffff00"/><stop offset="0.5236" stop-color="#b9ff46"/><stop offset="0.5309" stop-color="#86ff79"/><stop offset="0.547" stop-color="#00ffff"/><stop offset="0.56" stop-color="#009bff"/><stop offset="0.5745" stop-color="#003bff"/><stop offset="0.5846" stop-color="#0000ff"/><stop offset="0.5964" stop-color="#0000bf"/><stop offset="0.6073" stop-color="#0000a4"/><stop offset="0.6218" stop-color="#00008b"/><stop offset="0.6255" stop-color="#000080"/><stop offset="0.6473" stop-color="#000080"/><stop offset="0.6509" stop-color="#000087"/><stop offset="0.6582" stop-color="#0000b5"/><stop offset="0.6685" stop-color="#0000ff"/><stop offset="0.6727" stop-color="#000aff"/><stop offset="0.6802" stop-color="#0000ff"/><stop offset="0.6945" stop-color="#0000b3"/><stop offset="0.7055" stop-color="#00009e"/><stop offset="0.7309" stop-color="#00009f"/><stop offset="0.7455" stop-color="#0000af"/><stop offset="0.7564" stop-color="#0000d7"/><stop offset="0.7646" stop-color="#0000ff"/><stop offset="0.7927" stop-color="#0089ff"/><stop offset="0.8036" stop-color="#00afff"/><stop offset="0.8218" stop-color="#00e1ff"/><stop offset="0.8295" stop-color="#00ffff"/><stop offset="0.8436" stop-color="#37ffc8"/><stop offset="0.8545" stop-color="#4effb1"/><stop offset="0.8691" stop-color="#5dffa2"/><stop offset="0.88" stop-color="#58ffa7"/><stop offset="0.9067" stop-color="#00ffff"/><stop offset="0.92" stop-color="#00d9ff"/><stop offset="0.9309" stop-color="#00aaff"/><stop offset="0.9455" stop-color="#0052ff"/><stop offset="0.9527" stop-color="#0033ff"/><stop offset="0.9564" stop-color="#002fff"/><stop offset="0.9709" stop-color="#005dff"/><stop offset="0.9782" stop-color="#0066ff"/><stop offset="0.9818" stop-color="#0058ff"/><stop offset="0.9929" stop-color="#0000ff"/><stop offset="1" stop-color="#0000d2"/></linearGradient>
<linearGradient id="g27" gradientUnits="userSpaceOnUse" x1="55.3" x2="606" y1="0" y2="0"><stop offset="0" stop-color="#0071ff"/><stop offset="0.02182" stop-color="#00a9ff"/><stop offset="0.03636" stop-color="#00b1ff"/><stop offset="0.04364" stop-color="#00bbff"/><stop offset="0.04727" stop-color="#00c6ff"/><stop offset="0.0501" stop-color="#00ffff"/><stop offset="0.05818" stop-color="#a2ff5d"/><stop offset="0.06195" stop-color="#ffff00"/><stop offset="0.06909" stop-color="#ff4e00"/><stop offset="0.07277" stop-color="#ff0000"/><stop offset="0.08364" stop-color="#9e0000"/><stop offset="0.09091" stop-color="#820000"/><stop offset="0.1455" stop-color="#800000"/><stop offset="0.1491" stop-color="#a30000"/><stop offset="0.1547" stop-color="#ff0000"/><stop offset="0.16" stop-color="#ff5c00"/><stop offset="0.168" stop-color="#ffff00"/><stop offset="0.1709" stop-color="#c4ff3b"/><stop offset="0.1745" stop-color="#9fff60"/><stop offset="0.1818" stop-color="#6fff90"/><stop offset="0.1891" stop-color="#52ffad"/><stop offset="0.2" stop-color="#33ffcc"/><stop offset="0.2255" stop-color="#08fff7"/><stop offset="0.2364" stop-color="#00feff"/><stop offset="0.2475" stop-color="#00ffff"/><stop offset="0.2582" stop-color="#4cffb3"/><stop offset="0.2691" stop-color="#beff41"/><stop offset="0.2727" stop-color="#deff21"/><stop offset="0.2836" stop-color="#fffd00"/><stop offset="0.2945" stop-color="#f7ff08"/><stop offset="0.2982" stop-color="#efff10"/><stop offset="0.32" stop-color="#89ff76"/><stop offset="0.3236" stop-color="#72ff8d"/><stop offset="0.337" stop-color="#00ffff"/><stop offset="0.36" stop-color="#0022ff"/><stop offset="0.3636" stop-color="#0000fd"/><stop offset="0.3709" stop-color="#0000b6"/><stop offset="0.3745" stop-color="#0000b1"/><stop offset="0.3818" stop-color="#0000c0"/><stop offset="0.3855" stop-color="#0000d0"/><stop offset="0.3933" stop-color="#0000ff"/><stop offset="0.4358" stop-color="#00ffff"/><stop offset="0.4473" stop-color="#50ffaf"/><stop offset="0.4644" stop-color="#ffff00"/><stop offset="0.4691" stop-color="#ffd200"/><stop offset="0.4727" stop-color="#ffb800"/><stop offset="0.4873" stop-color="#ffcf00"/><stop offset="0.5055" stop-color="#fdff02"/><stop offset="0.5091" stop-color="#f1ff0e"/><stop offset="0.5236" stop-color="#a2ff5d"/><stop offset="0.5382" stop-color="#38ffc7"/><stop offset="0.5455" stop-color="#00fdff"/><stop offset="0.5636" stop-color="#0076ff"/><stop offset="0.5745" stop-color="#002eff"/><stop offset="0.5831" stop-color="#0000ff"/><stop offset="0.5964" stop-color="#0000b8"/><stop offset="0.6109" stop-color="#0000a7"/><stop offset="0.6218" stop-color="#0000a2"/><stop offset="0.6327" stop-color="#000080"/><stop offset="0.6509" stop-color="#000080"/><stop offset="0.6655" stop-color="#0000f2"/><stop offset="0.6671" stop-color="#0000ff"/><stop offset="0.6691" stop-color="#0010ff"/><stop offset="0.6727" stop-color="#0024ff"/><stop offset="0.6823" stop-color="#0000ff"/><stop offset="0.6945" stop-color="#0000b8"/><stop offset="0.6982" stop-color="#0000a8"/><stop offset="0.7127" stop-color="#00009e"/><stop offset="0.7418" stop-color="#0000a3"/><stop offset="0.7455" stop-color="#0000a5"/><stop offset="0.7527" stop-color="#0000be"/><stop offset="0.7673" stop-color="#0001ff"/><stop offset="0.7964" stop-color="#0094ff"/><stop offset="0.8218" stop-color="#00d5ff"/><stop offset="0.8327" stop-color="#03fffc"/><stop offset="0.8473" stop-color="#3effc1"/><stop offset="0.8691" stop-color="#53ffac"/><stop offset="0.8727" stop-color="#54ffab"/><stop offset="0.8836" stop-color="#41ffbe"/><stop offset="0.9059" stop-color="#00ffff"/><stop offset="0.9236" stop-color="#00d0ff"/><stop offset="0.9382" stop-color="#008cff"/><stop offset="0.9455" stop-color="#0065ff"/><stop offset="0.9564" stop-color="#0044ff"/><stop offset="0.96" stop-color="#0041ff"/><stop offset="0.9709" stop-color="#0050ff"/><stop offset="0.9818" stop-color="#0041ff"/><stop offset="0.9855" stop-color="#0031ff"/><stop offset="0.993" stop-color="#0000ff"/><stop offset="0.9964" stop-color="#0000e9"/><stop offset="1" stop-color="#0000dc"/></linearGradient>
<linearGradient id="g28" gradientUnits="userSpaceOnUse" x1="55.3" x2="606" y1="0" y2="0"><stop offset="0" stop-color="#0060ff"/><stop offset="0.02545" stop-color="#00b1ff"/><stop offset="0.04727" stop-color="#00b3ff"/><stop offset="0.05091" stop-color="#00c8ff"/><stop offset="0.05307" stop-color="#00ffff"/><stop offset="0.06299" stop-color="#ffff00"/><stop offset="0.07303" stop-color="#ff0000"/><stop offset="0.07636" stop-color="#c20000"/><stop offset="0.09091" stop-color="#850000"/><stop offset="0.09818" stop-color="#800000"/><stop offset="0.1491" stop-color="#810000"/><stop offset="0.1527" stop-color="#bb0000"/><stop offset="0.1559" stop-color="#ff0000"/><stop offset="0.1677" stop-color="#ffff00"/><stop offset="0.1745" stop-color="#6dff92"/><stop offset="0.1782" stop-color="#57ffa8"/><stop offset="0.2" stop-color="#19ffe6"/><stop offset="0.2218" stop-color="#00fcff"/><stop offset="0.2473" stop-color="#00efff"/><stop offset="0.2509" stop-color="#00f6ff"/><stop offset="0.2518" stop-color="#00ffff"/><stop offset="0.2727" stop-color="#cdff32"/><stop offset="0.2764" stop-color="#e4ff1b"/><stop offset="0.2982" stop-color="#e4ff1b"/><stop offset="0.3018" stop-color="#dcff23"/><stop offset="0.3236" stop-color="#71ff8e"/><stop offset="0.3273" stop-color="#56ffa9"/><stop offset="0.3364" stop-color="#00ffff"/><stop offset="0.3527" stop-color="#0064ff"/><stop offset="0.3626" stop-color="#0000ff"/><stop offset="0.3745" stop-color="#000087"/><stop offset="0.3782" stop-color="#000093"/><stop offset="0.3958" stop-color="#0000ff"/><stop offset="0.4376" stop-color="#00ffff"/><stop offset="0.4509" stop-color="#55ffaa"/><stop offset="0.4664" stop-color="#ffff00"/><stop offset="0.4727" stop-color="#ffba00"/><stop offset="0.4764" stop-color="#ffa500"/><stop offset="0.4985" stop-color="#ffff00"/><stop offset="0.5236" stop-color="#85ff7a"/><stop offset="0.5423" stop-color="#00ffff"/><stop offset="0.5745" stop-color="#001dff"/><stop offset="0.5803" stop-color="#0000ff"/><stop offset="0.6" stop-color="#00009f"/><stop offset="0.6255" stop-color="#0000b1"/><stop offset="0.64" stop-color="#000082"/><stop offset="0.6509" stop-color="#000080"/><stop offset="0.6545" stop-color="#00008b"/><stop offset="0.667" stop-color="#0000ff"/><stop offset="0.6727" stop-color="#0035ff"/><stop offset="0.6764" stop-color="#0043ff"/><stop offset="0.6861" stop-color="#0000ff"/><stop offset="0.6982" stop-color="#0000ac"/><stop offset="0.7018" stop-color="#00009e"/><stop offset="0.7491" stop-color="#00009e"/><stop offset="0.7564" stop-color="#0000bd"/><stop offset="0.7699" stop-color="#0000ff"/><stop offset="0.8" stop-color="#009dff"/><stop offset="0.8255" stop-color="#00d2ff"/><stop offset="0.8354" stop-color="#00ffff"/><stop offset="0.8509" stop-color="#42ffbd"/><stop offset="0.8727" stop-color="#4bffb4"/><stop offset="0.8764" stop-color="#48ffb7"/><stop offset="0.9023" stop-color="#00ffff"/><stop offset="0.9236" stop-color="#00d4ff"/><stop offset="0.9418" stop-color="#0086ff"/><stop offset="0.9491" stop-color="#0065ff"/><stop offset="0.9636" stop-color="#0055ff"/><stop offset="0.9745" stop-color="#004cff"/><stop offset="0.9907" stop-color="#0000ff"/><stop offset="1" stop-color="#0000d2"/></linearGradient>
<linearGradient id="g29" gradientUnits="userSpaceOnUse" x1="55.3" x2="606" y1="0" y2="0"><stop offset="0" stop-color="#0050ff"/><stop offset="0.003636" stop-color="#0054ff"/><stop offset="0.01455" stop-color="#0078ff"/><stop offset="0.02909" stop-color="#0087ff"/><stop offset="0.04" stop-color="#007cff"/><stop offset="0.05091" stop-color="#00beff"/><stop offset="0.05455" stop-color="#00ecff"/><stop offset="0.0553" stop-color="#00ffff"/><stop offset="0.06545" stop-color="#fffc00"/><stop offset="0.07604" stop-color="#ff0000"/><stop offset="0.08" stop-color="#bd0000"/><stop offset="0.08727" stop-color="#870000"/><stop offset="0.09091" stop-color="#800000"/><stop offset="0.1418" stop-color="#820000"/><stop offset="0.1527" stop-color="#cb0000"/><stop offset="0.1554" stop-color="#ff0000"/><stop offset="0.1636" stop-color="#ffb600"/><stop offset="0.1677" stop-color="#ffff00"/><stop offset="0.1782" stop-color="#4dffb2"/><stop offset="0.1964" stop-color="#15ffea"/><stop offset="0.2025" stop-color="#00ffff"/><stop offset="0.2364" stop-color="#00aeff"/><stop offset="0.24" stop-color="#00a9ff"/><stop offset="0.2509" stop-color="#00cdff"/><stop offset="0.2545" stop-color="#00e3ff"/><stop offset="0.2571" stop-color="#00ffff"/><stop offset="0.2655" stop-color="#5affa5"/><stop offset="0.2764" stop-color="#b2ff4d"/><stop offset="0.28" stop-color="#c2ff3d"/><stop offset="0.2945" stop-color="#c5ff3a"/><stop offset="0.3018" stop-color="#c1ff3e"/><stop offset="0.3091" stop-color="#a7ff58"/><stop offset="0.3273" stop-color="#4fffb0"/><stop offset="0.3369" stop-color="#00ffff"/><stop offset="0.3564" stop-color="#0049ff"/><stop offset="0.3637" stop-color="#0000ff"/><stop offset="0.3782" stop-color="#0000a1"/><stop offset="0.3944" stop-color="#0000ff"/><stop offset="0.4404" stop-color="#00ffff"/><stop offset="0.4509" stop-color="#3dffc2"/><stop offset="0.4545" stop-color="#57ffa8"/><stop offset="0.4691" stop-color="#ddff22"/><stop offset="0.4732" stop-color="#ffff00"/><stop offset="0.4764" stop-color="#ffe400"/><stop offset="0.48" stop-color="#ffda00"/><stop offset="0.4916" stop-color="#ffff00"/><stop offset="0.5127" stop-color="#a7ff58"/><stop offset="0.5273" stop-color="#5effa1"/><stop offset="0.5411" stop-color="#00ffff"/><stop offset="0.5673" stop-color="#0052ff"/><stop offset="0.5782" stop-color="#0013ff"/><stop offset="0.5828" stop-color="#0000ff"/><stop offset="0.6036" stop-color="#0000a2"/><stop offset="0.6145" stop-color="#00009e"/><stop offset="0.6291" stop-color="#0000a9"/><stop offset="0.6473" stop-color="#000082"/><stop offset="0.6545" stop-color="#000080"/><stop offset="0.672" stop-color="#0000ff"/><stop offset="0.6764" stop-color="#001eff"/><stop offset="0.68" stop-color="#0021ff"/><stop offset="0.686" stop-color="#0000ff"/><stop offset="0.7018" stop-color="#0000a7"/><stop offset="0.7055" stop-color="#00009e"/><stop offset="0.7418" stop-color="#00009d"/><stop offset="0.7527" stop-color="#0000a6"/><stop offset="0.7673" stop-color="#0000e7"/><stop offset="0.7719" stop-color="#0000ff"/><stop offset="0.7891" stop-color="#005dff"/><stop offset="0.8036" stop-color="#0097ff"/><stop offset="0.8182" stop-color="#00b1ff"/><stop offset="0.8291" stop-color="#00ceff"/><stop offset="0.8403" stop-color="#00ffff"/><stop offset="0.8545" stop-color="#2effd1"/><stop offset="0.8764" stop-color="#35ffca"/><stop offset="0.8836" stop-color="#29ffd6"/><stop offset="0.8995" stop-color="#00ffff"/><stop offset="0.9273" stop-color="#00c4ff"/><stop offset="0.9418" stop-color="#008cff"/><stop offset="0.9527" stop-color="#0054ff"/><stop offset="0.9636" stop-color="#003aff"/><stop offset="0.9782" stop-color="#0034ff"/><stop offset="0.9936" stop-color="#0000ff"/><stop offset="1" stop-color="#0000e7"/></linearGradient>
<linearGradient id="g30" gradientUnits="userSpaceOnUse" x1="55.3" x2="606" y1="0" y2="0"><stop offset="0" stop-color="#0037ff"/><stop offset="0.007273" stop-color="#0044ff"/><stop offset="0.01818" stop-color="#0067ff"/><stop offset="0.03273" stop-color="#0056ff"/><stop offset="0.04364" stop-color="#003bff"/><stop offset="0.05455" stop-color="#00c8ff"/><stop offset="0.05784" stop-color="#00ffff"/><stop offset="0.06812" stop-color="#ffff00"/><stop offset="0.07975" stop-color="#ff0000"/><stop offset="0.08364" stop-color="#bb0000"/><stop offset="0.08727" stop-color="#910000"/><stop offset="0.09091" stop-color="#800000"/><stop offset="0.1418" stop-color="#800000"/><stop offset="0.1455" stop-color="#920000"/><stop offset="0.1538" stop-color="#ff0000"/><stop offset="0.1564" stop-color="#ff2200"/><stop offset="0.16" stop-color="#ff6e00"/><stop offset="0.1663" stop-color="#ffff00"/><stop offset="0.1673" stop-color="#eaff15"/><stop offset="0.1709" stop-color="#b3ff4c"/><stop offset="0.1818" stop-color="#36ffc9"/><stop offset="0.1927" stop-color="#19ffe6"/><stop offset="0.1987" stop-color="#00ffff"/><stop offset="0.2109" stop-color="#00cdff"/><stop offset="0.2436" stop-color="#0050ff"/><stop offset="0.2545" stop-color="#00a3ff"/><stop offset="0.2582" stop-color="#00c4ff"/><stop offset="0.2629" stop-color="#00ffff"/><stop offset="0.2691" stop-color="#4affb5"/><stop offset="0.28" stop-color="#8bff74"/><stop offset="0.2836" stop-color="#99ff66"/><stop offset="0.2945" stop-color="#a4ff5b"/><stop offset="0.3055" stop-color="#97ff68"/><stop offset="0.3164" stop-color="#73ff8c"/><stop offset="0.3309" stop-color="#29ffd6"/><stop offset="0.3368" stop-color="#00ffff"/><stop offset="0.3455" stop-color="#00baff"/><stop offset="0.365" stop-color="#0000ff"/><stop offset="0.3673" stop-color="#0000e8"/><stop offset="0.3709" stop-color="#0000d9"/><stop offset="0.3818" stop-color="#0000c6"/><stop offset="0.3915" stop-color="#0000ff"/><stop offset="0.4327" stop-color="#00c8ff"/><stop offset="0.4436" stop-color="#00ffff"/><stop offset="0.4582" stop-color="#53ffac"/><stop offset="0.4691" stop-color="#a6ff59"/><stop offset="0.48" stop-color="#e0ff1f"/><stop offset="0.4836" stop-color="#e8ff17"/><stop offset="0.4945" stop-color="#d1ff2e"/><stop offset="0.5164" stop-color="#7eff81"/><stop offset="0.5345" stop-color="#1dffe2"/><stop offset="0.539" stop-color="#00ffff"/><stop offset="0.5673" stop-color="#004eff"/><stop offset="0.5853" stop-color="#0000ff"/><stop offset="0.5964" stop-color="#0000d6"/><stop offset="0.6073" stop-color="#0000a6"/><stop offset="0.6182" stop-color="#000093"/><stop offset="0.6327" stop-color="#0000a0"/><stop offset="0.6545" stop-color="#000091"/><stop offset="0.6582" stop-color="#000095"/><stop offset="0.6691" stop-color="#0000d1"/><stop offset="0.68" stop-color="#0000fb"/><stop offset="0.6836" stop-color="#0000fd"/><stop offset="0.7055" stop-color="#0000a7"/><stop offset="0.7127" stop-color="#00009c"/><stop offset="0.7418" stop-color="#000099"/><stop offset="0.7564" stop-color="#0000af"/><stop offset="0.7673" stop-color="#0000d9"/><stop offset="0.7745" stop-color="#0001ff"/><stop offset="0.7927" stop-color="#0067ff"/><stop offset="0.8073" stop-color="#008eff"/><stop offset="0.8182" stop-color="#0099ff"/><stop offset="0.8327" stop-color="#00c6ff"/><stop offset="0.8436" stop-color="#00f5ff"/><stop offset="0.848" stop-color="#00ffff"/><stop offset="0.8582" stop-color="#16ffe9"/><stop offset="0.88" stop-color="#1affe5"/><stop offset="0.8945" stop-color="#05fffa"/><stop offset="0.8982" stop-color="#00faff"/><stop offset="0.9236" stop-color="#00c0ff"/><stop offset="0.9345" stop-color="#00a9ff"/><stop offset="0.9418" stop-color="#0093ff"/><stop offset="0.9527" stop-color="#0059ff"/><stop offset="0.96" stop-color="#0034ff"/><stop offset="0.9673" stop-color="#0017ff"/><stop offset="0.9745" stop-color="#0015ff"/><stop offset="0.9818" stop-color="#0018ff"/><stop offset="0.9966" stop-color="#0000ff"/><stop offset="1" stop-color="#0000f7"/></linearGradient>
<linearGradient id="g31" gradientUnits="userSpaceOnUse" x1="55.3" x2="606" y1="0" y2="0"><stop offset="0" stop-color="#001dff"/><stop offset="0.01455" stop-color="#0044ff"/><stop offset="0.02182" stop-color="#005aff"/><stop offset="0.04" stop-color="#001cff"/><stop offset="0.04364" stop-color="#000eff"/><stop offset="0.04727" stop-color="#000fff"/><stop offset="0.05818" stop-color="#00dbff"/><stop offset="0.05988" stop-color="#00ffff"/><stop offset="0.06182" stop-color="#2affd5"/><stop offset="0.07041" stop-color="#ffff00"/><stop offset="0.07273" stop-color="#ffc900"/><stop offset="0.08282" stop-color="#ff0000"/><stop offset="0.08727" stop-color="#b10000"/><stop offset="0.09091" stop-color="#800000"/><stop offset="0.1455" stop-color="#800000"/><stop offset="0.1491" stop-color="#a90000"/><stop offset="0.1538" stop-color="#ff0000"/><stop offset="0.16" stop-color="#ff7300"/><stop offset="0.166" stop-color="#ffff00"/><stop offset="0.1709" stop-color="#8dff72"/><stop offset="0.1745" stop-color="#68ff97"/><stop offset="0.1855" stop-color="#1effe1"/><stop offset="0.1974" stop-color="#00ffff"/><stop offset="0.2255" stop-color="#0076ff"/><stop offset="0.2436" stop-color="#0013ff"/><stop offset="0.2473" stop-color="#000bff"/><stop offset="0.2618" stop-color="#00b2ff"/><stop offset="0.2674" stop-color="#00ffff"/><stop offset="0.2691" stop-color="#18ffe7"/><stop offset="0.2727" stop-color="#3fffc0"/><stop offset="0.2836" stop-color="#6eff91"/><stop offset="0.2945" stop-color="#86ff79"/><stop offset="0.2982" stop-color="#87ff78"/><stop offset="0.3127" stop-color="#69ff96"/><stop offset="0.32" stop-color="#53ffac"/><stop offset="0.3345" stop-color="#06fff9"/><stop offset="0.3355" stop-color="#00ffff"/><stop offset="0.3455" stop-color="#00beff"/><stop offset="0.3659" stop-color="#0000ff"/><stop offset="0.3709" stop-color="#0000cf"/><stop offset="0.3745" stop-color="#0000cf"/><stop offset="0.3855" stop-color="#0000e6"/><stop offset="0.3896" stop-color="#0000ff"/><stop offset="0.3964" stop-color="#002aff"/><stop offset="0.4255" stop-color="#00a0ff"/><stop offset="0.4461" stop-color="#00ffff"/><stop offset="0.4618" stop-color="#53ffac"/><stop offset="0.4727" stop-color="#95ff6a"/><stop offset="0.4836" stop-color="#b3ff4c"/><stop offset="0.4873" stop-color="#b5ff4a"/><stop offset="0.4982" stop-color="#a6ff59"/><stop offset="0.52" stop-color="#59ffa6"/><stop offset="0.5365" stop-color="#00ffff"/><stop offset="0.5709" stop-color="#0035ff"/><stop offset="0.5869" stop-color="#0000ff"/><stop offset="0.5964" stop-color="#0000e5"/><stop offset="0.6109" stop-color="#0000a8"/><stop offset="0.6218" stop-color="#00008a"/><stop offset="0.64" stop-color="#000099"/><stop offset="0.6582" stop-color="#0000a2"/><stop offset="0.6618" stop-color="#0000aa"/><stop offset="0.6727" stop-color="#0000d1"/><stop offset="0.6836" stop-color="#0000e1"/><stop offset="0.6873" stop-color="#0000de"/><stop offset="0.7091" stop-color="#0000a4"/><stop offset="0.7236" stop-color="#000096"/><stop offset="0.7455" stop-color="#000096"/><stop offset="0.76" stop-color="#0000b7"/><stop offset="0.7709" stop-color="#0000df"/><stop offset="0.7767" stop-color="#0000ff"/><stop offset="0.7964" stop-color="#0074ff"/><stop offset="0.8145" stop-color="#0089ff"/><stop offset="0.8218" stop-color="#008eff"/><stop offset="0.8473" stop-color="#00eeff"/><stop offset="0.8618" stop-color="#02fffd"/><stop offset="0.88" stop-color="#04fffb"/><stop offset="0.8909" stop-color="#00fdff"/><stop offset="0.9018" stop-color="#00e9ff"/><stop offset="0.9273" stop-color="#00b0ff"/><stop offset="0.9455" stop-color="#008aff"/><stop offset="0.9527" stop-color="#0060ff"/><stop offset="0.9636" stop-color="#001eff"/><stop offset="0.9692" stop-color="#0000ff"/><stop offset="0.9709" stop-color="#0000f6"/><stop offset="0.9818" stop-color="#0000fd"/><stop offset="1" stop-color="#0000fc"/></linearGradient>
<linearGradient id="g32" gradientUnits="userSpaceOnUse" x1="55.3" x2="606" y1="0" y2="0"><stop offset="0" stop-color="#0000fc"/><stop offset="0.02182" stop-color="#0044ff"/><stop offset="0.02545" stop-color="#004aff"/><stop offset="0.04" stop-color="#0000fe"/><stop offset="0.04727" stop-color="#0000d8"/><stop offset="0.05091" stop-color="#0000e6"/><stop offset="0.05192" stop-color="#0000ff"/><stop offset="0.06233" stop-color="#00ffff"/><stop offset="0.07259" stop-color="#ffff00"/><stop offset="0.07636" stop-color="#ffac00"/><stop offset="0.08587" stop-color="#ff0000"/><stop offset="0.09091" stop-color="#a50000"/><stop offset="0.09455" stop-color="#800000"/><stop offset="0.1491" stop-color="#800000"/><stop offset="0.1527" stop-color="#c50000"/><stop offset="0.1552" stop-color="#ff0000"/><stop offset="0.1659" stop-color="#ffff00"/><stop offset="0.1745" stop-color="#2fffd0"/><stop offset="0.1818" stop-color="#19ffe6"/><stop offset="0.1929" stop-color="#00ffff"/><stop offset="0.2" stop-color="#00f0ff"/><stop offset="0.2255" stop-color="#005fff"/><stop offset="0.2393" stop-color="#0000ff"/><stop offset="0.2473" stop-color="#0000c9"/><stop offset="0.2509" stop-color="#0000c8"/><stop offset="0.2546" stop-color="#0000ff"/><stop offset="0.2717" stop-color="#00ffff"/><stop offset="0.2727" stop-color="#10ffef"/><stop offset="0.2764" stop-color="#33ffcc"/><stop offset="0.2982" stop-color="#69ff96"/><stop offset="0.3018" stop-color="#68ff97"/><stop offset="0.3236" stop-color="#33ffcc"/><stop offset="0.3332" stop-color="#00ffff"/><stop offset="0.3491" stop-color="#00a4ff"/><stop offset="0.3668" stop-color="#0000ff"/><stop offset="0.3745" stop-color="#0000b6"/><stop offset="0.3876" stop-color="#0000ff"/><stop offset="0.4" stop-color="#004bff"/><stop offset="0.4291" stop-color="#00afff"/><stop offset="0.4485" stop-color="#00ffff"/><stop offset="0.4727" stop-color="#76ff89"/><stop offset="0.4764" stop-color="#81ff7e"/><stop offset="0.4982" stop-color="#82ff7d"/><stop offset="0.5055" stop-color="#70ff8f"/><stop offset="0.5236" stop-color="#34ffcb"/><stop offset="0.5333" stop-color="#00ffff"/><stop offset="0.5636" stop-color="#0056ff"/><stop offset="0.5745" stop-color="#001cff"/><stop offset="0.5875" stop-color="#0000ff"/><stop offset="0.6" stop-color="#0000e5"/><stop offset="0.6218" stop-color="#00008c"/><stop offset="0.6255" stop-color="#000081"/><stop offset="0.6545" stop-color="#0000a7"/><stop offset="0.6727" stop-color="#0000cd"/><stop offset="0.6764" stop-color="#0000cf"/><stop offset="0.7273" stop-color="#000094"/><stop offset="0.7491" stop-color="#000094"/><stop offset="0.7745" stop-color="#0000e4"/><stop offset="0.779" stop-color="#0000ff"/><stop offset="0.8" stop-color="#007fff"/><stop offset="0.8255" stop-color="#0083ff"/><stop offset="0.8473" stop-color="#00dcff"/><stop offset="0.8509" stop-color="#00e7ff"/><stop offset="0.8764" stop-color="#00f0ff"/><stop offset="0.8982" stop-color="#00e7ff"/><stop offset="0.9273" stop-color="#00a5ff"/><stop offset="0.9491" stop-color="#0081ff"/><stop offset="0.9684" stop-color="#0000ff"/><stop offset="0.9745" stop-color="#0000d5"/><stop offset="1" stop-color="#0000fa"/></linearGradient>
<linearGradient id="g33" gradientUnits="userSpaceOnUse" x1="55.3" x2="606" y1="0" y2="0"><stop offset="0" stop-color="#0000ef"/><stop offset="0.003636" stop-color="#0000ef"/><stop offset="0.01091" stop-color="#0002ff"/><stop offset="0.02909" stop-color="#0026ff"/><stop offset="0.03806" stop-color="#0000ff"/><stop offset="0.04" stop-color="#0000f7"/><stop offset="0.05091" stop-color="#0000e6"/><stop offset="0.05455" stop-color="#0000f5"/><stop offset="0.055" stop-color="#0000ff"/><stop offset="0.06545" stop-color="#00dcff"/><stop offset="0.06675" stop-color="#00ffff"/><stop offset="0.07619" stop-color="#ffff00"/><stop offset="0.08" stop-color="#ff9f00"/><stop offset="0.08727" stop-color="#ff0000"/><stop offset="0.09091" stop-color="#b80000"/><stop offset="0.09455" stop-color="#8b0000"/><stop offset="0.09818" stop-color="#800000"/><stop offset="0.1309" stop-color="#800000"/><stop offset="0.1382" stop-color="#920000"/><stop offset="0.1418" stop-color="#a30000"/><stop offset="0.1527" stop-color="#ed0000"/><stop offset="0.1536" stop-color="#ff0000"/><stop offset="0.1564" stop-color="#ff3500"/><stop offset="0.1636" stop-color="#ffe100"/><stop offset="0.1651" stop-color="#ffff00"/><stop offset="0.1709" stop-color="#91ff6e"/><stop offset="0.1782" stop-color="#0dfff2"/><stop offset="0.1818" stop-color="#00feff"/><stop offset="0.1927" stop-color="#00e7ff"/><stop offset="0.2036" stop-color="#00c7ff"/><stop offset="0.2218" stop-color="#0066ff"/><stop offset="0.2327" stop-color="#002cff"/><stop offset="0.2405" stop-color="#0000ff"/><stop offset="0.2509" stop-color="#0000e2"/><stop offset="0.2545" stop-color="#0000e8"/><stop offset="0.2563" stop-color="#0000ff"/><stop offset="0.2655" stop-color="#007bff"/><stop offset="0.2765" stop-color="#00ffff"/><stop offset="0.28" stop-color="#1dffe2"/><stop offset="0.2945" stop-color="#40ffbf"/><stop offset="0.3018" stop-color="#4dffb2"/><stop offset="0.3055" stop-color="#4dffb2"/><stop offset="0.32" stop-color="#2effd1"/><stop offset="0.3273" stop-color="#1bffe4"/><stop offset="0.3332" stop-color="#00ffff"/><stop offset="0.3455" stop-color="#00baff"/><stop offset="0.3527" stop-color="#008cff"/><stop offset="0.3636" stop-color="#002bff"/><stop offset="0.3709" stop-color="#0004ff"/><stop offset="0.3718" stop-color="#0000ff"/><stop offset="0.3782" stop-color="#0000e2"/><stop offset="0.3831" stop-color="#0000ff"/><stop offset="0.3891" stop-color="#0029ff"/><stop offset="0.4036" stop-color="#0054ff"/><stop offset="0.4145" stop-color="#005aff"/><stop offset="0.4327" stop-color="#00a4ff"/><stop offset="0.4436" stop-color="#00d3ff"/><stop offset="0.4554" stop-color="#00ffff"/><stop offset="0.4691" stop-color="#36ffc9"/><stop offset="0.4764" stop-color="#4effb1"/><stop offset="0.48" stop-color="#55ffaa"/><stop offset="0.4945" stop-color="#54ffab"/><stop offset="0.5055" stop-color="#56ffa9"/><stop offset="0.5164" stop-color="#3fffc0"/><stop offset="0.5273" stop-color="#15ffea"/><stop offset="0.5315" stop-color="#00ffff"/><stop offset="0.5636" stop-color="#004eff"/><stop offset="0.5782" stop-color="#0015ff"/><stop offset="0.5908" stop-color="#0000ff"/><stop offset="0.6036" stop-color="#0000da"/><stop offset="0.6145" stop-color="#0000aa"/><stop offset="0.6291" stop-color="#000089"/><stop offset="0.6436" stop-color="#00009c"/><stop offset="0.6618" stop-color="#0000ab"/><stop offset="0.68" stop-color="#0000c6"/><stop offset="0.7018" stop-color="#0000b0"/><stop offset="0.7273" stop-color="#000095"/><stop offset="0.7527" stop-color="#000098"/><stop offset="0.7636" stop-color="#0000b4"/><stop offset="0.7782" stop-color="#0000ef"/><stop offset="0.7808" stop-color="#0000ff"/><stop offset="0.7927" stop-color="#0047ff"/><stop offset="0.8036" stop-color="#007cff"/><stop offset="0.8182" stop-color="#007eff"/><stop offset="0.8291" stop-color="#0079ff"/><stop offset="0.84" stop-color="#0095ff"/><stop offset="0.8545" stop-color="#00cdff"/><stop offset="0.8655" stop-color="#00dbff"/><stop offset="0.8945" stop-color="#00c6ff"/><stop offset="0.9055" stop-color="#00c1ff"/><stop offset="0.9527" stop-color="#0068ff"/><stop offset="0.9714" stop-color="#0000ff"/><stop offset="0.9782" stop-color="#0000db"/><stop offset="1" stop-color="#0000f0"/></linearGradient>
<linearGradient id="g34" gradientUnits="userSpaceOnUse" x1="55.3" x2="606" y1="0" y2="0"><stop offset="0" stop-color="#0000e6"/><stop offset="0.007273" stop-color="#0000e7"/><stop offset="0.02444" stop-color="#0000ff"/><stop offset="0.03273" stop-color="#0005ff"/><stop offset="0.03636" stop-color="#0000f8"/><stop offset="0.04364" stop-color="#0000e2"/><stop offset="0.05455" stop-color="#0000f6"/><stop offset="0.05576" stop-color="#0000ff"/><stop offset="0.05818" stop-color="#0013ff"/><stop offset="0.06545" stop-color="#008eff"/><stop offset="0.06909" stop-color="#00d8ff"/><stop offset="0.07043" stop-color="#00ffff"/><stop offset="0.07925" stop-color="#ffff00"/><stop offset="0.08364" stop-color="#ff8700"/><stop offset="0.08893" stop-color="#ff0000"/><stop offset="0.09091" stop-color="#cd0000"/><stop offset="0.09455" stop-color="#8a0000"/><stop offset="0.09818" stop-color="#800000"/><stop offset="0.1273" stop-color="#800000"/><stop offset="0.1418" stop-color="#b40000"/><stop offset="0.1455" stop-color="#d40000"/><stop offset="0.1491" stop-color="#ff0000"/><stop offset="0.1564" stop-color="#ff5500"/><stop offset="0.1639" stop-color="#ffff00"/><stop offset="0.1673" stop-color="#b0ff4f"/><stop offset="0.1709" stop-color="#78ff87"/><stop offset="0.1802" stop-color="#00ffff"/><stop offset="0.1818" stop-color="#00eaff"/><stop offset="0.1927" stop-color="#00d6ff"/><stop offset="0.2073" stop-color="#00a1ff"/><stop offset="0.2182" stop-color="#0065ff"/><stop offset="0.2404" stop-color="#0000ff"/><stop offset="0.2436" stop-color="#0000f2"/><stop offset="0.2551" stop-color="#0000ff"/><stop offset="0.2582" stop-color="#0010ff"/><stop offset="0.2691" stop-color="#0091ff"/><stop offset="0.28" stop-color="#00f6ff"/><stop offset="0.2815" stop-color="#00ffff"/><stop offset="0.2836" stop-color="#0dfff2"/><stop offset="0.2945" stop-color="#2affd5"/><stop offset="0.3055" stop-color="#37ffc8"/><stop offset="0.3164" stop-color="#2dffd2"/><stop offset="0.3324" stop-color="#00ffff"/><stop offset="0.3418" stop-color="#00d5ff"/><stop offset="0.3564" stop-color="#0074ff"/><stop offset="0.3673" stop-color="#0015ff"/><stop offset="0.3709" stop-color="#000dff"/><stop offset="0.3818" stop-color="#000aff"/><stop offset="0.3927" stop-color="#005cff"/><stop offset="0.4073" stop-color="#0059ff"/><stop offset="0.4182" stop-color="#0046ff"/><stop offset="0.4436" stop-color="#00c1ff"/><stop offset="0.4618" stop-color="#00ffff"/><stop offset="0.4691" stop-color="#19ffe6"/><stop offset="0.48" stop-color="#2dffd2"/><stop offset="0.4945" stop-color="#2bffd4"/><stop offset="0.5091" stop-color="#36ffc9"/><stop offset="0.5164" stop-color="#31ffce"/><stop offset="0.52" stop-color="#28ffd7"/><stop offset="0.5294" stop-color="#00ffff"/><stop offset="0.5673" stop-color="#0033ff"/><stop offset="0.5818" stop-color="#000dff"/><stop offset="0.5939" stop-color="#0000ff"/><stop offset="0.6109" stop-color="#0000bd"/><stop offset="0.6182" stop-color="#00009c"/><stop offset="0.6327" stop-color="#000092"/><stop offset="0.6436" stop-color="#0000a5"/><stop offset="0.6691" stop-color="#0000ab"/><stop offset="0.6836" stop-color="#0000bd"/><stop offset="0.6982" stop-color="#0000b5"/><stop offset="0.7236" stop-color="#000099"/><stop offset="0.7418" stop-color="#000094"/><stop offset="0.7564" stop-color="#00009c"/><stop offset="0.7673" stop-color="#0000b4"/><stop offset="0.7823" stop-color="#0000ff"/><stop offset="0.7927" stop-color="#0044ff"/><stop offset="0.8073" stop-color="#0079ff"/><stop offset="0.8182" stop-color="#007fff"/><stop offset="0.8327" stop-color="#0073ff"/><stop offset="0.8436" stop-color="#0080ff"/><stop offset="0.8582" stop-color="#00b9ff"/><stop offset="0.8691" stop-color="#00cdff"/><stop offset="0.8945" stop-color="#00a7ff"/><stop offset="0.9091" stop-color="#00a4ff"/><stop offset="0.9273" stop-color="#008aff"/><stop offset="0.9455" stop-color="#006cff"/><stop offset="0.9564" stop-color="#0051ff"/><stop offset="0.9709" stop-color="#000bff"/><stop offset="0.9745" stop-color="#0000fc"/><stop offset="0.9818" stop-color="#0000e0"/><stop offset="1" stop-color="#0000ea"/></linearGradient>
<linearGradient id="g35" gradientUnits="userSpaceOnUse" x1="55.3" x2="606" y1="0" y2="0"><stop offset="0" stop-color="#0000dc"/><stop offset="0.01455" stop-color="#0000e0"/><stop offset="0.02909" stop-color="#0000e6"/><stop offset="0.03636" stop-color="#0000e3"/><stop offset="0.04364" stop-color="#0000d2"/><stop offset="0.04727" stop-color="#0000d1"/><stop offset="0.05633" stop-color="#0000ff"/><stop offset="0.05818" stop-color="#0009ff"/><stop offset="0.06182" stop-color="#002bff"/><stop offset="0.06909" stop-color="#008cff"/><stop offset="0.07273" stop-color="#00d6ff"/><stop offset="0.07405" stop-color="#00ffff"/><stop offset="0.08232" stop-color="#ffff00"/><stop offset="0.09097" stop-color="#ff0000"/><stop offset="0.09455" stop-color="#970000"/><stop offset="0.09818" stop-color="#800000"/><stop offset="0.1273" stop-color="#800000"/><stop offset="0.1455" stop-color="#d70000"/><stop offset="0.1483" stop-color="#ff0000"/><stop offset="0.16" stop-color="#ffc100"/><stop offset="0.1627" stop-color="#ffff00"/><stop offset="0.1709" stop-color="#43ffbc"/><stop offset="0.1789" stop-color="#00ffff"/><stop offset="0.1855" stop-color="#00cfff"/><stop offset="0.1964" stop-color="#00bcff"/><stop offset="0.2145" stop-color="#0067ff"/><stop offset="0.2218" stop-color="#0040ff"/><stop offset="0.2391" stop-color="#0000ff"/><stop offset="0.2436" stop-color="#0000ed"/><stop offset="0.2473" stop-color="#0000e7"/><stop offset="0.2524" stop-color="#0000ff"/><stop offset="0.2582" stop-color="#001bff"/><stop offset="0.2618" stop-color="#0037ff"/><stop offset="0.2691" stop-color="#0084ff"/><stop offset="0.2727" stop-color="#00a5ff"/><stop offset="0.2836" stop-color="#00ecff"/><stop offset="0.2884" stop-color="#00ffff"/><stop offset="0.2982" stop-color="#19ffe6"/><stop offset="0.3127" stop-color="#1fffe0"/><stop offset="0.32" stop-color="#1affe5"/><stop offset="0.3296" stop-color="#00ffff"/><stop offset="0.3455" stop-color="#00c5ff"/><stop offset="0.36" stop-color="#005bff"/><stop offset="0.3709" stop-color="#0000fe"/><stop offset="0.3782" stop-color="#0017ff"/><stop offset="0.3855" stop-color="#0036ff"/><stop offset="0.3964" stop-color="#008eff"/><stop offset="0.4145" stop-color="#004dff"/><stop offset="0.4218" stop-color="#0035ff"/><stop offset="0.4473" stop-color="#00bcff"/><stop offset="0.4698" stop-color="#00ffff"/><stop offset="0.4764" stop-color="#08fff7"/><stop offset="0.4873" stop-color="#09fff6"/><stop offset="0.4945" stop-color="#03fffc"/><stop offset="0.5055" stop-color="#0ffff0"/><stop offset="0.52" stop-color="#1cffe3"/><stop offset="0.5236" stop-color="#11ffee"/><stop offset="0.5273" stop-color="#00ffff"/><stop offset="0.5455" stop-color="#00a2ff"/><stop offset="0.5709" stop-color="#0019ff"/><stop offset="0.5891" stop-color="#0006ff"/><stop offset="0.5964" stop-color="#0004ff"/><stop offset="0.6" stop-color="#0000f3"/><stop offset="0.6218" stop-color="#00008f"/><stop offset="0.6364" stop-color="#00009b"/><stop offset="0.6473" stop-color="#0000af"/><stop offset="0.6727" stop-color="#0000a6"/><stop offset="0.6873" stop-color="#0000b5"/><stop offset="0.6982" stop-color="#0000b5"/><stop offset="0.7236" stop-color="#000098"/><stop offset="0.7455" stop-color="#000094"/><stop offset="0.7636" stop-color="#0000a7"/><stop offset="0.7709" stop-color="#0000b4"/><stop offset="0.7838" stop-color="#0000ff"/><stop offset="0.7964" stop-color="#0053ff"/><stop offset="0.8109" stop-color="#0076ff"/><stop offset="0.8218" stop-color="#007fff"/><stop offset="0.8364" stop-color="#006bff"/><stop offset="0.8436" stop-color="#0068ff"/><stop offset="0.8473" stop-color="#006bff"/><stop offset="0.8618" stop-color="#00a5ff"/><stop offset="0.8691" stop-color="#00bbff"/><stop offset="0.8727" stop-color="#00beff"/><stop offset="0.8945" stop-color="#008bff"/><stop offset="0.9018" stop-color="#0088ff"/><stop offset="0.92" stop-color="#0085ff"/><stop offset="0.9455" stop-color="#0062ff"/><stop offset="0.96" stop-color="#003aff"/><stop offset="0.9709" stop-color="#000bff"/><stop offset="0.9752" stop-color="#0000ff"/><stop offset="0.9855" stop-color="#0000e7"/><stop offset="1" stop-color="#0000e7"/></linearGradient>
<linearGradient id="g36" gradientUnits="userSpaceOnUse" x1="55.3" x2="606" y1="0" y2="0"><stop offset="0" stop-color="#0000d1"/><stop offset="0.02545" stop-color="#0000d1"/><stop offset="0.04727" stop-color="#0000b7"/><stop offset="0.05091" stop-color="#0000bc"/><stop offset="0.05841" stop-color="#0000ff"/><stop offset="0.07273" stop-color="#0081ff"/><stop offset="0.07636" stop-color="#00c1ff"/><stop offset="0.07825" stop-color="#00ffff"/><stop offset="0.08598" stop-color="#ffff00"/><stop offset="0.09373" stop-color="#ff0000"/><stop offset="0.09455" stop-color="#e40000"/><stop offset="0.09818" stop-color="#800000"/><stop offset="0.1273" stop-color="#800000"/><stop offset="0.1345" stop-color="#a60000"/><stop offset="0.1491" stop-color="#ff0100"/><stop offset="0.1527" stop-color="#ff4300"/><stop offset="0.1611" stop-color="#ffff00"/><stop offset="0.1725" stop-color="#00ffff"/><stop offset="0.1745" stop-color="#00d2ff"/><stop offset="0.1782" stop-color="#00c1ff"/><stop offset="0.2" stop-color="#009dff"/><stop offset="0.2255" stop-color="#0018ff"/><stop offset="0.2341" stop-color="#0000ff"/><stop offset="0.2473" stop-color="#0000da"/><stop offset="0.2509" stop-color="#0000d9"/><stop offset="0.2552" stop-color="#0000ff"/><stop offset="0.2727" stop-color="#009dff"/><stop offset="0.2764" stop-color="#00b6ff"/><stop offset="0.2992" stop-color="#00ffff"/><stop offset="0.3055" stop-color="#04fffb"/><stop offset="0.3236" stop-color="#05fffa"/><stop offset="0.3273" stop-color="#00fcff"/><stop offset="0.3491" stop-color="#00b5ff"/><stop offset="0.3564" stop-color="#007fff"/><stop offset="0.3719" stop-color="#0000ff"/><stop offset="0.3745" stop-color="#0000ea"/><stop offset="0.3782" stop-color="#0002ff"/><stop offset="0.4" stop-color="#00c5ff"/><stop offset="0.4218" stop-color="#0030ff"/><stop offset="0.4255" stop-color="#001cff"/><stop offset="0.4509" stop-color="#00b5ff"/><stop offset="0.4727" stop-color="#00e9ff"/><stop offset="0.4764" stop-color="#00edff"/><stop offset="0.4982" stop-color="#00d3ff"/><stop offset="0.5018" stop-color="#00d4ff"/><stop offset="0.5243" stop-color="#00ffff"/><stop offset="0.5273" stop-color="#00f8ff"/><stop offset="0.5745" stop-color="#0000fd"/><stop offset="0.6" stop-color="#0005ff"/><stop offset="0.6009" stop-color="#0000ff"/><stop offset="0.6255" stop-color="#000081"/><stop offset="0.6509" stop-color="#0000bc"/><stop offset="0.6764" stop-color="#00009f"/><stop offset="0.6982" stop-color="#0000b1"/><stop offset="0.7127" stop-color="#0000a3"/><stop offset="0.7273" stop-color="#000094"/><stop offset="0.7527" stop-color="#000097"/><stop offset="0.7745" stop-color="#0000b2"/><stop offset="0.7861" stop-color="#0000ff"/><stop offset="0.8" stop-color="#0060ff"/><stop offset="0.8255" stop-color="#007eff"/><stop offset="0.8473" stop-color="#0052ff"/><stop offset="0.8509" stop-color="#0050ff"/><stop offset="0.8727" stop-color="#00a8ff"/><stop offset="0.8764" stop-color="#00aeff"/><stop offset="0.8982" stop-color="#0067ff"/><stop offset="0.9018" stop-color="#0061ff"/><stop offset="0.9236" stop-color="#006aff"/><stop offset="0.9491" stop-color="#004dff"/><stop offset="0.9735" stop-color="#0000ff"/><stop offset="0.9927" stop-color="#0000eb"/><stop offset="1" stop-color="#0000e5"/></linearGradient>
<linearGradient id="g37" gradientUnits="userSpaceOnUse" x1="55.3" x2="606" y1="0" y2="0"><stop offset="0" stop-color="#0000d1"/><stop offset="0.01818" stop-color="#0000d4"/><stop offset="0.03273" stop-color="#0000d9"/><stop offset="0.04" stop-color="#0000d8"/><stop offset="0.05091" stop-color="#0000f0"/><stop offset="0.05455" stop-color="#0003ff"/><stop offset="0.06545" stop-color="#0071ff"/><stop offset="0.07636" stop-color="#00ecff"/><stop offset="0.07731" stop-color="#00ffff"/><stop offset="0.08" stop-color="#36ffc9"/><stop offset="0.08677" stop-color="#ffff00"/><stop offset="0.09091" stop-color="#ff8a00"/><stop offset="0.09629" stop-color="#ff0000"/><stop offset="0.09818" stop-color="#cf0000"/><stop offset="0.1018" stop-color="#800000"/><stop offset="0.1236" stop-color="#820000"/><stop offset="0.1273" stop-color="#900000"/><stop offset="0.1382" stop-color="#d80000"/><stop offset="0.1429" stop-color="#ff0000"/><stop offset="0.1527" stop-color="#ff5700"/><stop offset="0.1564" stop-color="#ff9d00"/><stop offset="0.1609" stop-color="#ffff00"/><stop offset="0.1673" stop-color="#7fff80"/><stop offset="0.174" stop-color="#00ffff"/><stop offset="0.1782" stop-color="#00b0ff"/><stop offset="0.1891" stop-color="#008fff"/><stop offset="0.2036" stop-color="#0077ff"/><stop offset="0.2145" stop-color="#0047ff"/><stop offset="0.2291" stop-color="#001bff"/><stop offset="0.24" stop-color="#000cff"/><stop offset="0.2441" stop-color="#0000ff"/><stop offset="0.2509" stop-color="#0000ec"/><stop offset="0.2545" stop-color="#0000ed"/><stop offset="0.2575" stop-color="#0000ff"/><stop offset="0.2655" stop-color="#0033ff"/><stop offset="0.2764" stop-color="#0088ff"/><stop offset="0.28" stop-color="#009dff"/><stop offset="0.3018" stop-color="#00e2ff"/><stop offset="0.3164" stop-color="#00ecff"/><stop offset="0.3273" stop-color="#00e9ff"/><stop offset="0.3418" stop-color="#00c2ff"/><stop offset="0.3527" stop-color="#0096ff"/><stop offset="0.3636" stop-color="#0043ff"/><stop offset="0.3745" stop-color="#0000fe"/><stop offset="0.3782" stop-color="#0000e9"/><stop offset="0.3818" stop-color="#0002ff"/><stop offset="0.4" stop-color="#0089ff"/><stop offset="0.4036" stop-color="#00a1ff"/><stop offset="0.4255" stop-color="#003cff"/><stop offset="0.4291" stop-color="#0033ff"/><stop offset="0.4545" stop-color="#00b4ff"/><stop offset="0.4655" stop-color="#00cdff"/><stop offset="0.4764" stop-color="#00d4ff"/><stop offset="0.4836" stop-color="#00c9ff"/><stop offset="0.4909" stop-color="#00bcff"/><stop offset="0.5018" stop-color="#00bfff"/><stop offset="0.5164" stop-color="#00dfff"/><stop offset="0.5273" stop-color="#00e7ff"/><stop offset="0.5345" stop-color="#00c8ff"/><stop offset="0.5773" stop-color="#0000ff"/><stop offset="0.5782" stop-color="#0000fb"/><stop offset="0.6036" stop-color="#0000f2"/><stop offset="0.6182" stop-color="#0000b1"/><stop offset="0.6255" stop-color="#000096"/><stop offset="0.6291" stop-color="#00008e"/><stop offset="0.6509" stop-color="#0000bc"/><stop offset="0.6545" stop-color="#0000bf"/><stop offset="0.68" stop-color="#0000a4"/><stop offset="0.7055" stop-color="#0000aa"/><stop offset="0.7309" stop-color="#000094"/><stop offset="0.7564" stop-color="#00009c"/><stop offset="0.7782" stop-color="#0000bc"/><stop offset="0.7895" stop-color="#0000ff"/><stop offset="0.8036" stop-color="#0055ff"/><stop offset="0.8145" stop-color="#0069ff"/><stop offset="0.8291" stop-color="#0070ff"/><stop offset="0.8473" stop-color="#0054ff"/><stop offset="0.8509" stop-color="#0050ff"/><stop offset="0.8545" stop-color="#0051ff"/><stop offset="0.8691" stop-color="#0080ff"/><stop offset="0.8764" stop-color="#0091ff"/><stop offset="0.88" stop-color="#0090ff"/><stop offset="0.8982" stop-color="#005dff"/><stop offset="0.9018" stop-color="#0054ff"/><stop offset="0.9309" stop-color="#0050ff"/><stop offset="0.9527" stop-color="#003dff"/><stop offset="0.9673" stop-color="#001cff"/><stop offset="0.976" stop-color="#0000ff"/><stop offset="0.9818" stop-color="#0000f3"/><stop offset="1" stop-color="#0000e3"/></linearGradient>
<linearGradient id="g38" gradientUnits="userSpaceOnUse" x1="55.3" x2="606" y1="0" y2="0"><stop offset="0" stop-color="#0000d1"/><stop offset="0.01818" stop-color="#0000d1"/><stop offset="0.04364" stop-color="#0000f1"/><stop offset="0.04594" stop-color="#0000ff"/><stop offset="0.05455" stop-color="#0035ff"/><stop offset="0.05818" stop-color="#0051ff"/><stop offset="0.06909" stop-color="#00ccff"/><stop offset="0.07275" stop-color="#00ffff"/><stop offset="0.08" stop-color="#66ff99"/><stop offset="0.08364" stop-color="#abff54"/><stop offset="0.0869" stop-color="#ffff00"/><stop offset="0.09091" stop-color="#ff9800"/><stop offset="0.09455" stop-color="#ff4500"/><stop offset="0.09865" stop-color="#ff0000"/><stop offset="0.1055" stop-color="#8c0000"/><stop offset="0.1091" stop-color="#800000"/><stop offset="0.12" stop-color="#800000"/><stop offset="0.1309" stop-color="#be0000"/><stop offset="0.1397" stop-color="#ff0000"/><stop offset="0.1418" stop-color="#ff1000"/><stop offset="0.1455" stop-color="#ff3500"/><stop offset="0.1564" stop-color="#ffb800"/><stop offset="0.1602" stop-color="#ffff00"/><stop offset="0.1673" stop-color="#73ff8c"/><stop offset="0.1747" stop-color="#00ffff"/><stop offset="0.1818" stop-color="#0097ff"/><stop offset="0.1927" stop-color="#0062ff"/><stop offset="0.2073" stop-color="#004bff"/><stop offset="0.2182" stop-color="#0028ff"/><stop offset="0.2327" stop-color="#001fff"/><stop offset="0.2436" stop-color="#0023ff"/><stop offset="0.2545" stop-color="#0004ff"/><stop offset="0.2582" stop-color="#0000ff"/><stop offset="0.2691" stop-color="#0022ff"/><stop offset="0.28" stop-color="#0069ff"/><stop offset="0.2873" stop-color="#0089ff"/><stop offset="0.2982" stop-color="#00acff"/><stop offset="0.3091" stop-color="#00c6ff"/><stop offset="0.32" stop-color="#00cfff"/><stop offset="0.3345" stop-color="#00c5ff"/><stop offset="0.3418" stop-color="#00b6ff"/><stop offset="0.3491" stop-color="#0097ff"/><stop offset="0.3564" stop-color="#0073ff"/><stop offset="0.3673" stop-color="#0025ff"/><stop offset="0.3765" stop-color="#0000ff"/><stop offset="0.3818" stop-color="#0000ec"/><stop offset="0.3862" stop-color="#0000ff"/><stop offset="0.3964" stop-color="#0035ff"/><stop offset="0.4073" stop-color="#0077ff"/><stop offset="0.4218" stop-color="#005fff"/><stop offset="0.4327" stop-color="#004aff"/><stop offset="0.4582" stop-color="#00b1ff"/><stop offset="0.4691" stop-color="#00c9ff"/><stop offset="0.4836" stop-color="#00b0ff"/><stop offset="0.4909" stop-color="#0098ff"/><stop offset="0.4945" stop-color="#0092ff"/><stop offset="0.5091" stop-color="#00b1ff"/><stop offset="0.5164" stop-color="#00cbff"/><stop offset="0.52" stop-color="#00d0ff"/><stop offset="0.5309" stop-color="#00c6ff"/><stop offset="0.5745" stop-color="#0017ff"/><stop offset="0.5818" stop-color="#0000fc"/><stop offset="0.6073" stop-color="#0000df"/><stop offset="0.6182" stop-color="#0000b3"/><stop offset="0.6327" stop-color="#00009c"/><stop offset="0.6509" stop-color="#0000bc"/><stop offset="0.6582" stop-color="#0000c4"/><stop offset="0.6691" stop-color="#0000bf"/><stop offset="0.6836" stop-color="#0000a9"/><stop offset="0.6982" stop-color="#0000a3"/><stop offset="0.7127" stop-color="#0000a1"/><stop offset="0.7382" stop-color="#000094"/><stop offset="0.76" stop-color="#0000a0"/><stop offset="0.7745" stop-color="#0000b7"/><stop offset="0.7818" stop-color="#0000c6"/><stop offset="0.7937" stop-color="#0000ff"/><stop offset="0.8073" stop-color="#0047ff"/><stop offset="0.8182" stop-color="#0062ff"/><stop offset="0.8327" stop-color="#0061ff"/><stop offset="0.8436" stop-color="#004fff"/><stop offset="0.8582" stop-color="#0051ff"/><stop offset="0.8691" stop-color="#006eff"/><stop offset="0.88" stop-color="#0073ff"/><stop offset="0.8836" stop-color="#006fff"/><stop offset="0.8945" stop-color="#0050ff"/><stop offset="0.9091" stop-color="#003cff"/><stop offset="0.9309" stop-color="#0039ff"/><stop offset="0.9455" stop-color="#002bff"/><stop offset="0.96" stop-color="#0028ff"/><stop offset="0.9673" stop-color="#0021ff"/><stop offset="0.979" stop-color="#0000ff"/><stop offset="0.9927" stop-color="#0000e2"/><stop offset="1" stop-color="#0000de"/></linearGradient>
<linearGradient id="g39" gradientUnits="userSpaceOnUse" x1="55.3" x2="606" y1="0" y2="0"><stop offset="0" stop-color="#0000d1"/><stop offset="0.02182" stop-color="#0000d2"/><stop offset="0.04403" stop-color="#0000ff"/><stop offset="0.04727" stop-color="#000bff"/><stop offset="0.05818" stop-color="#0072ff"/><stop offset="0.06545" stop-color="#00c4ff"/><stop offset="0.07021" stop-color="#00ffff"/><stop offset="0.07273" stop-color="#22ffdd"/><stop offset="0.08364" stop-color="#d4ff2b"/><stop offset="0.08584" stop-color="#ffff00"/><stop offset="0.09091" stop-color="#ff9200"/><stop offset="0.09455" stop-color="#ff4000"/><stop offset="0.09858" stop-color="#ff0000"/><stop offset="0.1091" stop-color="#9b0000"/><stop offset="0.1127" stop-color="#8e0000"/><stop offset="0.12" stop-color="#8a0000"/><stop offset="0.1236" stop-color="#980000"/><stop offset="0.1374" stop-color="#ff0000"/><stop offset="0.1455" stop-color="#ff4200"/><stop offset="0.1491" stop-color="#ff7100"/><stop offset="0.1588" stop-color="#ffff00"/><stop offset="0.16" stop-color="#edff12"/><stop offset="0.1709" stop-color="#21ffde"/><stop offset="0.1736" stop-color="#00ffff"/><stop offset="0.1855" stop-color="#007aff"/><stop offset="0.1964" stop-color="#003aff"/><stop offset="0.2145" stop-color="#001dff"/><stop offset="0.2218" stop-color="#000eff"/><stop offset="0.2473" stop-color="#0035ff"/><stop offset="0.2582" stop-color="#0016ff"/><stop offset="0.2618" stop-color="#0011ff"/><stop offset="0.2691" stop-color="#0012ff"/><stop offset="0.2727" stop-color="#0018ff"/><stop offset="0.2873" stop-color="#0062ff"/><stop offset="0.2982" stop-color="#008aff"/><stop offset="0.3127" stop-color="#00aaff"/><stop offset="0.3236" stop-color="#00b7ff"/><stop offset="0.3382" stop-color="#00abff"/><stop offset="0.3455" stop-color="#00a1ff"/><stop offset="0.3527" stop-color="#007cff"/><stop offset="0.3636" stop-color="#003aff"/><stop offset="0.3709" stop-color="#0007ff"/><stop offset="0.3745" stop-color="#0000fd"/><stop offset="0.3855" stop-color="#0000ee"/><stop offset="0.3912" stop-color="#0000ff"/><stop offset="0.3964" stop-color="#000fff"/><stop offset="0.4109" stop-color="#0055ff"/><stop offset="0.4218" stop-color="#005fff"/><stop offset="0.4364" stop-color="#0060ff"/><stop offset="0.4655" stop-color="#00baff"/><stop offset="0.4691" stop-color="#00c3ff"/><stop offset="0.4727" stop-color="#00c5ff"/><stop offset="0.4873" stop-color="#0092ff"/><stop offset="0.4945" stop-color="#0073ff"/><stop offset="0.4982" stop-color="#0070ff"/><stop offset="0.5127" stop-color="#00a3ff"/><stop offset="0.52" stop-color="#00c1ff"/><stop offset="0.5236" stop-color="#00c3ff"/><stop offset="0.5345" stop-color="#00abff"/><stop offset="0.56" stop-color="#004cff"/><stop offset="0.5782" stop-color="#0011ff"/><stop offset="0.5855" stop-color="#0000fc"/><stop offset="0.6036" stop-color="#0000dd"/><stop offset="0.6109" stop-color="#0000ce"/><stop offset="0.6218" stop-color="#0000a9"/><stop offset="0.6364" stop-color="#0000a9"/><stop offset="0.6509" stop-color="#0000c0"/><stop offset="0.6655" stop-color="#0000c8"/><stop offset="0.6727" stop-color="#0000c6"/><stop offset="0.6945" stop-color="#0000a3"/><stop offset="0.7418" stop-color="#000094"/><stop offset="0.76" stop-color="#0000a0"/><stop offset="0.7745" stop-color="#0000b6"/><stop offset="0.7855" stop-color="#0000d1"/><stop offset="0.7973" stop-color="#0000ff"/><stop offset="0.8109" stop-color="#003cff"/><stop offset="0.8218" stop-color="#005dff"/><stop offset="0.84" stop-color="#004eff"/><stop offset="0.8473" stop-color="#0045ff"/><stop offset="0.8618" stop-color="#0052ff"/><stop offset="0.8727" stop-color="#0066ff"/><stop offset="0.8873" stop-color="#0052ff"/><stop offset="0.8982" stop-color="#0035ff"/><stop offset="0.9127" stop-color="#002cff"/><stop offset="0.9273" stop-color="#0028ff"/><stop offset="0.9455" stop-color="#0015ff"/><stop offset="0.9709" stop-color="#001dff"/><stop offset="0.9818" stop-color="#0000fe"/><stop offset="0.9964" stop-color="#0000d9"/><stop offset="1" stop-color="#0000d8"/></linearGradient>
<linearGradient id="g40" gradientUnits="userSpaceOnUse" x1="55.3" x2="606" y1="0" y2="0"><stop offset="0" stop-color="#0000d1"/><stop offset="0.02545" stop-color="#0000d3"/><stop offset="0.04115" stop-color="#0000ff"/><stop offset="0.04727" stop-color="#0011ff"/><stop offset="0.05091" stop-color="#0027ff"/><stop offset="0.06776" stop-color="#00ffff"/><stop offset="0.07273" stop-color="#40ffbf"/><stop offset="0.07636" stop-color="#79ff86"/><stop offset="0.08364" stop-color="#fffe00"/><stop offset="0.0971" stop-color="#ff0000"/><stop offset="0.09818" stop-color="#ea0000"/><stop offset="0.1018" stop-color="#c80000"/><stop offset="0.12" stop-color="#a40000"/><stop offset="0.1236" stop-color="#9e0000"/><stop offset="0.1273" stop-color="#b30000"/><stop offset="0.1359" stop-color="#ff0000"/><stop offset="0.1491" stop-color="#ff7600"/><stop offset="0.1573" stop-color="#ffff00"/><stop offset="0.1719" stop-color="#00ffff"/><stop offset="0.1745" stop-color="#00d0ff"/><stop offset="0.1964" stop-color="#002bff"/><stop offset="0.2" stop-color="#0012ff"/><stop offset="0.2147" stop-color="#0000ff"/><stop offset="0.2255" stop-color="#0000f4"/><stop offset="0.2291" stop-color="#0002ff"/><stop offset="0.2473" stop-color="#0042ff"/><stop offset="0.2509" stop-color="#0047ff"/><stop offset="0.2727" stop-color="#000bff"/><stop offset="0.2764" stop-color="#000dff"/><stop offset="0.2982" stop-color="#0067ff"/><stop offset="0.3236" stop-color="#009eff"/><stop offset="0.3491" stop-color="#008cff"/><stop offset="0.3673" stop-color="#001aff"/><stop offset="0.3712" stop-color="#0000ff"/><stop offset="0.3745" stop-color="#0000e9"/><stop offset="0.3964" stop-color="#0000f8"/><stop offset="0.4007" stop-color="#0000ff"/><stop offset="0.4255" stop-color="#0059ff"/><stop offset="0.4545" stop-color="#0095ff"/><stop offset="0.4727" stop-color="#00c2ff"/><stop offset="0.4764" stop-color="#00bfff"/><stop offset="0.4982" stop-color="#004eff"/><stop offset="0.5018" stop-color="#004fff"/><stop offset="0.5236" stop-color="#00b8ff"/><stop offset="0.5273" stop-color="#00b5ff"/><stop offset="0.5527" stop-color="#005aff"/><stop offset="0.5782" stop-color="#0013ff"/><stop offset="0.5873" stop-color="#0000ff"/><stop offset="0.6036" stop-color="#0000db"/><stop offset="0.6255" stop-color="#0000a0"/><stop offset="0.6509" stop-color="#0000c7"/><stop offset="0.6727" stop-color="#0000d0"/><stop offset="0.68" stop-color="#0000c6"/><stop offset="0.7018" stop-color="#00009d"/><stop offset="0.7345" stop-color="#000094"/><stop offset="0.7527" stop-color="#000097"/><stop offset="0.7745" stop-color="#0000b2"/><stop offset="0.8011" stop-color="#0000ff"/><stop offset="0.8218" stop-color="#004dff"/><stop offset="0.8255" stop-color="#0056ff"/><stop offset="0.8509" stop-color="#003bff"/><stop offset="0.8727" stop-color="#005eff"/><stop offset="0.8764" stop-color="#005dff"/><stop offset="0.8982" stop-color="#0020ff"/><stop offset="0.9091" stop-color="#001bff"/><stop offset="0.9273" stop-color="#0018ff"/><stop offset="0.9491" stop-color="#0000fd"/><stop offset="0.9636" stop-color="#000dff"/><stop offset="0.9745" stop-color="#001aff"/><stop offset="0.9837" stop-color="#0000ff"/><stop offset="1" stop-color="#0000d2"/></linearGradient>
<linearGradient id="g41" gradientUnits="userSpaceOnUse" x1="55.3" x2="606" y1="0" y2="0"><stop offset="0" stop-color="#0000c4"/><stop offset="0.01818" stop-color="#0000c9"/><stop offset="0.02909" stop-color="#0000d4"/><stop offset="0.04" stop-color="#0000f4"/><stop offset="0.0421" stop-color="#0000ff"/><stop offset="0.05091" stop-color="#002dff"/><stop offset="0.05455" stop-color="#0047ff"/><stop offset="0.06545" stop-color="#00d2ff"/><stop offset="0.0686" stop-color="#00ffff"/><stop offset="0.07636" stop-color="#70ff8f"/><stop offset="0.08" stop-color="#abff54"/><stop offset="0.08452" stop-color="#ffff00"/><stop offset="0.09091" stop-color="#ff8c00"/><stop offset="0.1006" stop-color="#ff0000"/><stop offset="0.1018" stop-color="#ee0000"/><stop offset="0.1055" stop-color="#d10000"/><stop offset="0.1164" stop-color="#c20000"/><stop offset="0.1273" stop-color="#cc0000"/><stop offset="0.1309" stop-color="#e20000"/><stop offset="0.1345" stop-color="#ff0300"/><stop offset="0.1418" stop-color="#ff4800"/><stop offset="0.1527" stop-color="#ffc200"/><stop offset="0.1565" stop-color="#ffff00"/><stop offset="0.1636" stop-color="#82ff7d"/><stop offset="0.1719" stop-color="#00ffff"/><stop offset="0.1782" stop-color="#009fff"/><stop offset="0.1891" stop-color="#0048ff"/><stop offset="0.2025" stop-color="#0000ff"/><stop offset="0.2036" stop-color="#0000f9"/><stop offset="0.2291" stop-color="#0000eb"/><stop offset="0.2364" stop-color="#0003ff"/><stop offset="0.2509" stop-color="#0025ff"/><stop offset="0.2545" stop-color="#0027ff"/><stop offset="0.2691" stop-color="#0004ff"/><stop offset="0.2764" stop-color="#0000f7"/><stop offset="0.28" stop-color="#0000f8"/><stop offset="0.282" stop-color="#0000ff"/><stop offset="0.3055" stop-color="#004bff"/><stop offset="0.3273" stop-color="#006dff"/><stop offset="0.3455" stop-color="#0063ff"/><stop offset="0.3527" stop-color="#005cff"/><stop offset="0.3718" stop-color="#0000ff"/><stop offset="0.3782" stop-color="#0000e1"/><stop offset="0.4036" stop-color="#0000f1"/><stop offset="0.4088" stop-color="#0000ff"/><stop offset="0.4291" stop-color="#0039ff"/><stop offset="0.4764" stop-color="#0089ff"/><stop offset="0.48" stop-color="#0088ff"/><stop offset="0.5018" stop-color="#0038ff"/><stop offset="0.5055" stop-color="#003aff"/><stop offset="0.52" stop-color="#0073ff"/><stop offset="0.5273" stop-color="#008bff"/><stop offset="0.5309" stop-color="#0089ff"/><stop offset="0.56" stop-color="#0032ff"/><stop offset="0.5797" stop-color="#0000ff"/><stop offset="0.6109" stop-color="#0000c3"/><stop offset="0.6291" stop-color="#00009e"/><stop offset="0.6582" stop-color="#0000c0"/><stop offset="0.68" stop-color="#0000c2"/><stop offset="0.7018" stop-color="#0000a3"/><stop offset="0.7527" stop-color="#00009a"/><stop offset="0.7745" stop-color="#0000b0"/><stop offset="0.7855" stop-color="#0000c7"/><stop offset="0.8073" stop-color="#0002ff"/><stop offset="0.8291" stop-color="#003eff"/><stop offset="0.8545" stop-color="#0029ff"/><stop offset="0.8764" stop-color="#0044ff"/><stop offset="0.88" stop-color="#0043ff"/><stop offset="0.9018" stop-color="#0015ff"/><stop offset="0.92" stop-color="#0012ff"/><stop offset="0.9345" stop-color="#000cff"/><stop offset="0.9491" stop-color="#0000fe"/><stop offset="0.9564" stop-color="#0000fc"/><stop offset="0.9782" stop-color="#0007ff"/><stop offset="0.9818" stop-color="#0000fd"/><stop offset="1" stop-color="#0000d1"/></linearGradient>
<linearGradient id="g42" gradientUnits="userSpaceOnUse" x1="55.3" x2="606" y1="0" y2="0"><stop offset="0" stop-color="#0000b7"/><stop offset="0.01818" stop-color="#0000bd"/><stop offset="0.03273" stop-color="#0000d6"/><stop offset="0.04364" stop-color="#0000fa"/><stop offset="0.04436" stop-color="#0000ff"/><stop offset="0.05455" stop-color="#0048ff"/><stop offset="0.05818" stop-color="#0069ff"/><stop offset="0.06909" stop-color="#00f2ff"/><stop offset="0.06989" stop-color="#00ffff"/><stop offset="0.08" stop-color="#9eff61"/><stop offset="0.08548" stop-color="#ffff00"/><stop offset="0.09091" stop-color="#ff9a00"/><stop offset="0.09455" stop-color="#ff6300"/><stop offset="0.1039" stop-color="#ff0000"/><stop offset="0.1055" stop-color="#ef0000"/><stop offset="0.1091" stop-color="#dd0000"/><stop offset="0.1164" stop-color="#d00000"/><stop offset="0.12" stop-color="#d30000"/><stop offset="0.1309" stop-color="#f50000"/><stop offset="0.1322" stop-color="#ff0000"/><stop offset="0.1418" stop-color="#ff5000"/><stop offset="0.1491" stop-color="#ffaa00"/><stop offset="0.1556" stop-color="#ffff00"/><stop offset="0.16" stop-color="#b6ff49"/><stop offset="0.1673" stop-color="#36ffc9"/><stop offset="0.1711" stop-color="#00ffff"/><stop offset="0.1818" stop-color="#0071ff"/><stop offset="0.1927" stop-color="#0018ff"/><stop offset="0.2" stop-color="#0000fd"/><stop offset="0.2073" stop-color="#0000e6"/><stop offset="0.2291" stop-color="#0000e4"/><stop offset="0.2327" stop-color="#0000e7"/><stop offset="0.2436" stop-color="#0002ff"/><stop offset="0.2545" stop-color="#000aff"/><stop offset="0.2582" stop-color="#0007ff"/><stop offset="0.2618" stop-color="#0000fd"/><stop offset="0.2691" stop-color="#0000ec"/><stop offset="0.28" stop-color="#0000e5"/><stop offset="0.2836" stop-color="#0000ea"/><stop offset="0.291" stop-color="#0000ff"/><stop offset="0.3091" stop-color="#002aff"/><stop offset="0.3309" stop-color="#0044ff"/><stop offset="0.3491" stop-color="#003aff"/><stop offset="0.3564" stop-color="#0032ff"/><stop offset="0.3695" stop-color="#0000ff"/><stop offset="0.3818" stop-color="#0000da"/><stop offset="0.4073" stop-color="#0000e9"/><stop offset="0.4187" stop-color="#0000ff"/><stop offset="0.4364" stop-color="#0023ff"/><stop offset="0.48" stop-color="#0058ff"/><stop offset="0.4836" stop-color="#0055ff"/><stop offset="0.4982" stop-color="#0033ff"/><stop offset="0.5055" stop-color="#0026ff"/><stop offset="0.5091" stop-color="#002dff"/><stop offset="0.52" stop-color="#0050ff"/><stop offset="0.5309" stop-color="#0066ff"/><stop offset="0.5455" stop-color="#0046ff"/><stop offset="0.5736" stop-color="#0000ff"/><stop offset="0.5964" stop-color="#0000d2"/><stop offset="0.6327" stop-color="#00009d"/><stop offset="0.6655" stop-color="#0000ba"/><stop offset="0.6836" stop-color="#0000b7"/><stop offset="0.6982" stop-color="#0000a7"/><stop offset="0.7127" stop-color="#0000a5"/><stop offset="0.76" stop-color="#0000a2"/><stop offset="0.7709" stop-color="#0000a9"/><stop offset="0.7855" stop-color="#0000c1"/><stop offset="0.812" stop-color="#0000ff"/><stop offset="0.8255" stop-color="#001eff"/><stop offset="0.8327" stop-color="#0029ff"/><stop offset="0.8582" stop-color="#001bff"/><stop offset="0.88" stop-color="#002dff"/><stop offset="0.8945" stop-color="#001cff"/><stop offset="0.9091" stop-color="#000aff"/><stop offset="0.9345" stop-color="#0009ff"/><stop offset="0.9527" stop-color="#0000fc"/><stop offset="0.9636" stop-color="#0000fe"/><stop offset="0.9745" stop-color="#0000fc"/><stop offset="0.9818" stop-color="#0000f6"/><stop offset="0.9927" stop-color="#0000d7"/><stop offset="1" stop-color="#0000cc"/></linearGradient>
<linearGradient id="g43" gradientUnits="userSpaceOnUse" x1="55.3" x2="606" y1="0" y2="0"><stop offset="0" stop-color="#0000a7"/><stop offset="0.02182" stop-color="#0000b2"/><stop offset="0.04" stop-color="#0000e2"/><stop offset="0.04759" stop-color="#0000ff"/><stop offset="0.06182" stop-color="#0089ff"/><stop offset="0.07151" stop-color="#00ffff"/><stop offset="0.07273" stop-color="#10ffef"/><stop offset="0.08657" stop-color="#ffff00"/><stop offset="0.09455" stop-color="#ff6c00"/><stop offset="0.09818" stop-color="#ff3a00"/><stop offset="0.108" stop-color="#ff0000"/><stop offset="0.1127" stop-color="#ec0000"/><stop offset="0.12" stop-color="#de0000"/><stop offset="0.1236" stop-color="#e50000"/><stop offset="0.1281" stop-color="#ff0000"/><stop offset="0.1345" stop-color="#ff2600"/><stop offset="0.1455" stop-color="#ff7f00"/><stop offset="0.1491" stop-color="#ffad00"/><stop offset="0.1543" stop-color="#ffff00"/><stop offset="0.16" stop-color="#a7ff58"/><stop offset="0.1696" stop-color="#00ffff"/><stop offset="0.1709" stop-color="#00e7ff"/><stop offset="0.1745" stop-color="#00b9ff"/><stop offset="0.1855" stop-color="#0042ff"/><stop offset="0.1931" stop-color="#0000ff"/><stop offset="0.1964" stop-color="#0000e3"/><stop offset="0.2109" stop-color="#0000d0"/><stop offset="0.2327" stop-color="#0000db"/><stop offset="0.2473" stop-color="#0000f3"/><stop offset="0.2618" stop-color="#0000e2"/><stop offset="0.2727" stop-color="#0000c9"/><stop offset="0.2873" stop-color="#0000d6"/><stop offset="0.3018" stop-color="#0000f3"/><stop offset="0.3127" stop-color="#0003ff"/><stop offset="0.3345" stop-color="#0012ff"/><stop offset="0.3491" stop-color="#000dff"/><stop offset="0.36" stop-color="#0000ff"/><stop offset="0.3709" stop-color="#0000e3"/><stop offset="0.3855" stop-color="#0000d4"/><stop offset="0.4073" stop-color="#0000de"/><stop offset="0.4255" stop-color="#0000ed"/><stop offset="0.44" stop-color="#0000ff"/><stop offset="0.4836" stop-color="#001bff"/><stop offset="0.4982" stop-color="#000fff"/><stop offset="0.5091" stop-color="#0013ff"/><stop offset="0.5236" stop-color="#0033ff"/><stop offset="0.5345" stop-color="#0036ff"/><stop offset="0.5527" stop-color="#0017ff"/><stop offset="0.5636" stop-color="#0000ff"/><stop offset="0.5964" stop-color="#0000c0"/><stop offset="0.6291" stop-color="#00009f"/><stop offset="0.64" stop-color="#00009c"/><stop offset="0.6727" stop-color="#0000b2"/><stop offset="0.6982" stop-color="#0000a1"/><stop offset="0.7273" stop-color="#0000ad"/><stop offset="0.7709" stop-color="#0000a7"/><stop offset="0.7964" stop-color="#0000d1"/><stop offset="0.8197" stop-color="#0000ff"/><stop offset="0.8364" stop-color="#0010ff"/><stop offset="0.8655" stop-color="#000bff"/><stop offset="0.8873" stop-color="#0011ff"/><stop offset="0.9164" stop-color="#0002ff"/><stop offset="0.9673" stop-color="#0000fc"/><stop offset="0.9745" stop-color="#0000f8"/><stop offset="0.9891" stop-color="#0000d9"/><stop offset="0.9964" stop-color="#0000c4"/><stop offset="1" stop-color="#0000c1"/></linearGradient>
<linearGradient id="g44" gradientUnits="userSpaceOnUse" x1="55.3" x2="606" y1="0" y2="0"><stop offset="0" stop-color="#000098"/><stop offset="0.02545" stop-color="#0000aa"/><stop offset="0.04727" stop-color="#0000f1"/><stop offset="0.04991" stop-color="#0000ff"/><stop offset="0.05091" stop-color="#0005ff"/><stop offset="0.07276" stop-color="#00ffff"/><stop offset="0.07636" stop-color="#32ffcd"/><stop offset="0.08751" stop-color="#ffff00"/><stop offset="0.09818" stop-color="#ff3b00"/><stop offset="0.1018" stop-color="#ff1600"/><stop offset="0.1127" stop-color="#ff0000"/><stop offset="0.1236" stop-color="#e90000"/><stop offset="0.1281" stop-color="#ff0000"/><stop offset="0.1491" stop-color="#ffab00"/><stop offset="0.1544" stop-color="#ffff00"/><stop offset="0.1689" stop-color="#00ffff"/><stop offset="0.1745" stop-color="#009cff"/><stop offset="0.1855" stop-color="#0036ff"/><stop offset="0.1915" stop-color="#0000ff"/><stop offset="0.2" stop-color="#0000b3"/><stop offset="0.2291" stop-color="#0000ca"/><stop offset="0.2509" stop-color="#0000e5"/><stop offset="0.2727" stop-color="#0000b0"/><stop offset="0.2764" stop-color="#0000ad"/><stop offset="0.3018" stop-color="#0000d7"/><stop offset="0.3273" stop-color="#0000e7"/><stop offset="0.3491" stop-color="#0000e7"/><stop offset="0.3745" stop-color="#0000c5"/><stop offset="0.4036" stop-color="#0000d6"/><stop offset="0.4291" stop-color="#0000d9"/><stop offset="0.4545" stop-color="#0000e8"/><stop offset="0.4982" stop-color="#0000e7"/><stop offset="0.5127" stop-color="#0003ff"/><stop offset="0.5236" stop-color="#001aff"/><stop offset="0.5345" stop-color="#0013ff"/><stop offset="0.5527" stop-color="#0000fd"/><stop offset="0.6" stop-color="#0000ab"/><stop offset="0.6291" stop-color="#00009a"/><stop offset="0.6545" stop-color="#00009d"/><stop offset="0.6764" stop-color="#0000aa"/><stop offset="0.7018" stop-color="#00009b"/><stop offset="0.7273" stop-color="#0000b3"/><stop offset="0.76" stop-color="#0000ae"/><stop offset="0.7745" stop-color="#0000a8"/><stop offset="0.8255" stop-color="#0000fa"/><stop offset="0.9745" stop-color="#0000fa"/><stop offset="1" stop-color="#0000b3"/></linearGradient>
<linearGradient id="g45" gradientUnits="userSpaceOnUse" x1="55.3" x2="606" y1="0" y2="0"><stop offset="0" stop-color="#0000a0"/><stop offset="0.02182" stop-color="#0000b4"/><stop offset="0.02909" stop-color="#0000bf"/><stop offset="0.04" stop-color="#0000e3"/><stop offset="0.04613" stop-color="#0000ff"/><stop offset="0.05091" stop-color="#0016ff"/><stop offset="0.05455" stop-color="#002eff"/><stop offset="0.06545" stop-color="#00a5ff"/><stop offset="0.07277" stop-color="#00ffff"/><stop offset="0.07636" stop-color="#2cffd3"/><stop offset="0.08" stop-color="#62ff9d"/><stop offset="0.08899" stop-color="#ffff00"/><stop offset="0.1018" stop-color="#ff3900"/><stop offset="0.1055" stop-color="#ff1e00"/><stop offset="0.1127" stop-color="#ff0a00"/><stop offset="0.1164" stop-color="#ff0700"/><stop offset="0.1273" stop-color="#ff1100"/><stop offset="0.1309" stop-color="#ff2a00"/><stop offset="0.1418" stop-color="#ff8c00"/><stop offset="0.1532" stop-color="#ffff00"/><stop offset="0.1673" stop-color="#17ffe8"/><stop offset="0.1688" stop-color="#00ffff"/><stop offset="0.1782" stop-color="#006fff"/><stop offset="0.1891" stop-color="#0011ff"/><stop offset="0.1915" stop-color="#0000ff"/><stop offset="0.2036" stop-color="#0000b3"/><stop offset="0.2255" stop-color="#0000c2"/><stop offset="0.2509" stop-color="#0000d6"/><stop offset="0.2545" stop-color="#0000d5"/><stop offset="0.2691" stop-color="#0000b9"/><stop offset="0.2764" stop-color="#0000af"/><stop offset="0.2836" stop-color="#0000b6"/><stop offset="0.3018" stop-color="#0000cd"/><stop offset="0.3418" stop-color="#0000dd"/><stop offset="0.3564" stop-color="#0000d9"/><stop offset="0.3782" stop-color="#0000bf"/><stop offset="0.4291" stop-color="#0000d9"/><stop offset="0.44" stop-color="#0000e6"/><stop offset="0.4727" stop-color="#0000de"/><stop offset="0.5055" stop-color="#0000e4"/><stop offset="0.5236" stop-color="#0001ff"/><stop offset="0.5273" stop-color="#0006ff"/><stop offset="0.5418" stop-color="#0000fb"/><stop offset="0.5636" stop-color="#0000e3"/><stop offset="0.5927" stop-color="#0000b9"/><stop offset="0.6073" stop-color="#0000b3"/><stop offset="0.6145" stop-color="#0000b4"/><stop offset="0.6364" stop-color="#00009e"/><stop offset="0.6582" stop-color="#00009c"/><stop offset="0.68" stop-color="#0000a5"/><stop offset="0.7055" stop-color="#00009a"/><stop offset="0.7309" stop-color="#0000b0"/><stop offset="0.76" stop-color="#0000aa"/><stop offset="0.7782" stop-color="#0000a7"/><stop offset="0.8291" stop-color="#0000f5"/><stop offset="0.8509" stop-color="#0000f4"/><stop offset="0.8945" stop-color="#0000ef"/><stop offset="0.9382" stop-color="#0000f5"/><stop offset="0.9709" stop-color="#0000f2"/><stop offset="0.9782" stop-color="#0000ef"/><stop offset="1" stop-color="#0000b9"/></linearGradient>
<linearGradient id="g46" gradientUnits="userSpaceOnUse" x1="55.3" x2="606" y1="0" y2="0"><stop offset="0" stop-color="#0000a6"/><stop offset="0.02182" stop-color="#0000c0"/><stop offset="0.03273" stop-color="#0000d6"/><stop offset="0.04433" stop-color="#0000ff"/><stop offset="0.05455" stop-color="#003dff"/><stop offset="0.05818" stop-color="#0058ff"/><stop offset="0.06909" stop-color="#00c7ff"/><stop offset="0.07332" stop-color="#00ffff"/><stop offset="0.08" stop-color="#59ffa6"/><stop offset="0.08364" stop-color="#8fff70"/><stop offset="0.09036" stop-color="#ffff00"/><stop offset="0.09455" stop-color="#ffc000"/><stop offset="0.1055" stop-color="#ff4200"/><stop offset="0.1091" stop-color="#ff2900"/><stop offset="0.1164" stop-color="#ff1000"/><stop offset="0.12" stop-color="#ff1000"/><stop offset="0.1309" stop-color="#ff4100"/><stop offset="0.1382" stop-color="#ff8000"/><stop offset="0.1455" stop-color="#ffca00"/><stop offset="0.1499" stop-color="#ffff00"/><stop offset="0.1564" stop-color="#b2ff4d"/><stop offset="0.1674" stop-color="#00ffff"/><stop offset="0.1782" stop-color="#0073ff"/><stop offset="0.1818" stop-color="#0046ff"/><stop offset="0.1901" stop-color="#0000ff"/><stop offset="0.1927" stop-color="#0000e9"/><stop offset="0.2073" stop-color="#0000b4"/><stop offset="0.2218" stop-color="#0000c1"/><stop offset="0.2545" stop-color="#0000c6"/><stop offset="0.2618" stop-color="#0000bc"/><stop offset="0.2691" stop-color="#0000b0"/><stop offset="0.2836" stop-color="#0000b1"/><stop offset="0.2945" stop-color="#0000c3"/><stop offset="0.32" stop-color="#0000c1"/><stop offset="0.3455" stop-color="#0000d0"/><stop offset="0.3636" stop-color="#0000cb"/><stop offset="0.3855" stop-color="#0000b8"/><stop offset="0.4" stop-color="#0000bd"/><stop offset="0.4218" stop-color="#0000cc"/><stop offset="0.4436" stop-color="#0000ef"/><stop offset="0.4691" stop-color="#0000d0"/><stop offset="0.5091" stop-color="#0000d9"/><stop offset="0.5309" stop-color="#0000ed"/><stop offset="0.5673" stop-color="#0000d4"/><stop offset="0.5927" stop-color="#0000b3"/><stop offset="0.6145" stop-color="#0000c3"/><stop offset="0.6182" stop-color="#0000c8"/><stop offset="0.6436" stop-color="#00009e"/><stop offset="0.6727" stop-color="#00009c"/><stop offset="0.6909" stop-color="#00009d"/><stop offset="0.7091" stop-color="#000098"/><stop offset="0.7418" stop-color="#0000ae"/><stop offset="0.7709" stop-color="#0000a2"/><stop offset="0.7855" stop-color="#0000ab"/><stop offset="0.8327" stop-color="#0000ee"/><stop offset="0.8436" stop-color="#0000f4"/><stop offset="0.8764" stop-color="#0000e3"/><stop offset="0.8982" stop-color="#0000e3"/><stop offset="0.9236" stop-color="#0000ef"/><stop offset="0.9709" stop-color="#0000ed"/><stop offset="0.9818" stop-color="#0000e1"/><stop offset="0.9964" stop-color="#0000c1"/><stop offset="1" stop-color="#0000bc"/></linearGradient>
<linearGradient id="g47" gradientUnits="userSpaceOnUse" x1="55.3" x2="606" y1="0" y2="0"><stop offset="0" stop-color="#0000a8"/><stop offset="0.02182" stop-color="#0000c5"/><stop offset="0.04226" stop-color="#0000ff"/><stop offset="0.04727" stop-color="#0013ff"/><stop offset="0.06182" stop-color="#0080ff"/><stop offset="0.06909" stop-color="#00c3ff"/><stop offset="0.07273" stop-color="#00ebff"/><stop offset="0.07413" stop-color="#00ffff"/><stop offset="0.08727" stop-color="#beff41"/><stop offset="0.09137" stop-color="#ffff00"/><stop offset="0.09455" stop-color="#ffcc00"/><stop offset="0.09818" stop-color="#ff9f00"/><stop offset="0.1091" stop-color="#ff4400"/><stop offset="0.1164" stop-color="#ff2100"/><stop offset="0.12" stop-color="#ff1200"/><stop offset="0.1236" stop-color="#ff1c00"/><stop offset="0.1345" stop-color="#ff6c00"/><stop offset="0.1455" stop-color="#ffd700"/><stop offset="0.1486" stop-color="#ffff00"/><stop offset="0.16" stop-color="#64ff9b"/><stop offset="0.1663" stop-color="#00ffff"/><stop offset="0.1709" stop-color="#00b5ff"/><stop offset="0.1855" stop-color="#001dff"/><stop offset="0.1891" stop-color="#0000fe"/><stop offset="0.1964" stop-color="#0000c4"/><stop offset="0.2109" stop-color="#0000b5"/><stop offset="0.2218" stop-color="#0000c4"/><stop offset="0.2545" stop-color="#0000ba"/><stop offset="0.2727" stop-color="#0000a4"/><stop offset="0.2873" stop-color="#0000b3"/><stop offset="0.2982" stop-color="#0000c4"/><stop offset="0.3236" stop-color="#0000b4"/><stop offset="0.3491" stop-color="#0000c5"/><stop offset="0.3709" stop-color="#0000c1"/><stop offset="0.3927" stop-color="#0000b0"/><stop offset="0.4" stop-color="#0000b1"/><stop offset="0.4218" stop-color="#0000c1"/><stop offset="0.4473" stop-color="#0000f6"/><stop offset="0.4727" stop-color="#0000c5"/><stop offset="0.5055" stop-color="#0000cf"/><stop offset="0.5382" stop-color="#0000d8"/><stop offset="0.5745" stop-color="#0000c3"/><stop offset="0.5964" stop-color="#0000ab"/><stop offset="0.6218" stop-color="#0000d8"/><stop offset="0.6473" stop-color="#0000a0"/><stop offset="0.6764" stop-color="#000099"/><stop offset="0.72" stop-color="#000099"/><stop offset="0.7455" stop-color="#0000ac"/><stop offset="0.7709" stop-color="#00009c"/><stop offset="0.7927" stop-color="#0000ae"/><stop offset="0.84" stop-color="#0000ec"/><stop offset="0.8473" stop-color="#0000f2"/><stop offset="0.8764" stop-color="#0000da"/><stop offset="0.8982" stop-color="#0000d5"/><stop offset="0.9236" stop-color="#0000eb"/><stop offset="0.9709" stop-color="#0000eb"/><stop offset="0.9891" stop-color="#0000cd"/><stop offset="0.9964" stop-color="#0000bd"/><stop offset="1" stop-color="#0000ba"/></linearGradient>
<linearGradient id="g48" gradientUnits="userSpaceOnUse" x1="55.3" x2="606" y1="0" y2="0"><stop offset="0" stop-color="#0000a9"/><stop offset="0.02545" stop-color="#0000d2"/><stop offset="0.04" stop-color="#0003ff"/><stop offset="0.05091" stop-color="#002aff"/><stop offset="0.07273" stop-color="#00e4ff"/><stop offset="0.07536" stop-color="#00ffff"/><stop offset="0.07636" stop-color="#0afff5"/><stop offset="0.09277" stop-color="#ffff00"/><stop offset="0.09818" stop-color="#ffaf00"/><stop offset="0.1018" stop-color="#ff8800"/><stop offset="0.1236" stop-color="#ff2000"/><stop offset="0.1273" stop-color="#ff2d00"/><stop offset="0.1472" stop-color="#ffff00"/><stop offset="0.1491" stop-color="#ebff14"/><stop offset="0.1564" stop-color="#82ff7d"/><stop offset="0.1648" stop-color="#00ffff"/><stop offset="0.1745" stop-color="#006aff"/><stop offset="0.1818" stop-color="#002cff"/><stop offset="0.1875" stop-color="#0000ff"/><stop offset="0.2" stop-color="#0000a1"/><stop offset="0.2255" stop-color="#0000c6"/><stop offset="0.2545" stop-color="#0000b2"/><stop offset="0.2764" stop-color="#000097"/><stop offset="0.2982" stop-color="#0000c2"/><stop offset="0.3018" stop-color="#0000c4"/><stop offset="0.3236" stop-color="#0000a6"/><stop offset="0.3382" stop-color="#0000ae"/><stop offset="0.3527" stop-color="#0000b8"/><stop offset="0.3782" stop-color="#0000b6"/><stop offset="0.4" stop-color="#0000a4"/><stop offset="0.4255" stop-color="#0000b9"/><stop offset="0.4509" stop-color="#0000fc"/><stop offset="0.4727" stop-color="#0000bf"/><stop offset="0.4764" stop-color="#0000b9"/><stop offset="0.5055" stop-color="#0000c6"/><stop offset="0.5527" stop-color="#0000be"/><stop offset="0.5818" stop-color="#0000b2"/><stop offset="0.6" stop-color="#0000a4"/><stop offset="0.6255" stop-color="#0000e9"/><stop offset="0.6509" stop-color="#0000a3"/><stop offset="0.68" stop-color="#000095"/><stop offset="0.7273" stop-color="#000097"/><stop offset="0.7491" stop-color="#0000a9"/><stop offset="0.7745" stop-color="#000096"/><stop offset="0.8218" stop-color="#0000cd"/><stop offset="0.8509" stop-color="#0000ee"/><stop offset="0.88" stop-color="#0000d0"/><stop offset="0.9018" stop-color="#0000ca"/><stop offset="0.9273" stop-color="#0000e5"/><stop offset="0.9745" stop-color="#0000e5"/><stop offset="1" stop-color="#0000b3"/></linearGradient>
<linearGradient id="g49" gradientUnits="userSpaceOnUse" x1="55.3" x2="606" y1="0" y2="0"><stop offset="0" stop-color="#0000ad"/><stop offset="0.01091" stop-color="#0000ba"/><stop offset="0.02909" stop-color="#0000dc"/><stop offset="0.04029" stop-color="#0000ff"/><stop offset="0.05091" stop-color="#0026ff"/><stop offset="0.05455" stop-color="#0037ff"/><stop offset="0.06909" stop-color="#00a8ff"/><stop offset="0.07636" stop-color="#00e5ff"/><stop offset="0.07882" stop-color="#00ffff"/><stop offset="0.09455" stop-color="#c9ff36"/><stop offset="0.09891" stop-color="#ffff00"/><stop offset="0.1018" stop-color="#ffdb00"/><stop offset="0.1055" stop-color="#ffbe00"/><stop offset="0.1164" stop-color="#ff8e00"/><stop offset="0.1273" stop-color="#ff7500"/><stop offset="0.1309" stop-color="#ff8900"/><stop offset="0.1433" stop-color="#ffff00"/><stop offset="0.1527" stop-color="#9fff60"/><stop offset="0.1644" stop-color="#00ffff"/><stop offset="0.1782" stop-color="#0048ff"/><stop offset="0.1874" stop-color="#0000ff"/><stop offset="0.2" stop-color="#0000b6"/><stop offset="0.2036" stop-color="#0000a3"/><stop offset="0.2218" stop-color="#0000bb"/><stop offset="0.2291" stop-color="#0000c1"/><stop offset="0.2618" stop-color="#0000a7"/><stop offset="0.2764" stop-color="#000098"/><stop offset="0.2836" stop-color="#00009f"/><stop offset="0.3018" stop-color="#0000bf"/><stop offset="0.3127" stop-color="#0000bb"/><stop offset="0.3273" stop-color="#0000a8"/><stop offset="0.3491" stop-color="#0000b0"/><stop offset="0.3818" stop-color="#0000b0"/><stop offset="0.4036" stop-color="#0000a5"/><stop offset="0.4291" stop-color="#0000b9"/><stop offset="0.4509" stop-color="#0000e5"/><stop offset="0.4545" stop-color="#0000e8"/><stop offset="0.4764" stop-color="#0000b9"/><stop offset="0.4836" stop-color="#0000b9"/><stop offset="0.5091" stop-color="#0000be"/><stop offset="0.5782" stop-color="#0000b1"/><stop offset="0.5964" stop-color="#0000a7"/><stop offset="0.6036" stop-color="#0000a6"/><stop offset="0.6218" stop-color="#0000d1"/><stop offset="0.6291" stop-color="#0000dd"/><stop offset="0.6545" stop-color="#0000a2"/><stop offset="0.6836" stop-color="#000095"/><stop offset="0.7164" stop-color="#0000a1"/><stop offset="0.7345" stop-color="#00009b"/><stop offset="0.7564" stop-color="#0000a1"/><stop offset="0.7782" stop-color="#000097"/><stop offset="0.8436" stop-color="#0000e0"/><stop offset="0.8545" stop-color="#0000e5"/><stop offset="0.8691" stop-color="#0000d9"/><stop offset="0.8945" stop-color="#0000d6"/><stop offset="0.9055" stop-color="#0000d2"/><stop offset="0.9309" stop-color="#0000e4"/><stop offset="0.9782" stop-color="#0000db"/><stop offset="1" stop-color="#0000b7"/></linearGradient>
<linearGradient id="g50" gradientUnits="userSpaceOnUse" x1="55.3" x2="606" y1="0" y2="0"><stop offset="0" stop-color="#0000ae"/><stop offset="0.01455" stop-color="#0000c0"/><stop offset="0.03273" stop-color="#0000e6"/><stop offset="0.04127" stop-color="#0000ff"/><stop offset="0.05455" stop-color="#0031ff"/><stop offset="0.06182" stop-color="#005aff"/><stop offset="0.06909" stop-color="#008bff"/><stop offset="0.08" stop-color="#00e7ff"/><stop offset="0.08238" stop-color="#00ffff"/><stop offset="0.09455" stop-color="#8aff75"/><stop offset="0.1055" stop-color="#f4ff0b"/><stop offset="0.1073" stop-color="#ffff00"/><stop offset="0.1164" stop-color="#ffd300"/><stop offset="0.12" stop-color="#ffcc00"/><stop offset="0.1309" stop-color="#ffcd00"/><stop offset="0.1382" stop-color="#fdff02"/><stop offset="0.1455" stop-color="#beff41"/><stop offset="0.1564" stop-color="#53ffac"/><stop offset="0.1632" stop-color="#00ffff"/><stop offset="0.1782" stop-color="#0050ff"/><stop offset="0.1818" stop-color="#0028ff"/><stop offset="0.1872" stop-color="#0000ff"/><stop offset="0.1927" stop-color="#0000d6"/><stop offset="0.2073" stop-color="#0000a9"/><stop offset="0.2182" stop-color="#0000b9"/><stop offset="0.2327" stop-color="#0000bb"/><stop offset="0.28" stop-color="#000099"/><stop offset="0.2982" stop-color="#0000af"/><stop offset="0.3091" stop-color="#0000bd"/><stop offset="0.32" stop-color="#0000b9"/><stop offset="0.3345" stop-color="#0000a9"/><stop offset="0.3818" stop-color="#0000ad"/><stop offset="0.4073" stop-color="#0000a8"/><stop offset="0.4364" stop-color="#0000be"/><stop offset="0.4545" stop-color="#0000d4"/><stop offset="0.4582" stop-color="#0000d3"/><stop offset="0.4727" stop-color="#0000bc"/><stop offset="0.4836" stop-color="#0000b4"/><stop offset="0.5018" stop-color="#0000b9"/><stop offset="0.5818" stop-color="#0000a9"/><stop offset="0.5964" stop-color="#0000a3"/><stop offset="0.6073" stop-color="#0000a9"/><stop offset="0.6182" stop-color="#0000c3"/><stop offset="0.6327" stop-color="#0000d1"/><stop offset="0.6582" stop-color="#0000a1"/><stop offset="0.6764" stop-color="#000096"/><stop offset="0.6945" stop-color="#000096"/><stop offset="0.7164" stop-color="#0000ac"/><stop offset="0.7455" stop-color="#00009a"/><stop offset="0.76" stop-color="#00009b"/><stop offset="0.7745" stop-color="#000098"/><stop offset="0.7855" stop-color="#00009e"/><stop offset="0.8291" stop-color="#0000cf"/><stop offset="0.8509" stop-color="#0000dd"/><stop offset="0.8618" stop-color="#0000d9"/><stop offset="0.8691" stop-color="#0000d4"/><stop offset="0.8945" stop-color="#0000e3"/><stop offset="0.9091" stop-color="#0000da"/><stop offset="0.9418" stop-color="#0000e3"/><stop offset="0.9818" stop-color="#0000d2"/><stop offset="1" stop-color="#0000b8"/></linearGradient>
<linearGradient id="g51" gradientUnits="userSpaceOnUse" x1="55.3" x2="606" y1="0" y2="0"><stop offset="0" stop-color="#0000ac"/><stop offset="0.02182" stop-color="#0000cc"/><stop offset="0.04218" stop-color="#0000ff"/><stop offset="0.05091" stop-color="#001eff"/><stop offset="0.06182" stop-color="#004cff"/><stop offset="0.07273" stop-color="#0088ff"/><stop offset="0.0868" stop-color="#00ffff"/><stop offset="0.09818" stop-color="#6bff94"/><stop offset="0.1091" stop-color="#b3ff4c"/><stop offset="0.12" stop-color="#e5ff1a"/><stop offset="0.1236" stop-color="#e8ff17"/><stop offset="0.1345" stop-color="#c8ff37"/><stop offset="0.1455" stop-color="#84ff7b"/><stop offset="0.16" stop-color="#00feff"/><stop offset="0.1709" stop-color="#008cff"/><stop offset="0.1867" stop-color="#0000ff"/><stop offset="0.1964" stop-color="#0000ba"/><stop offset="0.2109" stop-color="#0000ae"/><stop offset="0.2218" stop-color="#0000be"/><stop offset="0.2691" stop-color="#00009a"/><stop offset="0.2873" stop-color="#00009b"/><stop offset="0.3164" stop-color="#0000bc"/><stop offset="0.3236" stop-color="#0000bd"/><stop offset="0.3455" stop-color="#0000a5"/><stop offset="0.4036" stop-color="#0000a7"/><stop offset="0.4291" stop-color="#0000b4"/><stop offset="0.4582" stop-color="#0000be"/><stop offset="0.4764" stop-color="#0000af"/><stop offset="0.5018" stop-color="#0000b5"/><stop offset="0.5273" stop-color="#0000aa"/><stop offset="0.5782" stop-color="#0000a4"/><stop offset="0.5964" stop-color="#00009a"/><stop offset="0.6145" stop-color="#0000b3"/><stop offset="0.6218" stop-color="#0000c2"/><stop offset="0.6364" stop-color="#0000c5"/><stop offset="0.6545" stop-color="#0000ad"/><stop offset="0.6727" stop-color="#000095"/><stop offset="0.6982" stop-color="#000096"/><stop offset="0.72" stop-color="#0000b9"/><stop offset="0.7273" stop-color="#0000b3"/><stop offset="0.7491" stop-color="#000096"/><stop offset="0.7745" stop-color="#000093"/><stop offset="0.8073" stop-color="#0000b8"/><stop offset="0.8255" stop-color="#0000cc"/><stop offset="0.8509" stop-color="#0000d7"/><stop offset="0.8727" stop-color="#0000cc"/><stop offset="0.8982" stop-color="#0000f1"/><stop offset="0.9236" stop-color="#0000de"/><stop offset="0.9491" stop-color="#0000e0"/><stop offset="0.9855" stop-color="#0000c7"/><stop offset="1" stop-color="#0000b6"/></linearGradient>
<linearGradient id="g52" gradientUnits="userSpaceOnUse" x1="55.3" x2="606" y1="0" y2="0"><stop offset="0" stop-color="#0000a8"/><stop offset="0.02545" stop-color="#0000d2"/><stop offset="0.04364" stop-color="#0003ff"/><stop offset="0.05091" stop-color="#0017ff"/><stop offset="0.07273" stop-color="#0076ff"/><stop offset="0.07636" stop-color="#008bff"/><stop offset="0.09091" stop-color="#03fffc"/><stop offset="0.09818" stop-color="#3effc1"/><stop offset="0.1018" stop-color="#54ffab"/><stop offset="0.1236" stop-color="#aeff51"/><stop offset="0.1273" stop-color="#a7ff58"/><stop offset="0.1491" stop-color="#33ffcc"/><stop offset="0.1552" stop-color="#00ffff"/><stop offset="0.1745" stop-color="#0051ff"/><stop offset="0.186" stop-color="#0000ff"/><stop offset="0.2" stop-color="#00009e"/><stop offset="0.2255" stop-color="#0000c1"/><stop offset="0.2545" stop-color="#00009e"/><stop offset="0.2764" stop-color="#000094"/><stop offset="0.3018" stop-color="#0000a3"/><stop offset="0.3236" stop-color="#0000c0"/><stop offset="0.3455" stop-color="#0000a7"/><stop offset="0.3564" stop-color="#0000a1"/><stop offset="0.4036" stop-color="#0000a4"/><stop offset="0.4291" stop-color="#0000b5"/><stop offset="0.4545" stop-color="#0000b1"/><stop offset="0.4764" stop-color="#0000a2"/><stop offset="0.5018" stop-color="#0000b3"/><stop offset="0.5273" stop-color="#0000a1"/><stop offset="0.5782" stop-color="#00009f"/><stop offset="0.6" stop-color="#000094"/><stop offset="0.6255" stop-color="#0000c2"/><stop offset="0.6545" stop-color="#0000af"/><stop offset="0.6764" stop-color="#000093"/><stop offset="0.6982" stop-color="#000093"/><stop offset="0.7127" stop-color="#0000ae"/><stop offset="0.7236" stop-color="#0000c5"/><stop offset="0.7309" stop-color="#0000bc"/><stop offset="0.7491" stop-color="#000095"/><stop offset="0.7745" stop-color="#00008c"/><stop offset="0.8255" stop-color="#0000cd"/><stop offset="0.8509" stop-color="#0000d6"/><stop offset="0.8727" stop-color="#0000c5"/><stop offset="0.8764" stop-color="#0000c7"/><stop offset="0.8982" stop-color="#0000f9"/><stop offset="0.9018" stop-color="#0000fb"/><stop offset="0.9273" stop-color="#0000e0"/><stop offset="0.9527" stop-color="#0000de"/><stop offset="0.9855" stop-color="#0000c1"/><stop offset="1" stop-color="#0000b0"/></linearGradient>
<linearGradient id="g53" gradientUnits="userSpaceOnUse" x1="55.3" x2="606" y1="0" y2="0"><stop offset="0" stop-color="#0000ab"/><stop offset="0.01455" stop-color="#0000bc"/><stop offset="0.03273" stop-color="#0000dc"/><stop offset="0.04812" stop-color="#0000ff"/><stop offset="0.05818" stop-color="#001dff"/><stop offset="0.06545" stop-color="#0038ff"/><stop offset="0.07636" stop-color="#006fff"/><stop offset="0.08364" stop-color="#00a4ff"/><stop offset="0.0958" stop-color="#00ffff"/><stop offset="0.1018" stop-color="#2affd5"/><stop offset="0.1127" stop-color="#59ffa6"/><stop offset="0.1273" stop-color="#84ff7b"/><stop offset="0.1309" stop-color="#7bff84"/><stop offset="0.1418" stop-color="#47ffb8"/><stop offset="0.1535" stop-color="#00ffff"/><stop offset="0.1709" stop-color="#006cff"/><stop offset="0.1782" stop-color="#0031ff"/><stop offset="0.1858" stop-color="#0000ff"/><stop offset="0.1964" stop-color="#0000c4"/><stop offset="0.2036" stop-color="#0000a2"/><stop offset="0.2291" stop-color="#0000c0"/><stop offset="0.2618" stop-color="#00009e"/><stop offset="0.28" stop-color="#000097"/><stop offset="0.3055" stop-color="#0000a8"/><stop offset="0.3273" stop-color="#0000bd"/><stop offset="0.3527" stop-color="#0000a3"/><stop offset="0.4109" stop-color="#0000a6"/><stop offset="0.4364" stop-color="#0000b7"/><stop offset="0.4582" stop-color="#0000b2"/><stop offset="0.48" stop-color="#0000a2"/><stop offset="0.5055" stop-color="#0000ac"/><stop offset="0.5345" stop-color="#00009e"/><stop offset="0.5855" stop-color="#00009b"/><stop offset="0.6036" stop-color="#000094"/><stop offset="0.6291" stop-color="#0000b9"/><stop offset="0.6582" stop-color="#0000a9"/><stop offset="0.68" stop-color="#000093"/><stop offset="0.7018" stop-color="#000099"/><stop offset="0.72" stop-color="#0000b7"/><stop offset="0.7273" stop-color="#0000bf"/><stop offset="0.7527" stop-color="#000092"/><stop offset="0.7782" stop-color="#000090"/><stop offset="0.8145" stop-color="#0000c9"/><stop offset="0.8364" stop-color="#0000cf"/><stop offset="0.8582" stop-color="#0000cf"/><stop offset="0.8764" stop-color="#0000c7"/><stop offset="0.8873" stop-color="#0000d8"/><stop offset="0.9018" stop-color="#0000f1"/><stop offset="0.9309" stop-color="#0000dc"/><stop offset="0.9564" stop-color="#0000da"/><stop offset="1" stop-color="#0000b3"/></linearGradient>
<linearGradient id="g54" gradientUnits="userSpaceOnUse" x1="55.3" x2="606" y1="0" y2="0"><stop offset="0" stop-color="#0000ac"/><stop offset="0.01455" stop-color="#0000b9"/><stop offset="0.04" stop-color="#0000e2"/><stop offset="0.05598" stop-color="#0000ff"/><stop offset="0.06909" stop-color="#0024ff"/><stop offset="0.08364" stop-color="#007cff"/><stop offset="0.09455" stop-color="#00ceff"/><stop offset="0.1032" stop-color="#00ffff"/><stop offset="0.1127" stop-color="#2bffd4"/><stop offset="0.12" stop-color="#41ffbe"/><stop offset="0.1309" stop-color="#50ffaf"/><stop offset="0.1382" stop-color="#3effc1"/><stop offset="0.1418" stop-color="#32ffcd"/><stop offset="0.15" stop-color="#00ffff"/><stop offset="0.1564" stop-color="#00d4ff"/><stop offset="0.1673" stop-color="#0078ff"/><stop offset="0.1848" stop-color="#0000ff"/><stop offset="0.1927" stop-color="#0000d0"/><stop offset="0.2073" stop-color="#0000a5"/><stop offset="0.2327" stop-color="#0000be"/><stop offset="0.2473" stop-color="#0000b5"/><stop offset="0.2691" stop-color="#00009d"/><stop offset="0.2909" stop-color="#00009c"/><stop offset="0.32" stop-color="#0000b9"/><stop offset="0.3345" stop-color="#0000b5"/><stop offset="0.3455" stop-color="#0000a9"/><stop offset="0.3636" stop-color="#0000a9"/><stop offset="0.4" stop-color="#0000a8"/><stop offset="0.4182" stop-color="#0000a5"/><stop offset="0.4436" stop-color="#0000bb"/><stop offset="0.4691" stop-color="#0000af"/><stop offset="0.4873" stop-color="#0000a0"/><stop offset="0.5127" stop-color="#0000a1"/><stop offset="0.5455" stop-color="#00009a"/><stop offset="0.5964" stop-color="#000096"/><stop offset="0.6073" stop-color="#000094"/><stop offset="0.6327" stop-color="#0000ae"/><stop offset="0.6545" stop-color="#0000a8"/><stop offset="0.6836" stop-color="#000093"/><stop offset="0.6982" stop-color="#000098"/><stop offset="0.7091" stop-color="#0000a5"/><stop offset="0.72" stop-color="#0000b7"/><stop offset="0.7309" stop-color="#0000b6"/><stop offset="0.7491" stop-color="#000098"/><stop offset="0.7636" stop-color="#00008e"/><stop offset="0.7818" stop-color="#000095"/><stop offset="0.8" stop-color="#0000b3"/><stop offset="0.8182" stop-color="#0000d8"/><stop offset="0.8473" stop-color="#0000cb"/><stop offset="0.8836" stop-color="#0000cb"/><stop offset="0.9055" stop-color="#0000e6"/><stop offset="0.9382" stop-color="#0000d7"/><stop offset="0.9673" stop-color="#0000d3"/><stop offset="1" stop-color="#0000b4"/></linearGradient>
<linearGradient id="g55" gradientUnits="userSpaceOnUse" x1="55.3" x2="606" y1="0" y2="0"><stop offset="0" stop-color="#0000ab"/><stop offset="0.02545" stop-color="#0000c5"/><stop offset="0.06545" stop-color="#0003ff"/><stop offset="0.06909" stop-color="#000aff"/><stop offset="0.07273" stop-color="#0016ff"/><stop offset="0.08727" stop-color="#0078ff"/><stop offset="0.09455" stop-color="#00afff"/><stop offset="0.1018" stop-color="#00d6ff"/><stop offset="0.1113" stop-color="#00ffff"/><stop offset="0.12" stop-color="#1fffe0"/><stop offset="0.1273" stop-color="#25ffda"/><stop offset="0.1345" stop-color="#26ffd9"/><stop offset="0.1455" stop-color="#0efff1"/><stop offset="0.1478" stop-color="#00ffff"/><stop offset="0.1636" stop-color="#0088ff"/><stop offset="0.1709" stop-color="#004bff"/><stop offset="0.1833" stop-color="#0000ff"/><stop offset="0.1964" stop-color="#0000b7"/><stop offset="0.2109" stop-color="#0000a8"/><stop offset="0.2364" stop-color="#0000bd"/><stop offset="0.2473" stop-color="#0000bd"/><stop offset="0.2727" stop-color="#00009f"/><stop offset="0.2982" stop-color="#0000a1"/><stop offset="0.32" stop-color="#0000bb"/><stop offset="0.3382" stop-color="#0000b0"/><stop offset="0.3491" stop-color="#0000a6"/><stop offset="0.3818" stop-color="#0000af"/><stop offset="0.4036" stop-color="#0000ab"/><stop offset="0.4218" stop-color="#0000a3"/><stop offset="0.4473" stop-color="#0000be"/><stop offset="0.4764" stop-color="#0000ac"/><stop offset="0.4982" stop-color="#00009a"/><stop offset="0.5309" stop-color="#000098"/><stop offset="0.6145" stop-color="#000096"/><stop offset="0.6436" stop-color="#0000a7"/><stop offset="0.6873" stop-color="#000093"/><stop offset="0.6982" stop-color="#000096"/><stop offset="0.72" stop-color="#0000b9"/><stop offset="0.7309" stop-color="#0000b2"/><stop offset="0.7491" stop-color="#000094"/><stop offset="0.7709" stop-color="#00008d"/><stop offset="0.7964" stop-color="#0000a9"/><stop offset="0.8218" stop-color="#0000e5"/><stop offset="0.8473" stop-color="#0000c7"/><stop offset="0.8836" stop-color="#0000cb"/><stop offset="0.9018" stop-color="#0000da"/><stop offset="0.9164" stop-color="#0000d9"/><stop offset="0.9491" stop-color="#0000d2"/><stop offset="0.9745" stop-color="#0000cc"/><stop offset="1" stop-color="#0000b3"/></linearGradient>
<linearGradient id="g56" gradientUnits="userSpaceOnUse" x1="55.3" x2="606" y1="0" y2="0"><stop offset="0" stop-color="#0000a8"/><stop offset="0.04" stop-color="#0000d4"/><stop offset="0.07273" stop-color="#0000f8"/><stop offset="0.07636" stop-color="#0005ff"/><stop offset="0.09818" stop-color="#00a5ff"/><stop offset="0.1018" stop-color="#00b8ff"/><stop offset="0.1236" stop-color="#01fffe"/><stop offset="0.1309" stop-color="#00fdff"/><stop offset="0.1491" stop-color="#00e7ff"/><stop offset="0.1527" stop-color="#00cfff"/><stop offset="0.1745" stop-color="#001dff"/><stop offset="0.1802" stop-color="#0000ff"/><stop offset="0.2" stop-color="#00009e"/><stop offset="0.2364" stop-color="#0000bb"/><stop offset="0.2509" stop-color="#0000c1"/><stop offset="0.2764" stop-color="#0000a1"/><stop offset="0.3018" stop-color="#0000a3"/><stop offset="0.3236" stop-color="#0000c0"/><stop offset="0.3418" stop-color="#0000ab"/><stop offset="0.3491" stop-color="#0000a2"/><stop offset="0.3782" stop-color="#0000b5"/><stop offset="0.4036" stop-color="#0000b2"/><stop offset="0.4255" stop-color="#0000a1"/><stop offset="0.4509" stop-color="#0000c1"/><stop offset="0.48" stop-color="#0000ae"/><stop offset="0.5018" stop-color="#000093"/><stop offset="0.6291" stop-color="#000096"/><stop offset="0.6509" stop-color="#0000a0"/><stop offset="0.68" stop-color="#000093"/><stop offset="0.7018" stop-color="#000097"/><stop offset="0.7236" stop-color="#0000bf"/><stop offset="0.7309" stop-color="#0000b5"/><stop offset="0.7491" stop-color="#00008d"/><stop offset="0.7745" stop-color="#00008b"/><stop offset="0.8" stop-color="#0000ae"/><stop offset="0.8255" stop-color="#0000f3"/><stop offset="0.8509" stop-color="#0000c3"/><stop offset="0.88" stop-color="#0000c7"/><stop offset="0.9018" stop-color="#0000d6"/><stop offset="0.9345" stop-color="#0000cd"/><stop offset="0.9745" stop-color="#0000cd"/><stop offset="1" stop-color="#0000b0"/></linearGradient>
<linearGradient id="vg" x1="0" y1="0" x2="0" y2="1"><stop offset="0" stop-color="#000"/><stop offset="1" stop-color="#fff"/></linearGradient>
<mask id="vm" maskContentUnits="objectBoundingBox"><rect x="0" y="0" width="1" height="1" fill="url(#vg)"/></mask>
</defs>
<g id="heat">
<rect x="55" y="196" width="551" height="5" fill="url(#g0)"/>
<rect x="55" y="196" width="551" height="5" fill="url(#g1)" mask="url(#vm)"/>
<rect x="55" y="201" width="551" height="6" fill="url(#g1)"/>
<rect x="55" y="201" width="551" height="6" fill="url(#g2)" mask="url(#vm)"/>
<rect x="55" y="207" width="551" height="5" fill="url(#g2)"/>
<rect x="55" y="207" width="551" height="5" fill="url(#g3)" mask="url(#vm)"/>
<rect x="55" y="212" width="551" height="6" fill="url(#g3)"/>
<rect x="55" y="212" width="551" height="6" fill="url(#g4)" mask="url(#vm)"/>
<rect x="55" y="218" width="551" height="5" fill="url(#g4)"/>
<rect x="55" y="218" width="551" height="5" fill="url(#g5)" mask="url(#vm)"/>
<rect x="55" y="223" width="551" height="5" fill="url(#g5)"/>
<rect x="55" y="223" width="551" height="5" fill="url(#g6)" mask="url(#vm)"/>
<rect x="55" y="228" width="551" height="6" fill="url(#g6)"/>
<rect x="55" y="228" width="551" height="6" fill="url(#g7)" mask="url(#vm)"/>
<rect x="55" y="234" width="551" height="5" fill="url(#g7)"/>
<rect x="55" y="234" width="551" height="5" fill="url(#g8)" mask="url(#vm)"/>
<rect x="55" y="239" width="551" height="5" fill="url(#g8)"/>
<rect x="55" y="239" width="551" height="5" fill="url(#g9)" mask="url(#vm)"/>
<rect x="55" y="244" width="551" height="6" fill="url(#g9)"/>
<rect x="55" y="244" width="551" height="6" fill="url(#g10)" mask="url(#vm)"/>
<rect x="55" y="250" width="551" height="5" fill="url(#g10)"/>
<rect x="55" y="250" width="551" height="5" fill="url(#g11)" mask="url(#vm)"/>
<rect x="55" y="255" width="551" height="6" fill="url(#g11)"/>
<rect x="55" y="255" width="551" height="6" fill="url(#g12)" mask="url(#vm)"/>
<rect x="55" y="261" width="551" height="5" fill="url(#g12)"/>
<rect x="55" y="261" width="551" height="5" fill="url(#g13)" mask="url(#vm)"/>
<rect x="55" y="266" width="551" height="5" fill="url(#g13)"/>
<rect x="55" y="266" width="551" height="5" fill="url(#g14)" mask="url(#vm)"/>
<rect x="55" y="271" width="551" height="6" fill="url(#g14)"/>
<rect x="55" y="271" width="551" height="6" fill="url(#g15)" mask="url(#vm)"/>
<rect x="55" y="277" width="551" height="5" fill="url(#g15)"/>
<rect x="55" y="277" width="551" height="5" fill="url(#g16)" mask="url(#vm)"/>
<rect x="55" y="282" width="551" height="6" fill="url(#g16)"/>
<rect x="55" y="282" width="551" height="6" fill="url(#g17)" mask="url(#vm)"/>
<rect x="55" y="288" width="551" height="5" fill="url(#g17)"/>
<rect x="55" y="288" width="551" height="5" fill="url(#g18)" mask="url(#vm)"/>
<rect x="55" y="293" width="551" height="5" fill="url(#g18)"/>
<rect x="55" y="293" width="551" height="5" fill="url(#g19)" mask="url(#vm)"/>
<rect x="55" y="298" width="551" height="6" fill="url(#g19)"/>
<rect x="55" y="298" width="551" height="6" fill="url(#g20)" mask="url(#vm)"/>
<rect x="55" y="304" width="551" height="5" fill="url(#g20)"/>
<rect x="55" y="304" width="551" height="5" fill="url(#g21)" mask="url(#vm)"/>
<rect x="55" y="309" width="551" height="5" fill="url(#g21)"/>
<rect x="55" y="309" width="551" height="5" fill="url(#g22)" mask="url(#vm)"/>
<rect x="55" y="314" width="551" height="6" fill="url(#g22)"/>
<rect x="55" y="314" width="551" height="6" fill="url(#g23)" mask="url(#vm)"/>
<rect x="55" y="320" width="551" height="5" fill="url(#g23)"/>
<rect x="55" y="320" width="551" height="5" fill="url(#g24)" mask="url(#vm)"/>
<rect x="55" y="325" width="551" height="6" fill="url(#g24)"/>
<rect x="55" y="325" width="551" height="6" fill="url(#g25)" mask="url(#vm)"/>
<rect x="55" y="331" width="551" height="5" fill="url(#g25)"/>
<rect x="55" y="331" width="551" height="5" fill="url(#g26)" mask="url(#vm)"/>
<rect x="55" y="336" width="551" height="5" fill="url(#g26)"/>
<rect x="55" y="336" width="551" height="5" fill="url(#g27)" mask="url(#vm)"/>
<rect x="55" y="341" width="551" height="6" fill="url(#g27)"/>
<rect x="55" y="341" width="551" height="6" fill="url(#g28)" mask="url(#vm)"/>
<rect x="55" y="347" width="551" height="5" fill="url(#g28)"/>
<rect x="55" y="347" width="551" height="5" fill="url(#g29)" mask="url(#vm)"/>
<rect x="55" y="352" width="551" height="6" fill="url(#g29)"/>
<rect x="55" y="352" width="551" height="6" fill="url(#g30)" mask="url(#vm)"/>
<rect x="55" y="358" width="551" height="5" fill="url(#g30)"/>
<rect x="55" y="358" width="551" height="5" fill="url(#g31)" mask="url(#vm)"/>
<rect x="55" y="363" width="551" height="5" fill="url(#g31)"/>
<rect x="55" y="363" width="551" height="5" fill="url(#g32)" mask="url(#vm)"/>
<rect x="55" y="368" width="551" height="6" fill="url(#g32)"/>
<rect x="55" y="368" width="551" height="6" fill="url(#g33)" mask="url(#vm)"/>
<rect x="55" y="374" width="551" height="5" fill="url(#g33)"/>
<rect x="55" y="374" width="551" height="5" fill="url(#g34)" mask="url(#vm)"/>
<rect x="55" y="379" width="551" height="5" fill="url(#g34)"/>
<rect x="55" y="379" width="551" height="5" fill="url(#g35)" mask="url(#vm)"/>
<rect x="55" y="384" width="551" height="6" fill="url(#g35)"/>
<rect x="55" y="384" width="551" height="6" fill="url(#g36)" mask="url(#vm)"/>
<rect x="55" y="390" width="551" height="5" fill="url(#g36)"/>
<rect x="55" y="390" width="551" height="5" fill="url(#g37)" mask="url(#vm)"/>
<rect x="55" y="395" width="551" height="6" fill="url(#g37)"/>
<rect x="55" y="395" width="551" height="6" fill="url(#g38)" mask="url(#vm)"/>
<rect x="55" y="401" width="551" height="5" fill="url(#g38)"/>
<rect x="55" y="401" width="551" height="5" fill="url(#g39)" mask="url(#vm)"/>
<rect x="55" y="406" width="551" height="5" fill="url(#g39)"/>
<rect x="55" y="406" width="551" height="5" fill="url(#g40)" mask="url(#vm)"/>
<rect x="55" y="411" width="551" height="6" fill="url(#g40)"/>
<rect x="55" y="411" width="551" height="6" fill="url(#g41)" mask="url(#vm)"/>
<rect x="55" y="417" width="551" height="5" fill="url(#g41)"/>
<rect x="55" y="417" width="551" height="5" fill="url(#g42)" mask="url(#vm)"/>
<rect x="55" y="422" width="551" height="6" fill="url(#g42)"/>
<rect x="55" y="422" width="551" height="6" fill="url(#g43)" mask="url(#vm)"/>
<rect x="55" y="428" width="551" height="5" fill="url(#g43)"/>
<rect x="55" y="428" width="551" height="5" fill="url(#g44)" mask="url(#vm)"/>
<rect x="55" y="433" width="551" height="5" fill="url(#g44)"/>
<rect x="55" y="433" width="551" height="5" fill="url(#g45)" mask="url(#vm)"/>
<rect x="55" y="438" width="551" height="6" fill="url(#g45)"/>
<rect x="55" y="438" width="551" height="6" fill="url(#g46)" mask="url(#vm)"/>
<rect x="55" y="444" width="551" height="5" fill="url(#g46)"/>
<rect x="55" y="444" width="551" height="5" fill="url(#g47)" mask="url(#vm)"/>
<rect x="55" y="449" width="551" height="6" fill="url(#g47)"/>
<rect x="55" y="449" width="551" height="6" fill="url(#g48)" mask="url(#vm)"/>
<rect x="55" y="455" width="551" height="5" fill="url(#g48)"/>
<rect x="55" y="455" width="551" height="5" fill="url(#g49)" mask="url(#vm)"/>
<rect x="55" y="460" width="551" height="5" fill="url(#g49)"/>
<rect x="55" y="460" width="551" height="5" fill="url(#g50)" mask="url(#vm)"/>
<rect x="55" y="465" width="551" height="6" fill="url(#g50)"/>
<rect x="55" y="465" width="551" height="6" fill="url(#g51)" mask="url(#vm)"/>
<rect x="55" y="471" width="551" height="5" fill="url(#g51)"/>
<rect x="55" y="471" width="551" height="5" fill="url(#g52)" mask="url(#vm)"/>
<rect x="55" y="476" width="551" height="5" fill="url(#g52)"/>
<rect x="55" y="476" width="551" height="5" fill="url(#g53)" mask="url(#vm)"/>
<rect x="55" y="481" width="551" height="6" fill="url(#g53)"/>
<rect x="55" y="481" width="551" height="6" fill="url(#g54)" mask="url(#vm)"/>
<rect x="55" y="487" width="551" height="5" fill="url(#g54)"/>
<rect x="55" y="487" width="551" height="5" fill="url(#g55)" mask="url(#vm)"/>
<rect x="55" y="492" width="551" height="6" fill="url(#g55)"/>
<rect x="55" y="492" width="551" height="6" fill="url(#g56)" mask="url(#vm)"/>
<rect x="54" y="195" width="1.3" height="304.6" fill="#fff"/>
<rect x="54" y="497.6" width="554" height="2" fill="#fff"/>
</g>
<line x1="55.3" x2="606" y1="301.1" y2="301.1" stroke="#fff" stroke-width="2.4"/>
<line x1="55.3" x2="606" y1="432.6" y2="432.6" stroke="#fff" stroke-width="2.4" stroke-dasharray="2.2 2.18"/>
<g id="cbar">
<rect x="620.2" y="492.89" width="15.2" height="4.71" fill="#000080"/>
<rect x="620.2" y="488.18" width="15.2" height="5.51" fill="#000090"/>
<rect x="620.2" y="483.46" width="15.2" height="5.51" fill="#0000a0"/>
<rect x="620.2" y="478.75" width="15.2" height="5.51" fill="#0000b0"/>
<rect x="620.2" y="474.04" width="15.2" height="5.51" fill="#0000c0"/>
<rect x="620.2" y="469.33" width="15.2" height="5.51" fill="#0000d0"/>
<rect x="620.2" y="464.61" width="15.2" height="5.51" fill="#0000e1"/>
<rect x="620.2" y="459.90" width="15.2" height="5.51" fill="#0000f1"/>
<rect x="620.2" y="455.19" width="15.2" height="5.51" fill="#0002ff"/>
<rect x="620.2" y="450.48" width="15.2" height="5.51" fill="#0012ff"/>
<rect x="620.2" y="445.76" width="15.2" height="5.51" fill="#0022ff"/>
<rect x="620.2" y="441.05" width="15.2" height="5.51" fill="#0033ff"/>
<rect x="620.2" y="436.34" width="15.2" height="5.51" fill="#0043ff"/>
<rect x="620.2" y="431.62" width="15.2" height="5.51" fill="#0053ff"/>
<rect x="620.2" y="426.91" width="15.2" height="5.51" fill="#0063ff"/>
<rect x="620.2" y="422.20" width="15.2" height="5.51" fill="#0073ff"/>
<rect x="620.2" y="417.49" width="15.2" height="5.51" fill="#0084ff"/>
<rect x="620.2" y="412.78" width="15.2" height="5.51" fill="#0094ff"/>
<rect x="620.2" y="408.06" width="15.2" height="5.51" fill="#00a4ff"/>
<rect x="620.2" y="403.35" width="15.2" height="5.51" fill="#00b4ff"/>
<rect x="620.2" y="398.64" width="15.2" height="5.51" fill="#00c4ff"/>
<rect x="620.2" y="393.93" width="15.2" height="5.51" fill="#00d4ff"/>
<rect x="620.2" y="389.21" width="15.2" height="5.51" fill="#00e5ff"/>
<rect x="620.2" y="384.50" width="15.2" height="5.51" fill="#00f5ff"/>
<rect x="620.2" y="379.79" width="15.2" height="5.51" fill="#06fff9"/>
<rect x="620.2" y="375.08" width="15.2" height="5.51" fill="#16ffe9"/>
<rect x="620.2" y="370.36" width="15.2" height="5.51" fill="#26ffd9"/>
<rect x="620.2" y="365.65" width="15.2" height="5.51" fill="#37ffc8"/>
<rect x="620.2" y="360.94" width="15.2" height="5.51" fill="#47ffb8"/>
<rect x="620.2" y="356.23" width="15.2" height="5.51" fill="#57ffa8"/>
<rect x="620.2" y="351.51" width="15.2" height="5.51" fill="#67ff98"/>
<rect x="620.2" y="346.80" width="15.2" height="5.51" fill="#77ff88"/>
<rect x="620.2" y="342.09" width="15.2" height="5.51" fill="#88ff77"/>
<rect x="620.2" y="337.38" width="15.2" height="5.51" fill="#98ff67"/>
<rect x="620.2" y="332.66" width="15.2" height="5.51" fill="#a8ff57"/>
<rect x="620.2" y="327.95" width="15.2" height="5.51" fill="#b8ff47"/>
<rect x="620.2" y="323.24" width="15.2" height="5.51" fill="#c8ff37"/>
<rect x="620.2" y="318.52" width="15.2" height="5.51" fill="#d9ff26"/>
<rect x="620.2" y="313.81" width="15.2" height="5.51" fill="#e9ff16"/>
<rect x="620.2" y="309.10" width="15.2" height="5.51" fill="#f9ff06"/>
<rect x="620.2" y="304.39" width="15.2" height="5.51" fill="#fff500"/>
<rect x="620.2" y="299.68" width="15.2" height="5.51" fill="#ffe500"/>
<rect x="620.2" y="294.96" width="15.2" height="5.51" fill="#ffd500"/>
<rect x="620.2" y="290.25" width="15.2" height="5.51" fill="#ffc400"/>
<rect x="620.2" y="285.54" width="15.2" height="5.51" fill="#ffb400"/>
<rect x="620.2" y="280.83" width="15.2" height="5.51" fill="#ffa400"/>
<rect x="620.2" y="276.11" width="15.2" height="5.51" fill="#ff9400"/>
<rect x="620.2" y="271.40" width="15.2" height="5.51" fill="#ff8400"/>
<rect x="620.2" y="266.69" width="15.2" height="5.51" fill="#ff7300"/>
<rect x="620.2" y="261.98" width="15.2" height="5.51" fill="#ff6300"/>
<rect x="620.2" y="257.26" width="15.2" height="5.51" fill="#ff5300"/>
<rect x="620.2" y="252.55" width="15.2" height="5.51" fill="#ff4300"/>
<rect x="620.2" y="247.84" width="15.2" height="5.51" fill="#ff3300"/>
<rect x="620.2" y="243.12" width="15.2" height="5.51" fill="#ff2200"/>
<rect x="620.2" y="238.41" width="15.2" height="5.51" fill="#ff1200"/>
<rect x="620.2" y="233.70" width="15.2" height="5.51" fill="#ff0200"/>
<rect x="620.2" y="228.99" width="15.2" height="5.51" fill="#f10000"/>
<rect x="620.2" y="224.27" width="15.2" height="5.51" fill="#e10000"/>
<rect x="620.2" y="219.56" width="15.2" height="5.51" fill="#d00000"/>
<rect x="620.2" y="214.85" width="15.2" height="5.51" fill="#c00000"/>
<rect x="620.2" y="210.14" width="15.2" height="5.51" fill="#b00000"/>
<rect x="620.2" y="205.43" width="15.2" height="5.51" fill="#a00000"/>
<rect x="620.2" y="200.71" width="15.2" height="5.51" fill="#900000"/>
<rect x="620.2" y="196.00" width="15.2" height="5.51" fill="#800000"/>
<rect x="620.65" y="196.45" width="14.3" height="300.7" fill="none" stroke="#000" stroke-opacity="0.45" stroke-width="0.9"/>
</g>
<g id="top">
<rect x="55.6" y="0.2" width="551.2" height="156.4" fill="#fff" stroke="#808080" stroke-width="0.9"/>
<path d="M193.4 156.6 v-5 M193.4 0.2 v5 M331.2 156.6 v-5 M331.2 0.2 v5 M469.0 156.6 v-5 M469.0 0.2 v5 M55.6 34.3 h5 M606.8 34.3 h-5 M55.6 156.1 h5 M606.8 156.1 h-5" stroke="#555" stroke-width="0.8" fill="none"/>
<clipPath id="ac"><rect x="55.6" y="0" width="552.2" height="158.1"/></clipPath>
<g clip-path="url(#ac)" fill="none" stroke="#000" stroke-linejoin="round">
<polyline points="55.6,56.5 69.4,62.4 83.2,87.7 96.9,153.9 110.7,149.2 124.5,156.6 138.3,139.7 152.1,117.4 165.8,90.6 179.6,78.8 193.4,84.7 207.2,127.8 221.0,111.4 234.7,90.6 248.5,79.8 262.3,59.4 276.1,63.9 289.9,68.4 303.6,105.5 317.4,114.4 331.2,133.7 345.0,112.9 358.8,83.2 372.5,56.5 386.3,20.8 400.1,13.4 413.9,42.5 427.7,42.5 441.4,28.8 455.2,28.8 469.0,60.3 482.8,63.0 496.6,75.8 510.3,85.6 524.1,94.2 537.9,97.2 551.7,87.7 565.5,66.9 579.2,19.3 593.0,71.9 606.8,27.3" stroke-width="2.4"/>
<polyline points="55.6,28.8 69.4,35.7 83.2,44.0 96.9,72.8 110.7,136.7 124.5,142.0 138.3,117.4 152.1,66.9 165.8,36.3 179.6,41.0 193.4,58.0 207.2,28.8 221.0,52.9 234.7,47.0 248.5,50.5 262.3,47.5 276.1,35.7 289.9,38.0 303.6,49.9 317.4,44.0 331.2,47.5 345.0,61.5 358.8,54.1 372.5,50.5 386.3,35.1 400.1,25.3 413.9,47.0 427.7,23.8 441.4,23.8 455.2,31.2 469.0,48.4 482.8,25.3 496.6,37.1 510.3,34.2 524.1,55.6 537.9,52.0 551.7,51.1 565.5,52.9 579.2,51.1 593.0,44.6 606.8,27.3" stroke-width="2.4" stroke-dasharray="2.4 2.4"/>
</g>
</g>
<g id="labels">
<text x="48" y="41.2" text-anchor="end">1</text>
<text x="48.3" y="162.3" text-anchor="end">0</text>
<text x="48.5" y="255.8" text-anchor="end">3</text>
<text x="48.5" y="345.3" text-anchor="end">2</text>
<text x="48.5" y="434.6" text-anchor="end">1</text>
<text x="56.5" y="522.3" text-anchor="middle">500</text>
<text x="193.3" y="522.3" text-anchor="middle">1000</text>
<text x="330.9" y="522.3" text-anchor="middle">1500</text>
<text x="467.9" y="522.3" text-anchor="middle">2000</text>
<text x="604.5" y="522.3" text-anchor="middle">2500</text>
<text x="335.2" y="550.4" text-anchor="middle" style="font-size:20.1px">Pulse frequency (Hz)</text>
<text x="644.4" y="204.3">1</text>
<text x="644.4" y="503.2">0</text>
<text transform="translate(16.3,79.1) rotate(-90)" text-anchor="middle">Bound fraction</text>
<text transform="translate(16.6,347) rotate(-90)" text-anchor="middle">Pulse amplitude (µm)</text>
<text transform="translate(684.3,346) rotate(-90)" text-anchor="middle">Unbound fraction</text>
<text class="b" x="63.4" y="147.4">a</text>
<text class="b" x="63.4" y="486.4" style="fill:#fff">b</text>
</g>
</svg>
</body></html>
